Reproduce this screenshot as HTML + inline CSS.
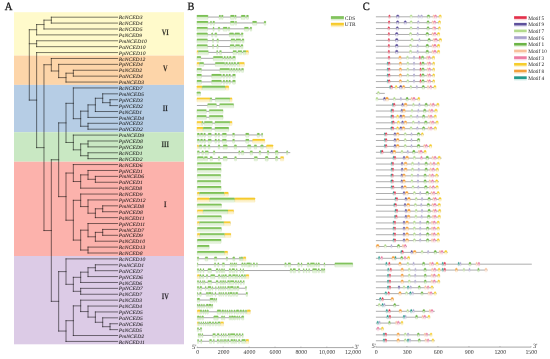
<!DOCTYPE html>
<html><head><meta charset="utf-8"><style>
html,body{margin:0;padding:0;background:#fff;}
body{width:550px;height:359px;overflow:hidden;font-family:"Liberation Serif",serif;}
svg{display:block;will-change:transform;filter:blur(0.35px);text-rendering:geometricPrecision;}
</style></head><body>
<svg width="550" height="359" viewBox="0 0 550 359">
<defs>
<linearGradient id="gc" x1="0" y1="0" x2="0" y2="1"><stop offset="0" stop-color="#74bb4c"/><stop offset="0.36" stop-color="#8cc96a"/><stop offset="0.46" stop-color="#d3ebc5"/><stop offset="0.8" stop-color="#e6f3de"/><stop offset="1" stop-color="#f4faf0"/></linearGradient>
<linearGradient id="gu" x1="0" y1="0" x2="0" y2="1"><stop offset="0" stop-color="#f5c51f"/><stop offset="0.36" stop-color="#f8d240"/><stop offset="0.46" stop-color="#fbe9ad"/><stop offset="0.8" stop-color="#fdf3d2"/><stop offset="1" stop-color="#fefaea"/></linearGradient>
<linearGradient id="gcl" x1="0" y1="0" x2="0" y2="1"><stop offset="0" stop-color="#74bb4c"/><stop offset="0.5" stop-color="#8cc96a"/><stop offset="0.62" stop-color="#d3ebc5"/><stop offset="1" stop-color="#f4faf0"/></linearGradient>
<linearGradient id="gul" x1="0" y1="0" x2="0" y2="1"><stop offset="0" stop-color="#f5c51f"/><stop offset="0.5" stop-color="#f8d240"/><stop offset="0.62" stop-color="#fbe9ad"/><stop offset="1" stop-color="#fefaea"/></linearGradient>
</defs>
<rect x="0" y="0" width="550" height="359" fill="#ffffff"/>
<rect x="14.0" y="12.2" width="170.0" height="43.40" fill="#fffacb"/>
<rect x="14.0" y="55.6" width="170.0" height="29.30" fill="#fdd5a9"/>
<rect x="14.0" y="84.9" width="170.0" height="47.30" fill="#b6cde5"/>
<rect x="14.0" y="132.2" width="170.0" height="29.50" fill="#c9e8c3"/>
<rect x="14.0" y="161.7" width="170.0" height="94.30" fill="#fcb2ac"/>
<rect x="14.0" y="256.0" width="170.0" height="88.30" fill="#dccbe6"/>
<path d="M51.32 17.20L117.60 17.20M51.32 23.09L117.60 23.09M51.32 17.20L51.32 23.09M43.98 20.15L51.32 20.15M43.98 28.99L117.60 28.99M43.98 20.15L43.98 28.99M36.64 24.57L43.98 24.57M36.64 34.88L117.60 34.88M36.64 24.57L36.64 34.88M29.30 29.73L36.64 29.73M36.64 40.78L117.60 40.78M36.64 46.67L117.60 46.67M36.64 40.78L36.64 46.67M29.30 43.73L36.64 43.73M36.64 52.57L117.60 52.57M51.32 58.47L117.60 58.47M58.66 64.36L117.60 64.36M73.34 70.25L117.60 70.25M73.34 76.15L117.60 76.15M73.34 70.25L73.34 76.15M66.00 73.20L73.34 73.20M66.00 82.05L117.60 82.05M66.00 73.20L66.00 82.05M58.66 77.62L66.00 77.62M58.66 64.36L58.66 77.62M51.32 70.99L58.66 70.99M51.32 58.47L51.32 70.99M43.98 64.73L51.32 64.73M73.34 87.94L117.60 87.94M102.70 93.83L117.60 93.83M110.04 99.73L117.60 99.73M110.04 105.62L117.60 105.62M110.04 99.73L110.04 105.62M102.70 102.68L110.04 102.68M102.70 93.83L102.70 102.68M95.36 98.26L102.70 98.26M95.36 111.52L117.60 111.52M95.36 98.26L95.36 111.52M88.02 104.89L95.36 104.89M88.02 117.41L117.60 117.41M88.02 104.89L88.02 117.41M80.68 111.15L88.02 111.15M88.02 123.31L117.60 123.31M88.02 129.20L117.60 129.20M88.02 123.31L88.02 129.20M80.68 126.26L88.02 126.26M80.68 111.15L80.68 126.26M73.34 118.70L80.68 118.70M73.34 87.94L73.34 118.70M66.00 103.32L73.34 103.32M73.34 135.10L117.60 135.10M88.02 140.99L117.60 140.99M88.02 146.89L117.60 146.89M88.02 140.99L88.02 146.89M80.68 143.94L88.02 143.94M88.02 152.78L117.60 152.78M88.02 158.68L117.60 158.68M88.02 152.78L88.02 158.68M80.68 155.73L88.02 155.73M80.68 143.94L80.68 155.73M73.34 149.84L80.68 149.84M73.34 135.10L73.34 149.84M66.00 142.47L73.34 142.47M66.00 103.32L66.00 142.47M58.66 122.90L66.00 122.90M73.34 164.57L117.60 164.57M88.02 170.47L117.60 170.47M95.36 176.36L117.60 176.36M95.36 182.26L117.60 182.26M95.36 176.36L95.36 182.26M88.02 179.31L95.36 179.31M88.02 170.47L88.02 179.31M80.68 174.89L88.02 174.89M80.68 188.15L117.60 188.15M80.68 174.89L80.68 188.15M73.34 181.52L80.68 181.52M73.34 164.57L73.34 181.52M66.00 173.05L73.34 173.05M80.68 194.05L117.60 194.05M88.02 199.94L117.60 199.94M102.70 205.84L117.60 205.84M102.70 211.73L117.60 211.73M102.70 205.84L102.70 211.73M95.36 208.79L102.70 208.79M95.36 217.63L117.60 217.63M95.36 208.79L95.36 217.63M88.02 213.21L95.36 213.21M88.02 199.94L88.02 213.21M80.68 206.58L88.02 206.58M80.68 194.05L80.68 206.58M73.34 200.31L80.68 200.31M88.02 223.52L117.60 223.52M102.70 229.42L117.60 229.42M102.70 235.31L117.60 235.31M102.70 229.42L102.70 235.31M95.36 232.37L102.70 232.37M95.36 241.21L117.60 241.21M95.36 232.37L95.36 241.21M88.02 236.79L95.36 236.79M88.02 223.52L88.02 236.79M80.68 230.16L88.02 230.16M88.02 247.10L117.60 247.10M88.02 253.00L117.60 253.00M88.02 247.10L88.02 253.00M80.68 250.05L88.02 250.05M80.68 230.16L80.68 250.05M73.34 240.10L80.68 240.10M73.34 200.31L73.34 240.10M66.00 220.21L73.34 220.21M66.00 173.05L66.00 220.21M58.66 196.63L66.00 196.63M58.66 122.90L58.66 196.63M51.32 159.76L58.66 159.76M66.00 258.89L117.60 258.89M95.36 264.79L117.60 264.79M95.36 270.69L117.60 270.69M95.36 264.79L95.36 270.69M88.02 267.74L95.36 267.74M88.02 276.58L117.60 276.58M88.02 267.74L88.02 276.58M80.68 272.16L88.02 272.16M80.68 282.47L117.60 282.47M80.68 272.16L80.68 282.47M73.34 277.32L80.68 277.32M80.68 288.37L117.60 288.37M80.68 294.26L117.60 294.26M80.68 288.37L80.68 294.26M73.34 291.32L80.68 291.32M73.34 277.32L73.34 291.32M66.00 284.32L73.34 284.32M66.00 258.89L66.00 284.32M58.66 271.61L66.00 271.61M80.68 300.16L117.60 300.16M88.02 306.05L117.60 306.05M95.36 311.95L117.60 311.95M102.70 317.84L117.60 317.84M110.04 323.74L117.60 323.74M110.04 329.63L117.60 329.63M110.04 323.74L110.04 329.63M102.70 326.69L110.04 326.69M102.70 317.84L102.70 326.69M95.36 322.27L102.70 322.27M95.36 311.95L95.36 322.27M88.02 317.11L95.36 317.11M88.02 306.05L88.02 317.11M80.68 311.58L88.02 311.58M80.68 300.16L80.68 311.58M73.34 305.87L80.68 305.87M73.34 335.53L117.60 335.53M73.34 305.87L73.34 335.53M66.00 320.70L73.34 320.70M66.00 341.42L117.60 341.42M66.00 320.70L66.00 341.42M58.66 331.06L66.00 331.06M58.66 271.61L58.66 331.06M51.32 301.33L58.66 301.33M51.32 159.76L51.32 301.33M43.98 230.55L51.32 230.55M43.98 64.73L43.98 230.55M36.64 147.64L43.98 147.64M36.64 52.57L36.64 147.64M29.30 100.10L36.64 100.10M29.30 29.73L29.30 100.10" stroke="#000" stroke-opacity="0.52" stroke-width="1.0" fill="none" stroke-linecap="square"/>
<g font-family="Liberation Serif" font-style="italic" font-size="5.1" fill="#000" fill-opacity="0.78" stroke="#000" stroke-opacity="0.3" stroke-width="0.2">
<text transform="translate(118.8 19.30) scale(1.1 1)">RcNCED3</text>
<text transform="translate(118.8 25.20) scale(1.1 1)">RcNCED4</text>
<text transform="translate(118.8 31.09) scale(1.1 1)">RcNCED5</text>
<text transform="translate(118.8 36.98) scale(1.1 1)">PsNCED9</text>
<text transform="translate(118.8 42.88) scale(1.1 1)">PmNCED10</text>
<text transform="translate(118.8 48.77) scale(1.1 1)">PaNCED10</text>
<text transform="translate(118.8 54.67) scale(1.1 1)">PpNCED10</text>
<text transform="translate(118.8 60.57) scale(1.1 1)">RcNCED12</text>
<text transform="translate(118.8 66.46) scale(1.1 1)">PpNCED4</text>
<text transform="translate(118.8 72.35) scale(1.1 1)">PsNCED2</text>
<text transform="translate(118.8 78.25) scale(1.1 1)">PaNCED4</text>
<text transform="translate(118.8 84.14) scale(1.1 1)">PmNCED3</text>
<text transform="translate(118.8 90.04) scale(1.1 1)">RcNCED7</text>
<text transform="translate(118.8 95.93) scale(1.1 1)">PmNCED5</text>
<text transform="translate(118.8 101.83) scale(1.1 1)">PpNCED3</text>
<text transform="translate(118.8 107.72) scale(1.1 1)">PpNCED2</text>
<text transform="translate(118.8 113.62) scale(1.1 1)">PsNCED1</text>
<text transform="translate(118.8 119.51) scale(1.1 1)">PmNCED4</text>
<text transform="translate(118.8 125.41) scale(1.1 1)">PaNCED3</text>
<text transform="translate(118.8 131.30) scale(1.1 1)">PaNCED2</text>
<text transform="translate(118.8 137.20) scale(1.1 1)">PmNCED9</text>
<text transform="translate(118.8 143.09) scale(1.1 1)">PpNCED8</text>
<text transform="translate(118.8 148.99) scale(1.1 1)">PpNCED9</text>
<text transform="translate(118.8 154.88) scale(1.1 1)">RcNCED1</text>
<text transform="translate(118.8 160.78) scale(1.1 1)">RcNCED2</text>
<text transform="translate(118.8 166.67) scale(1.1 1)">RcNCED6</text>
<text transform="translate(118.8 172.57) scale(1.1 1)">PpNCED1</text>
<text transform="translate(118.8 178.46) scale(1.1 1)">PmNCED6</text>
<text transform="translate(118.8 184.36) scale(1.1 1)">PaNCED1</text>
<text transform="translate(118.8 190.25) scale(1.1 1)">PsNCED8</text>
<text transform="translate(118.8 196.15) scale(1.1 1)">RcNCED9</text>
<text transform="translate(118.8 202.04) scale(1.1 1)">PpNCED12</text>
<text transform="translate(118.8 207.94) scale(1.1 1)">PmNCED8</text>
<text transform="translate(118.8 213.83) scale(1.1 1)">PaNCED8</text>
<text transform="translate(118.8 219.73) scale(1.1 1)">PsNCED11</text>
<text transform="translate(118.8 225.62) scale(1.1 1)">PpNCED11</text>
<text transform="translate(118.8 231.52) scale(1.1 1)">PmNCED7</text>
<text transform="translate(118.8 237.41) scale(1.1 1)">PaNCED9</text>
<text transform="translate(118.8 243.31) scale(1.1 1)">PsNCED10</text>
<text transform="translate(118.8 249.20) scale(1.1 1)">RcNCED13</text>
<text transform="translate(118.8 255.10) scale(1.1 1)">RcNCED8</text>
<text transform="translate(118.8 261.00) scale(1.1 1)">RcNCED10</text>
<text transform="translate(118.8 266.89) scale(1.1 1)">PmNCED1</text>
<text transform="translate(118.8 272.79) scale(1.1 1)">PaNCED7</text>
<text transform="translate(118.8 278.68) scale(1.1 1)">PpNCED6</text>
<text transform="translate(118.8 284.57) scale(1.1 1)">PsNCED6</text>
<text transform="translate(118.8 290.47) scale(1.1 1)">PpNCED7</text>
<text transform="translate(118.8 296.37) scale(1.1 1)">PsNCED7</text>
<text transform="translate(118.8 302.26) scale(1.1 1)">PsNCED3</text>
<text transform="translate(118.8 308.15) scale(1.1 1)">PsNCED4</text>
<text transform="translate(118.8 314.05) scale(1.1 1)">PpNCED5</text>
<text transform="translate(118.8 319.94) scale(1.1 1)">PaNCED5</text>
<text transform="translate(118.8 325.84) scale(1.1 1)">PaNCED6</text>
<text transform="translate(118.8 331.74) scale(1.1 1)">PsNCED5</text>
<text transform="translate(118.8 337.63) scale(1.1 1)">PmNCED2</text>
<text transform="translate(118.8 343.52) scale(1.1 1)">RcNCED11</text>
</g>
<g font-family="Liberation Serif" font-weight="bold" font-size="8.6" fill="#000" fill-opacity="0.75" stroke="#000" stroke-opacity="0.45" stroke-width="0.3" text-anchor="middle">
<text transform="translate(165.3 34.85) scale(0.74 1)">VI</text>
<text transform="translate(165.3 70.65) scale(0.74 1)">V</text>
<text transform="translate(165.3 110.65) scale(0.74 1)">II</text>
<text transform="translate(165.3 146.75) scale(0.74 1)">III</text>
<text transform="translate(165.3 206.85) scale(0.74 1)">I</text>
<text transform="translate(165.3 298.65) scale(0.74 1)">IV</text>
</g>
<g font-family="Liberation Serif" font-size="11.2" fill="#111" stroke="#111" stroke-width="0.25">
<text transform="translate(4.7 9.7) scale(0.95 1)">A</text>
<text transform="translate(187.6 9.75) scale(0.92 1)">B</text>
<text transform="translate(362.8 9.8) scale(0.94 1)">C</text>
</g>
<line x1="196.91" y1="17.05" x2="248.46" y2="17.05" stroke="#8c8c8c" stroke-width="0.75"/>
<rect x="196.91" y="15.10" width="11.13" height="4.3" rx="0.4" fill="url(#gc)" stroke="#8cc86a" stroke-opacity="0.55" stroke-width="0.3"/>
<rect x="219.00" y="15.10" width="1.64" height="4.3" rx="0.4" fill="url(#gc)" stroke="#8cc86a" stroke-opacity="0.55" stroke-width="0.3"/>
<rect x="221.46" y="15.10" width="1.64" height="4.3" rx="0.4" fill="url(#gc)" stroke="#8cc86a" stroke-opacity="0.55" stroke-width="0.3"/>
<rect x="230.46" y="15.10" width="3.76" height="4.3" rx="0.4" fill="url(#gc)" stroke="#8cc86a" stroke-opacity="0.55" stroke-width="0.3"/>
<rect x="234.88" y="15.10" width="1.31" height="4.3" rx="0.4" fill="url(#gc)" stroke="#8cc86a" stroke-opacity="0.55" stroke-width="0.3"/>
<rect x="241.10" y="15.10" width="4.09" height="4.3" rx="0.4" fill="url(#gc)" stroke="#8cc86a" stroke-opacity="0.55" stroke-width="0.3"/>
<rect x="246.50" y="15.10" width="1.96" height="4.3" rx="0.4" fill="url(#gc)" stroke="#8cc86a" stroke-opacity="0.55" stroke-width="0.3"/>
<line x1="196.91" y1="22.95" x2="265.98" y2="22.95" stroke="#8c8c8c" stroke-width="0.75"/>
<rect x="196.91" y="21.00" width="11.13" height="4.3" rx="0.4" fill="url(#gc)" stroke="#8cc86a" stroke-opacity="0.55" stroke-width="0.3"/>
<rect x="210.33" y="21.00" width="1.31" height="4.3" rx="0.4" fill="url(#gc)" stroke="#8cc86a" stroke-opacity="0.55" stroke-width="0.3"/>
<rect x="212.95" y="21.00" width="1.64" height="4.3" rx="0.4" fill="url(#gc)" stroke="#8cc86a" stroke-opacity="0.55" stroke-width="0.3"/>
<rect x="230.46" y="21.00" width="3.76" height="4.3" rx="0.4" fill="url(#gc)" stroke="#8cc86a" stroke-opacity="0.55" stroke-width="0.3"/>
<rect x="235.37" y="21.00" width="1.15" height="4.3" rx="0.4" fill="url(#gc)" stroke="#8cc86a" stroke-opacity="0.55" stroke-width="0.3"/>
<rect x="252.56" y="21.00" width="4.09" height="4.3" rx="0.4" fill="url(#gc)" stroke="#8cc86a" stroke-opacity="0.55" stroke-width="0.3"/>
<rect x="264.01" y="21.00" width="1.96" height="4.3" rx="0.4" fill="url(#gc)" stroke="#8cc86a" stroke-opacity="0.55" stroke-width="0.3"/>
<line x1="196.91" y1="28.84" x2="251.74" y2="28.84" stroke="#8c8c8c" stroke-width="0.75"/>
<rect x="196.91" y="26.89" width="10.64" height="4.3" rx="0.4" fill="url(#gc)" stroke="#8cc86a" stroke-opacity="0.55" stroke-width="0.3"/>
<rect x="212.95" y="26.89" width="1.15" height="4.3" rx="0.4" fill="url(#gc)" stroke="#8cc86a" stroke-opacity="0.55" stroke-width="0.3"/>
<rect x="218.19" y="26.89" width="1.64" height="4.3" rx="0.4" fill="url(#gc)" stroke="#8cc86a" stroke-opacity="0.55" stroke-width="0.3"/>
<rect x="223.10" y="26.89" width="4.09" height="4.3" rx="0.4" fill="url(#gc)" stroke="#8cc86a" stroke-opacity="0.55" stroke-width="0.3"/>
<rect x="228.33" y="26.89" width="1.31" height="4.3" rx="0.4" fill="url(#gc)" stroke="#8cc86a" stroke-opacity="0.55" stroke-width="0.3"/>
<rect x="244.37" y="26.89" width="4.09" height="4.3" rx="0.4" fill="url(#gc)" stroke="#8cc86a" stroke-opacity="0.55" stroke-width="0.3"/>
<rect x="250.10" y="26.89" width="1.64" height="4.3" rx="0.4" fill="url(#gc)" stroke="#8cc86a" stroke-opacity="0.55" stroke-width="0.3"/>
<line x1="196.91" y1="34.73" x2="243.06" y2="34.73" stroke="#8c8c8c" stroke-width="0.75"/>
<rect x="196.91" y="32.78" width="10.64" height="4.3" rx="0.4" fill="url(#gc)" stroke="#8cc86a" stroke-opacity="0.55" stroke-width="0.3"/>
<rect x="211.64" y="32.78" width="1.31" height="4.3" rx="0.4" fill="url(#gc)" stroke="#8cc86a" stroke-opacity="0.55" stroke-width="0.3"/>
<rect x="214.91" y="32.78" width="1.96" height="4.3" rx="0.4" fill="url(#gc)" stroke="#8cc86a" stroke-opacity="0.55" stroke-width="0.3"/>
<rect x="229.32" y="32.78" width="4.42" height="4.3" rx="0.4" fill="url(#gc)" stroke="#8cc86a" stroke-opacity="0.55" stroke-width="0.3"/>
<rect x="234.88" y="32.78" width="4.91" height="4.3" rx="0.4" fill="url(#gc)" stroke="#8cc86a" stroke-opacity="0.55" stroke-width="0.3"/>
<rect x="241.10" y="32.78" width="1.96" height="4.3" rx="0.4" fill="url(#gc)" stroke="#8cc86a" stroke-opacity="0.55" stroke-width="0.3"/>
<line x1="196.91" y1="40.63" x2="244.05" y2="40.63" stroke="#8c8c8c" stroke-width="0.75"/>
<rect x="196.91" y="38.68" width="10.64" height="4.3" rx="0.4" fill="url(#gc)" stroke="#8cc86a" stroke-opacity="0.55" stroke-width="0.3"/>
<rect x="212.46" y="38.68" width="1.15" height="4.3" rx="0.4" fill="url(#gc)" stroke="#8cc86a" stroke-opacity="0.55" stroke-width="0.3"/>
<rect x="216.88" y="38.68" width="1.64" height="4.3" rx="0.4" fill="url(#gc)" stroke="#8cc86a" stroke-opacity="0.55" stroke-width="0.3"/>
<rect x="230.95" y="38.68" width="3.93" height="4.3" rx="0.4" fill="url(#gc)" stroke="#8cc86a" stroke-opacity="0.55" stroke-width="0.3"/>
<rect x="235.86" y="38.68" width="4.91" height="4.3" rx="0.4" fill="url(#gc)" stroke="#8cc86a" stroke-opacity="0.55" stroke-width="0.3"/>
<rect x="241.92" y="38.68" width="2.13" height="4.3" rx="0.4" fill="url(#gc)" stroke="#8cc86a" stroke-opacity="0.55" stroke-width="0.3"/>
<line x1="196.91" y1="46.52" x2="243.06" y2="46.52" stroke="#8c8c8c" stroke-width="0.75"/>
<rect x="196.91" y="44.57" width="10.64" height="4.3" rx="0.4" fill="url(#gc)" stroke="#8cc86a" stroke-opacity="0.55" stroke-width="0.3"/>
<rect x="212.46" y="44.57" width="1.15" height="4.3" rx="0.4" fill="url(#gc)" stroke="#8cc86a" stroke-opacity="0.55" stroke-width="0.3"/>
<rect x="216.88" y="44.57" width="1.31" height="4.3" rx="0.4" fill="url(#gc)" stroke="#8cc86a" stroke-opacity="0.55" stroke-width="0.3"/>
<rect x="229.97" y="44.57" width="4.26" height="4.3" rx="0.4" fill="url(#gc)" stroke="#8cc86a" stroke-opacity="0.55" stroke-width="0.3"/>
<rect x="235.37" y="44.57" width="4.42" height="4.3" rx="0.4" fill="url(#gc)" stroke="#8cc86a" stroke-opacity="0.55" stroke-width="0.3"/>
<rect x="240.77" y="44.57" width="2.29" height="4.3" rx="0.4" fill="url(#gc)" stroke="#8cc86a" stroke-opacity="0.55" stroke-width="0.3"/>
<line x1="196.91" y1="52.42" x2="248.46" y2="52.42" stroke="#8c8c8c" stroke-width="0.75"/>
<rect x="196.91" y="50.47" width="1.31" height="4.3" rx="0.4" fill="url(#gu)" stroke="#f5cf3a" stroke-opacity="0.55" stroke-width="0.3"/>
<rect x="198.22" y="50.47" width="10.15" height="4.3" rx="0.4" fill="url(#gc)" stroke="#8cc86a" stroke-opacity="0.55" stroke-width="0.3"/>
<rect x="216.55" y="50.47" width="1.31" height="4.3" rx="0.4" fill="url(#gc)" stroke="#8cc86a" stroke-opacity="0.55" stroke-width="0.3"/>
<rect x="219.50" y="50.47" width="1.96" height="4.3" rx="0.4" fill="url(#gc)" stroke="#8cc86a" stroke-opacity="0.55" stroke-width="0.3"/>
<rect x="232.92" y="50.47" width="3.60" height="4.3" rx="0.4" fill="url(#gc)" stroke="#8cc86a" stroke-opacity="0.55" stroke-width="0.3"/>
<rect x="237.83" y="50.47" width="4.09" height="4.3" rx="0.4" fill="url(#gc)" stroke="#8cc86a" stroke-opacity="0.55" stroke-width="0.3"/>
<rect x="243.06" y="50.47" width="2.95" height="4.3" rx="0.4" fill="url(#gc)" stroke="#8cc86a" stroke-opacity="0.55" stroke-width="0.3"/>
<rect x="246.01" y="50.47" width="2.45" height="4.3" rx="0.4" fill="url(#gu)" stroke="#f5cf3a" stroke-opacity="0.55" stroke-width="0.3"/>
<line x1="196.91" y1="58.32" x2="235.37" y2="58.32" stroke="#8c8c8c" stroke-width="0.75"/>
<rect x="196.91" y="56.37" width="4.09" height="4.3" rx="0.4" fill="url(#gc)" stroke="#8cc86a" stroke-opacity="0.55" stroke-width="0.3"/>
<rect x="213.28" y="56.37" width="9.49" height="4.3" rx="0.4" fill="url(#gc)" stroke="#8cc86a" stroke-opacity="0.55" stroke-width="0.3"/>
<rect x="223.91" y="56.37" width="1.64" height="4.3" rx="0.4" fill="url(#gc)" stroke="#8cc86a" stroke-opacity="0.55" stroke-width="0.3"/>
<rect x="226.70" y="56.37" width="1.64" height="4.3" rx="0.4" fill="url(#gc)" stroke="#8cc86a" stroke-opacity="0.55" stroke-width="0.3"/>
<rect x="229.32" y="56.37" width="1.96" height="4.3" rx="0.4" fill="url(#gc)" stroke="#8cc86a" stroke-opacity="0.55" stroke-width="0.3"/>
<rect x="232.59" y="56.37" width="2.78" height="4.3" rx="0.4" fill="url(#gc)" stroke="#8cc86a" stroke-opacity="0.55" stroke-width="0.3"/>
<line x1="196.91" y1="64.21" x2="244.37" y2="64.21" stroke="#8c8c8c" stroke-width="0.75"/>
<rect x="196.91" y="62.26" width="2.45" height="4.3" rx="0.4" fill="url(#gu)" stroke="#f5cf3a" stroke-opacity="0.55" stroke-width="0.3"/>
<rect x="199.36" y="62.26" width="4.42" height="4.3" rx="0.4" fill="url(#gc)" stroke="#8cc86a" stroke-opacity="0.55" stroke-width="0.3"/>
<rect x="215.24" y="62.26" width="9.49" height="4.3" rx="0.4" fill="url(#gc)" stroke="#8cc86a" stroke-opacity="0.55" stroke-width="0.3"/>
<rect x="225.55" y="62.26" width="2.13" height="4.3" rx="0.4" fill="url(#gc)" stroke="#8cc86a" stroke-opacity="0.55" stroke-width="0.3"/>
<rect x="228.82" y="62.26" width="1.64" height="4.3" rx="0.4" fill="url(#gc)" stroke="#8cc86a" stroke-opacity="0.55" stroke-width="0.3"/>
<rect x="231.28" y="62.26" width="1.64" height="4.3" rx="0.4" fill="url(#gc)" stroke="#8cc86a" stroke-opacity="0.55" stroke-width="0.3"/>
<rect x="233.73" y="62.26" width="2.13" height="4.3" rx="0.4" fill="url(#gc)" stroke="#8cc86a" stroke-opacity="0.55" stroke-width="0.3"/>
<rect x="237.01" y="62.26" width="2.45" height="4.3" rx="0.4" fill="url(#gc)" stroke="#8cc86a" stroke-opacity="0.55" stroke-width="0.3"/>
<rect x="239.46" y="62.26" width="4.91" height="4.3" rx="0.4" fill="url(#gu)" stroke="#f5cf3a" stroke-opacity="0.55" stroke-width="0.3"/>
<line x1="196.91" y1="70.10" x2="243.55" y2="70.10" stroke="#8c8c8c" stroke-width="0.75"/>
<rect x="196.91" y="68.15" width="4.58" height="4.3" rx="0.4" fill="url(#gc)" stroke="#8cc86a" stroke-opacity="0.55" stroke-width="0.3"/>
<rect x="219.82" y="68.15" width="9.82" height="4.3" rx="0.4" fill="url(#gc)" stroke="#8cc86a" stroke-opacity="0.55" stroke-width="0.3"/>
<rect x="230.63" y="68.15" width="1.64" height="4.3" rx="0.4" fill="url(#gc)" stroke="#8cc86a" stroke-opacity="0.55" stroke-width="0.3"/>
<rect x="233.24" y="68.15" width="1.64" height="4.3" rx="0.4" fill="url(#gc)" stroke="#8cc86a" stroke-opacity="0.55" stroke-width="0.3"/>
<rect x="235.86" y="68.15" width="1.64" height="4.3" rx="0.4" fill="url(#gc)" stroke="#8cc86a" stroke-opacity="0.55" stroke-width="0.3"/>
<rect x="238.64" y="68.15" width="1.64" height="4.3" rx="0.4" fill="url(#gc)" stroke="#8cc86a" stroke-opacity="0.55" stroke-width="0.3"/>
<rect x="241.43" y="68.15" width="2.13" height="4.3" rx="0.4" fill="url(#gc)" stroke="#8cc86a" stroke-opacity="0.55" stroke-width="0.3"/>
<line x1="196.91" y1="76.00" x2="235.37" y2="76.00" stroke="#8c8c8c" stroke-width="0.75"/>
<rect x="196.91" y="74.05" width="4.58" height="4.3" rx="0.4" fill="url(#gc)" stroke="#8cc86a" stroke-opacity="0.55" stroke-width="0.3"/>
<rect x="211.64" y="74.05" width="9.82" height="4.3" rx="0.4" fill="url(#gc)" stroke="#8cc86a" stroke-opacity="0.55" stroke-width="0.3"/>
<rect x="222.77" y="74.05" width="1.96" height="4.3" rx="0.4" fill="url(#gc)" stroke="#8cc86a" stroke-opacity="0.55" stroke-width="0.3"/>
<rect x="226.04" y="74.05" width="1.64" height="4.3" rx="0.4" fill="url(#gc)" stroke="#8cc86a" stroke-opacity="0.55" stroke-width="0.3"/>
<rect x="228.82" y="74.05" width="1.64" height="4.3" rx="0.4" fill="url(#gc)" stroke="#8cc86a" stroke-opacity="0.55" stroke-width="0.3"/>
<rect x="232.59" y="74.05" width="2.78" height="4.3" rx="0.4" fill="url(#gc)" stroke="#8cc86a" stroke-opacity="0.55" stroke-width="0.3"/>
<line x1="196.91" y1="81.89" x2="235.37" y2="81.89" stroke="#8c8c8c" stroke-width="0.75"/>
<rect x="196.91" y="79.94" width="4.58" height="4.3" rx="0.4" fill="url(#gc)" stroke="#8cc86a" stroke-opacity="0.55" stroke-width="0.3"/>
<rect x="211.64" y="79.94" width="9.82" height="4.3" rx="0.4" fill="url(#gc)" stroke="#8cc86a" stroke-opacity="0.55" stroke-width="0.3"/>
<rect x="223.10" y="79.94" width="1.64" height="4.3" rx="0.4" fill="url(#gc)" stroke="#8cc86a" stroke-opacity="0.55" stroke-width="0.3"/>
<rect x="226.04" y="79.94" width="1.64" height="4.3" rx="0.4" fill="url(#gc)" stroke="#8cc86a" stroke-opacity="0.55" stroke-width="0.3"/>
<rect x="228.82" y="79.94" width="1.64" height="4.3" rx="0.4" fill="url(#gc)" stroke="#8cc86a" stroke-opacity="0.55" stroke-width="0.3"/>
<rect x="232.59" y="79.94" width="2.78" height="4.3" rx="0.4" fill="url(#gc)" stroke="#8cc86a" stroke-opacity="0.55" stroke-width="0.3"/>
<line x1="196.91" y1="87.79" x2="228.82" y2="87.79" stroke="#8c8c8c" stroke-width="0.75"/>
<rect x="196.91" y="85.84" width="5.24" height="4.3" rx="0.4" fill="url(#gu)" stroke="#f5cf3a" stroke-opacity="0.55" stroke-width="0.3"/>
<rect x="202.15" y="85.84" width="23.40" height="4.3" rx="0.4" fill="url(#gc)" stroke="#8cc86a" stroke-opacity="0.55" stroke-width="0.3"/>
<rect x="225.55" y="85.84" width="3.27" height="4.3" rx="0.4" fill="url(#gu)" stroke="#f5cf3a" stroke-opacity="0.55" stroke-width="0.3"/>
<line x1="196.91" y1="93.68" x2="200.51" y2="93.68" stroke="#8c8c8c" stroke-width="0.75"/>
<rect x="196.91" y="91.73" width="3.60" height="4.3" rx="0.4" fill="url(#gc)" stroke="#8cc86a" stroke-opacity="0.55" stroke-width="0.3"/>
<line x1="196.91" y1="99.58" x2="232.10" y2="99.58" stroke="#8c8c8c" stroke-width="0.75"/>
<rect x="196.91" y="97.63" width="13.09" height="4.3" rx="0.4" fill="url(#gu)" stroke="#f5cf3a" stroke-opacity="0.55" stroke-width="0.3"/>
<rect x="210.00" y="97.63" width="1.96" height="4.3" rx="0.4" fill="url(#gc)" stroke="#8cc86a" stroke-opacity="0.55" stroke-width="0.3"/>
<rect x="215.24" y="97.63" width="14.73" height="4.3" rx="0.4" fill="url(#gc)" stroke="#8cc86a" stroke-opacity="0.55" stroke-width="0.3"/>
<rect x="229.97" y="97.63" width="2.13" height="4.3" rx="0.4" fill="url(#gu)" stroke="#f5cf3a" stroke-opacity="0.55" stroke-width="0.3"/>
<line x1="196.91" y1="105.47" x2="233.73" y2="105.47" stroke="#8c8c8c" stroke-width="0.75"/>
<rect x="207.55" y="103.52" width="9.00" height="4.3" rx="0.4" fill="url(#gc)" stroke="#8cc86a" stroke-opacity="0.55" stroke-width="0.3"/>
<rect x="219.50" y="103.52" width="14.24" height="4.3" rx="0.4" fill="url(#gc)" stroke="#8cc86a" stroke-opacity="0.55" stroke-width="0.3"/>
<line x1="196.91" y1="111.37" x2="223.10" y2="111.37" stroke="#8c8c8c" stroke-width="0.75"/>
<rect x="196.91" y="109.42" width="9.49" height="4.3" rx="0.4" fill="url(#gc)" stroke="#8cc86a" stroke-opacity="0.55" stroke-width="0.3"/>
<rect x="209.18" y="109.42" width="13.91" height="4.3" rx="0.4" fill="url(#gc)" stroke="#8cc86a" stroke-opacity="0.55" stroke-width="0.3"/>
<line x1="196.91" y1="117.26" x2="223.10" y2="117.26" stroke="#8c8c8c" stroke-width="0.75"/>
<rect x="196.91" y="115.31" width="9.49" height="4.3" rx="0.4" fill="url(#gc)" stroke="#8cc86a" stroke-opacity="0.55" stroke-width="0.3"/>
<rect x="209.18" y="115.31" width="13.91" height="4.3" rx="0.4" fill="url(#gc)" stroke="#8cc86a" stroke-opacity="0.55" stroke-width="0.3"/>
<line x1="196.91" y1="123.16" x2="232.10" y2="123.16" stroke="#8c8c8c" stroke-width="0.75"/>
<rect x="196.91" y="121.21" width="4.91" height="4.3" rx="0.4" fill="url(#gu)" stroke="#f5cf3a" stroke-opacity="0.55" stroke-width="0.3"/>
<rect x="201.82" y="121.21" width="1.31" height="4.3" rx="0.4" fill="url(#gc)" stroke="#8cc86a" stroke-opacity="0.55" stroke-width="0.3"/>
<rect x="204.27" y="121.21" width="8.18" height="4.3" rx="0.4" fill="url(#gc)" stroke="#8cc86a" stroke-opacity="0.55" stroke-width="0.3"/>
<rect x="214.91" y="121.21" width="15.06" height="4.3" rx="0.4" fill="url(#gc)" stroke="#8cc86a" stroke-opacity="0.55" stroke-width="0.3"/>
<rect x="229.97" y="121.21" width="2.13" height="4.3" rx="0.4" fill="url(#gu)" stroke="#f5cf3a" stroke-opacity="0.55" stroke-width="0.3"/>
<line x1="196.91" y1="129.05" x2="228.82" y2="129.05" stroke="#8c8c8c" stroke-width="0.75"/>
<rect x="196.91" y="127.10" width="6.22" height="4.3" rx="0.4" fill="url(#gu)" stroke="#f5cf3a" stroke-opacity="0.55" stroke-width="0.3"/>
<rect x="203.13" y="127.10" width="8.51" height="4.3" rx="0.4" fill="url(#gc)" stroke="#8cc86a" stroke-opacity="0.55" stroke-width="0.3"/>
<rect x="214.91" y="127.10" width="13.91" height="4.3" rx="0.4" fill="url(#gc)" stroke="#8cc86a" stroke-opacity="0.55" stroke-width="0.3"/>
<line x1="197.24" y1="134.95" x2="262.70" y2="134.95" stroke="#8c8c8c" stroke-width="0.75"/>
<rect x="197.24" y="133.00" width="2.13" height="4.3" rx="0.4" fill="url(#gc)" stroke="#8cc86a" stroke-opacity="0.55" stroke-width="0.3"/>
<rect x="200.51" y="133.00" width="2.13" height="4.3" rx="0.4" fill="url(#gc)" stroke="#8cc86a" stroke-opacity="0.55" stroke-width="0.3"/>
<rect x="203.78" y="133.00" width="1.64" height="4.3" rx="0.4" fill="url(#gc)" stroke="#8cc86a" stroke-opacity="0.55" stroke-width="0.3"/>
<rect x="208.04" y="133.00" width="3.27" height="4.3" rx="0.4" fill="url(#gc)" stroke="#8cc86a" stroke-opacity="0.55" stroke-width="0.3"/>
<rect x="214.91" y="133.00" width="1.64" height="4.3" rx="0.4" fill="url(#gc)" stroke="#8cc86a" stroke-opacity="0.55" stroke-width="0.3"/>
<rect x="218.19" y="133.00" width="1.31" height="4.3" rx="0.4" fill="url(#gc)" stroke="#8cc86a" stroke-opacity="0.55" stroke-width="0.3"/>
<rect x="222.28" y="133.00" width="4.09" height="4.3" rx="0.4" fill="url(#gc)" stroke="#8cc86a" stroke-opacity="0.55" stroke-width="0.3"/>
<rect x="232.59" y="133.00" width="1.96" height="4.3" rx="0.4" fill="url(#gc)" stroke="#8cc86a" stroke-opacity="0.55" stroke-width="0.3"/>
<rect x="245.68" y="133.00" width="3.27" height="4.3" rx="0.4" fill="url(#gc)" stroke="#8cc86a" stroke-opacity="0.55" stroke-width="0.3"/>
<rect x="257.14" y="133.00" width="2.29" height="4.3" rx="0.4" fill="url(#gc)" stroke="#8cc86a" stroke-opacity="0.55" stroke-width="0.3"/>
<rect x="261.56" y="133.00" width="1.15" height="4.3" rx="0.4" fill="url(#gc)" stroke="#8cc86a" stroke-opacity="0.55" stroke-width="0.3"/>
<line x1="197.24" y1="140.84" x2="264.83" y2="140.84" stroke="#8c8c8c" stroke-width="0.75"/>
<rect x="197.24" y="138.89" width="2.13" height="4.3" rx="0.4" fill="url(#gc)" stroke="#8cc86a" stroke-opacity="0.55" stroke-width="0.3"/>
<rect x="200.51" y="138.89" width="2.13" height="4.3" rx="0.4" fill="url(#gc)" stroke="#8cc86a" stroke-opacity="0.55" stroke-width="0.3"/>
<rect x="203.78" y="138.89" width="1.64" height="4.3" rx="0.4" fill="url(#gc)" stroke="#8cc86a" stroke-opacity="0.55" stroke-width="0.3"/>
<rect x="208.04" y="138.89" width="3.27" height="4.3" rx="0.4" fill="url(#gc)" stroke="#8cc86a" stroke-opacity="0.55" stroke-width="0.3"/>
<rect x="214.91" y="138.89" width="1.64" height="4.3" rx="0.4" fill="url(#gc)" stroke="#8cc86a" stroke-opacity="0.55" stroke-width="0.3"/>
<rect x="218.19" y="138.89" width="1.31" height="4.3" rx="0.4" fill="url(#gc)" stroke="#8cc86a" stroke-opacity="0.55" stroke-width="0.3"/>
<rect x="222.28" y="138.89" width="4.09" height="4.3" rx="0.4" fill="url(#gc)" stroke="#8cc86a" stroke-opacity="0.55" stroke-width="0.3"/>
<rect x="232.59" y="138.89" width="1.96" height="4.3" rx="0.4" fill="url(#gc)" stroke="#8cc86a" stroke-opacity="0.55" stroke-width="0.3"/>
<rect x="245.68" y="138.89" width="3.27" height="4.3" rx="0.4" fill="url(#gc)" stroke="#8cc86a" stroke-opacity="0.55" stroke-width="0.3"/>
<rect x="252.56" y="138.89" width="12.27" height="4.3" rx="0.4" fill="url(#gu)" stroke="#f5cf3a" stroke-opacity="0.55" stroke-width="0.3"/>
<line x1="197.24" y1="146.74" x2="273.01" y2="146.74" stroke="#8c8c8c" stroke-width="0.75"/>
<rect x="197.24" y="144.79" width="1.31" height="4.3" rx="0.4" fill="url(#gu)" stroke="#f5cf3a" stroke-opacity="0.55" stroke-width="0.3"/>
<rect x="199.36" y="144.79" width="2.45" height="4.3" rx="0.4" fill="url(#gc)" stroke="#8cc86a" stroke-opacity="0.55" stroke-width="0.3"/>
<rect x="203.78" y="144.79" width="2.13" height="4.3" rx="0.4" fill="url(#gc)" stroke="#8cc86a" stroke-opacity="0.55" stroke-width="0.3"/>
<rect x="208.04" y="144.79" width="1.96" height="4.3" rx="0.4" fill="url(#gc)" stroke="#8cc86a" stroke-opacity="0.55" stroke-width="0.3"/>
<rect x="218.19" y="144.79" width="1.64" height="4.3" rx="0.4" fill="url(#gc)" stroke="#8cc86a" stroke-opacity="0.55" stroke-width="0.3"/>
<rect x="223.10" y="144.79" width="4.09" height="4.3" rx="0.4" fill="url(#gc)" stroke="#8cc86a" stroke-opacity="0.55" stroke-width="0.3"/>
<rect x="234.23" y="144.79" width="2.29" height="4.3" rx="0.4" fill="url(#gc)" stroke="#8cc86a" stroke-opacity="0.55" stroke-width="0.3"/>
<rect x="247.65" y="144.79" width="3.27" height="4.3" rx="0.4" fill="url(#gc)" stroke="#8cc86a" stroke-opacity="0.55" stroke-width="0.3"/>
<rect x="254.19" y="144.79" width="2.45" height="4.3" rx="0.4" fill="url(#gc)" stroke="#8cc86a" stroke-opacity="0.55" stroke-width="0.3"/>
<rect x="260.74" y="144.79" width="2.45" height="4.3" rx="0.4" fill="url(#gc)" stroke="#8cc86a" stroke-opacity="0.55" stroke-width="0.3"/>
<rect x="266.47" y="144.79" width="6.55" height="4.3" rx="0.4" fill="url(#gu)" stroke="#f5cf3a" stroke-opacity="0.55" stroke-width="0.3"/>
<line x1="197.24" y1="152.63" x2="290.28" y2="152.63" stroke="#8c8c8c" stroke-width="0.75"/>
<rect x="197.24" y="150.68" width="2.13" height="4.3" rx="0.4" fill="url(#gc)" stroke="#8cc86a" stroke-opacity="0.55" stroke-width="0.3"/>
<rect x="201.82" y="150.68" width="1.64" height="4.3" rx="0.4" fill="url(#gc)" stroke="#8cc86a" stroke-opacity="0.55" stroke-width="0.3"/>
<rect x="205.09" y="150.68" width="3.27" height="4.3" rx="0.4" fill="url(#gc)" stroke="#8cc86a" stroke-opacity="0.55" stroke-width="0.3"/>
<rect x="213.28" y="150.68" width="1.64" height="4.3" rx="0.4" fill="url(#gc)" stroke="#8cc86a" stroke-opacity="0.55" stroke-width="0.3"/>
<rect x="238.64" y="150.68" width="1.31" height="4.3" rx="0.4" fill="url(#gc)" stroke="#8cc86a" stroke-opacity="0.55" stroke-width="0.3"/>
<rect x="241.43" y="150.68" width="2.29" height="4.3" rx="0.4" fill="url(#gc)" stroke="#8cc86a" stroke-opacity="0.55" stroke-width="0.3"/>
<rect x="250.10" y="150.68" width="2.45" height="4.3" rx="0.4" fill="url(#gc)" stroke="#8cc86a" stroke-opacity="0.55" stroke-width="0.3"/>
<rect x="259.10" y="150.68" width="1.64" height="4.3" rx="0.4" fill="url(#gc)" stroke="#8cc86a" stroke-opacity="0.55" stroke-width="0.3"/>
<rect x="267.29" y="150.68" width="1.64" height="4.3" rx="0.4" fill="url(#gc)" stroke="#8cc86a" stroke-opacity="0.55" stroke-width="0.3"/>
<rect x="275.47" y="150.68" width="2.45" height="4.3" rx="0.4" fill="url(#gc)" stroke="#8cc86a" stroke-opacity="0.55" stroke-width="0.3"/>
<rect x="267.36" y="150.68" width="1.15" height="4.3" rx="0.4" fill="url(#gc)" stroke="#8cc86a" stroke-opacity="0.55" stroke-width="0.3"/>
<rect x="275.55" y="150.68" width="2.45" height="4.3" rx="0.4" fill="url(#gc)" stroke="#8cc86a" stroke-opacity="0.55" stroke-width="0.3"/>
<rect x="286.51" y="150.68" width="1.31" height="4.3" rx="0.4" fill="url(#gc)" stroke="#8cc86a" stroke-opacity="0.55" stroke-width="0.3"/>
<line x1="197.24" y1="158.53" x2="283.73" y2="158.53" stroke="#8c8c8c" stroke-width="0.75"/>
<rect x="197.24" y="156.58" width="6.22" height="4.3" rx="0.4" fill="url(#gc)" stroke="#8cc86a" stroke-opacity="0.55" stroke-width="0.3"/>
<rect x="204.27" y="156.58" width="3.27" height="4.3" rx="0.4" fill="url(#gc)" stroke="#8cc86a" stroke-opacity="0.55" stroke-width="0.3"/>
<rect x="210.00" y="156.58" width="2.45" height="4.3" rx="0.4" fill="url(#gc)" stroke="#8cc86a" stroke-opacity="0.55" stroke-width="0.3"/>
<rect x="218.19" y="156.58" width="1.64" height="4.3" rx="0.4" fill="url(#gc)" stroke="#8cc86a" stroke-opacity="0.55" stroke-width="0.3"/>
<rect x="223.10" y="156.58" width="4.09" height="4.3" rx="0.4" fill="url(#gc)" stroke="#8cc86a" stroke-opacity="0.55" stroke-width="0.3"/>
<rect x="234.55" y="156.58" width="1.96" height="4.3" rx="0.4" fill="url(#gc)" stroke="#8cc86a" stroke-opacity="0.55" stroke-width="0.3"/>
<rect x="254.19" y="156.58" width="3.27" height="4.3" rx="0.4" fill="url(#gc)" stroke="#8cc86a" stroke-opacity="0.55" stroke-width="0.3"/>
<rect x="265.65" y="156.58" width="2.45" height="4.3" rx="0.4" fill="url(#gc)" stroke="#8cc86a" stroke-opacity="0.55" stroke-width="0.3"/>
<rect x="275.47" y="156.58" width="1.64" height="4.3" rx="0.4" fill="url(#gc)" stroke="#8cc86a" stroke-opacity="0.55" stroke-width="0.3"/>
<rect x="265.24" y="156.58" width="2.62" height="4.3" rx="0.4" fill="url(#gc)" stroke="#8cc86a" stroke-opacity="0.55" stroke-width="0.3"/>
<rect x="276.04" y="156.58" width="1.64" height="4.3" rx="0.4" fill="url(#gc)" stroke="#8cc86a" stroke-opacity="0.55" stroke-width="0.3"/>
<rect x="280.46" y="156.58" width="3.27" height="4.3" rx="0.4" fill="url(#gu)" stroke="#f5cf3a" stroke-opacity="0.55" stroke-width="0.3"/>
<line x1="197.24" y1="164.42" x2="221.13" y2="164.42" stroke="#8c8c8c" stroke-width="0.75"/>
<rect x="197.24" y="162.47" width="23.90" height="4.3" rx="0.4" fill="url(#gc)" stroke="#8cc86a" stroke-opacity="0.55" stroke-width="0.3"/>
<line x1="197.24" y1="170.32" x2="221.13" y2="170.32" stroke="#8c8c8c" stroke-width="0.75"/>
<rect x="197.24" y="168.37" width="23.90" height="4.3" rx="0.4" fill="url(#gc)" stroke="#8cc86a" stroke-opacity="0.55" stroke-width="0.3"/>
<line x1="197.24" y1="176.21" x2="220.81" y2="176.21" stroke="#8c8c8c" stroke-width="0.75"/>
<rect x="197.24" y="174.26" width="23.57" height="4.3" rx="0.4" fill="url(#gc)" stroke="#8cc86a" stroke-opacity="0.55" stroke-width="0.3"/>
<line x1="197.24" y1="182.11" x2="220.81" y2="182.11" stroke="#8c8c8c" stroke-width="0.75"/>
<rect x="197.24" y="180.16" width="23.57" height="4.3" rx="0.4" fill="url(#gc)" stroke="#8cc86a" stroke-opacity="0.55" stroke-width="0.3"/>
<line x1="197.24" y1="188.00" x2="221.13" y2="188.00" stroke="#8c8c8c" stroke-width="0.75"/>
<rect x="197.24" y="186.05" width="23.90" height="4.3" rx="0.4" fill="url(#gc)" stroke="#8cc86a" stroke-opacity="0.55" stroke-width="0.3"/>
<line x1="197.24" y1="193.90" x2="228.33" y2="193.90" stroke="#8c8c8c" stroke-width="0.75"/>
<rect x="197.24" y="191.95" width="2.13" height="4.3" rx="0.4" fill="url(#gu)" stroke="#f5cf3a" stroke-opacity="0.55" stroke-width="0.3"/>
<rect x="199.36" y="191.95" width="25.04" height="4.3" rx="0.4" fill="url(#gc)" stroke="#8cc86a" stroke-opacity="0.55" stroke-width="0.3"/>
<rect x="224.41" y="191.95" width="3.93" height="4.3" rx="0.4" fill="url(#gu)" stroke="#f5cf3a" stroke-opacity="0.55" stroke-width="0.3"/>
<line x1="197.24" y1="199.79" x2="255.01" y2="199.79" stroke="#8c8c8c" stroke-width="0.75"/>
<rect x="197.24" y="197.84" width="12.44" height="4.3" rx="0.4" fill="url(#gu)" stroke="#f5cf3a" stroke-opacity="0.55" stroke-width="0.3"/>
<rect x="209.68" y="197.84" width="25.20" height="4.3" rx="0.4" fill="url(#gc)" stroke="#8cc86a" stroke-opacity="0.55" stroke-width="0.3"/>
<rect x="234.88" y="197.84" width="20.13" height="4.3" rx="0.4" fill="url(#gu)" stroke="#f5cf3a" stroke-opacity="0.55" stroke-width="0.3"/>
<line x1="197.24" y1="205.69" x2="221.46" y2="205.69" stroke="#8c8c8c" stroke-width="0.75"/>
<rect x="197.24" y="203.74" width="24.22" height="4.3" rx="0.4" fill="url(#gc)" stroke="#8cc86a" stroke-opacity="0.55" stroke-width="0.3"/>
<line x1="197.24" y1="211.58" x2="233.73" y2="211.58" stroke="#8c8c8c" stroke-width="0.75"/>
<rect x="197.24" y="209.63" width="5.89" height="4.3" rx="0.4" fill="url(#gu)" stroke="#f5cf3a" stroke-opacity="0.55" stroke-width="0.3"/>
<rect x="203.13" y="209.63" width="24.88" height="4.3" rx="0.4" fill="url(#gc)" stroke="#8cc86a" stroke-opacity="0.55" stroke-width="0.3"/>
<rect x="228.01" y="209.63" width="5.73" height="4.3" rx="0.4" fill="url(#gu)" stroke="#f5cf3a" stroke-opacity="0.55" stroke-width="0.3"/>
<line x1="197.24" y1="217.48" x2="221.46" y2="217.48" stroke="#8c8c8c" stroke-width="0.75"/>
<rect x="197.24" y="215.53" width="24.22" height="4.3" rx="0.4" fill="url(#gc)" stroke="#8cc86a" stroke-opacity="0.55" stroke-width="0.3"/>
<line x1="197.24" y1="223.37" x2="230.46" y2="223.37" stroke="#8c8c8c" stroke-width="0.75"/>
<rect x="197.24" y="221.42" width="2.13" height="4.3" rx="0.4" fill="url(#gu)" stroke="#f5cf3a" stroke-opacity="0.55" stroke-width="0.3"/>
<rect x="199.36" y="221.42" width="24.55" height="4.3" rx="0.4" fill="url(#gc)" stroke="#8cc86a" stroke-opacity="0.55" stroke-width="0.3"/>
<rect x="223.91" y="221.42" width="6.55" height="4.3" rx="0.4" fill="url(#gu)" stroke="#f5cf3a" stroke-opacity="0.55" stroke-width="0.3"/>
<line x1="197.24" y1="229.27" x2="221.46" y2="229.27" stroke="#8c8c8c" stroke-width="0.75"/>
<rect x="197.24" y="227.32" width="24.22" height="4.3" rx="0.4" fill="url(#gc)" stroke="#8cc86a" stroke-opacity="0.55" stroke-width="0.3"/>
<line x1="197.24" y1="235.16" x2="230.95" y2="235.16" stroke="#8c8c8c" stroke-width="0.75"/>
<rect x="197.24" y="233.21" width="2.62" height="4.3" rx="0.4" fill="url(#gu)" stroke="#f5cf3a" stroke-opacity="0.55" stroke-width="0.3"/>
<rect x="199.86" y="233.21" width="24.88" height="4.3" rx="0.4" fill="url(#gc)" stroke="#8cc86a" stroke-opacity="0.55" stroke-width="0.3"/>
<rect x="224.73" y="233.21" width="6.22" height="4.3" rx="0.4" fill="url(#gu)" stroke="#f5cf3a" stroke-opacity="0.55" stroke-width="0.3"/>
<line x1="197.24" y1="241.06" x2="221.13" y2="241.06" stroke="#8c8c8c" stroke-width="0.75"/>
<rect x="197.24" y="239.11" width="23.90" height="4.3" rx="0.4" fill="url(#gc)" stroke="#8cc86a" stroke-opacity="0.55" stroke-width="0.3"/>
<line x1="197.24" y1="246.95" x2="209.18" y2="246.95" stroke="#8c8c8c" stroke-width="0.75"/>
<rect x="197.24" y="245.00" width="11.95" height="4.3" rx="0.4" fill="url(#gc)" stroke="#8cc86a" stroke-opacity="0.55" stroke-width="0.3"/>
<line x1="197.24" y1="252.85" x2="227.68" y2="252.85" stroke="#8c8c8c" stroke-width="0.75"/>
<rect x="197.24" y="250.90" width="27.50" height="4.3" rx="0.4" fill="url(#gc)" stroke="#8cc86a" stroke-opacity="0.55" stroke-width="0.3"/>
<rect x="224.73" y="250.90" width="2.95" height="4.3" rx="0.4" fill="url(#gu)" stroke="#f5cf3a" stroke-opacity="0.55" stroke-width="0.3"/>
<line x1="197.23" y1="258.75" x2="245.98" y2="258.75" stroke="#8c8c8c" stroke-width="0.75"/>
<rect x="197.23" y="256.80" width="1.53" height="4.3" rx="0.4" fill="url(#gc)" stroke="#8cc86a" stroke-opacity="0.55" stroke-width="0.3"/>
<rect x="205.09" y="256.80" width="2.73" height="4.3" rx="0.4" fill="url(#gc)" stroke="#8cc86a" stroke-opacity="0.55" stroke-width="0.3"/>
<rect x="214.36" y="256.80" width="2.51" height="4.3" rx="0.4" fill="url(#gc)" stroke="#8cc86a" stroke-opacity="0.55" stroke-width="0.3"/>
<rect x="226.35" y="256.80" width="1.09" height="4.3" rx="0.4" fill="url(#gc)" stroke="#8cc86a" stroke-opacity="0.55" stroke-width="0.3"/>
<rect x="232.89" y="256.80" width="1.85" height="4.3" rx="0.4" fill="url(#gc)" stroke="#8cc86a" stroke-opacity="0.55" stroke-width="0.3"/>
<rect x="239.44" y="256.80" width="1.09" height="4.3" rx="0.4" fill="url(#gc)" stroke="#8cc86a" stroke-opacity="0.55" stroke-width="0.3"/>
<rect x="241.07" y="256.80" width="1.64" height="4.3" rx="0.4" fill="url(#gc)" stroke="#8cc86a" stroke-opacity="0.55" stroke-width="0.3"/>
<rect x="243.25" y="256.80" width="2.73" height="4.3" rx="0.4" fill="url(#gu)" stroke="#f5cf3a" stroke-opacity="0.55" stroke-width="0.3"/>
<line x1="197.23" y1="264.64" x2="352.80" y2="264.64" stroke="#8c8c8c" stroke-width="0.75"/>
<rect x="197.23" y="262.69" width="0.80" height="4.3" rx="0.4" fill="url(#gc)" stroke="#8cc86a" stroke-opacity="0.55" stroke-width="0.3"/>
<rect x="214.36" y="262.69" width="1.42" height="4.3" rx="0.4" fill="url(#gc)" stroke="#8cc86a" stroke-opacity="0.55" stroke-width="0.3"/>
<rect x="217.63" y="262.69" width="1.42" height="4.3" rx="0.4" fill="url(#gc)" stroke="#8cc86a" stroke-opacity="0.55" stroke-width="0.3"/>
<rect x="222.32" y="262.69" width="2.18" height="4.3" rx="0.4" fill="url(#gc)" stroke="#8cc86a" stroke-opacity="0.55" stroke-width="0.3"/>
<rect x="230.17" y="262.69" width="1.31" height="4.3" rx="0.4" fill="url(#gc)" stroke="#8cc86a" stroke-opacity="0.55" stroke-width="0.3"/>
<rect x="232.35" y="262.69" width="0.87" height="4.3" rx="0.4" fill="url(#gc)" stroke="#8cc86a" stroke-opacity="0.55" stroke-width="0.3"/>
<rect x="233.98" y="262.69" width="1.09" height="4.3" rx="0.4" fill="url(#gc)" stroke="#8cc86a" stroke-opacity="0.55" stroke-width="0.3"/>
<rect x="235.62" y="262.69" width="1.09" height="4.3" rx="0.4" fill="url(#gc)" stroke="#8cc86a" stroke-opacity="0.55" stroke-width="0.3"/>
<rect x="241.62" y="262.69" width="1.64" height="4.3" rx="0.4" fill="url(#gc)" stroke="#8cc86a" stroke-opacity="0.55" stroke-width="0.3"/>
<rect x="244.13" y="262.69" width="1.31" height="4.3" rx="0.4" fill="url(#gc)" stroke="#8cc86a" stroke-opacity="0.55" stroke-width="0.3"/>
<rect x="246.53" y="262.69" width="3.27" height="4.3" rx="0.4" fill="url(#gc)" stroke="#8cc86a" stroke-opacity="0.55" stroke-width="0.3"/>
<rect x="248.72" y="262.69" width="0.87" height="4.3" rx="0.4" fill="url(#gc)" stroke="#8cc86a" stroke-opacity="0.55" stroke-width="0.3"/>
<rect x="250.36" y="262.69" width="1.09" height="4.3" rx="0.4" fill="url(#gc)" stroke="#8cc86a" stroke-opacity="0.55" stroke-width="0.3"/>
<rect x="253.09" y="262.69" width="1.64" height="4.3" rx="0.4" fill="url(#gc)" stroke="#8cc86a" stroke-opacity="0.55" stroke-width="0.3"/>
<rect x="256.36" y="262.69" width="1.09" height="4.3" rx="0.4" fill="url(#gc)" stroke="#8cc86a" stroke-opacity="0.55" stroke-width="0.3"/>
<rect x="284.71" y="262.69" width="1.64" height="4.3" rx="0.4" fill="url(#gc)" stroke="#8cc86a" stroke-opacity="0.55" stroke-width="0.3"/>
<rect x="287.98" y="262.69" width="2.73" height="4.3" rx="0.4" fill="url(#gc)" stroke="#8cc86a" stroke-opacity="0.55" stroke-width="0.3"/>
<rect x="297.73" y="262.69" width="1.64" height="4.3" rx="0.4" fill="url(#gc)" stroke="#8cc86a" stroke-opacity="0.55" stroke-width="0.3"/>
<rect x="301.00" y="262.69" width="1.09" height="4.3" rx="0.4" fill="url(#gc)" stroke="#8cc86a" stroke-opacity="0.55" stroke-width="0.3"/>
<rect x="307.21" y="262.69" width="1.96" height="4.3" rx="0.4" fill="url(#gc)" stroke="#8cc86a" stroke-opacity="0.55" stroke-width="0.3"/>
<rect x="310.27" y="262.69" width="4.36" height="4.3" rx="0.4" fill="url(#gc)" stroke="#8cc86a" stroke-opacity="0.55" stroke-width="0.3"/>
<rect x="315.72" y="262.69" width="1.09" height="4.3" rx="0.4" fill="url(#gc)" stroke="#8cc86a" stroke-opacity="0.55" stroke-width="0.3"/>
<rect x="317.90" y="262.69" width="1.64" height="4.3" rx="0.4" fill="url(#gc)" stroke="#8cc86a" stroke-opacity="0.55" stroke-width="0.3"/>
<rect x="323.90" y="262.69" width="1.09" height="4.3" rx="0.4" fill="url(#gc)" stroke="#8cc86a" stroke-opacity="0.55" stroke-width="0.3"/>
<rect x="334.80" y="262.69" width="17.99" height="4.3" rx="0.4" fill="url(#gc)" stroke="#8cc86a" stroke-opacity="0.55" stroke-width="0.3"/>
<line x1="197.23" y1="270.54" x2="324.99" y2="270.54" stroke="#8c8c8c" stroke-width="0.75"/>
<rect x="197.23" y="268.59" width="1.53" height="4.3" rx="0.4" fill="url(#gc)" stroke="#8cc86a" stroke-opacity="0.55" stroke-width="0.3"/>
<rect x="199.85" y="268.59" width="1.42" height="4.3" rx="0.4" fill="url(#gc)" stroke="#8cc86a" stroke-opacity="0.55" stroke-width="0.3"/>
<rect x="202.91" y="268.59" width="1.09" height="4.3" rx="0.4" fill="url(#gc)" stroke="#8cc86a" stroke-opacity="0.55" stroke-width="0.3"/>
<rect x="207.81" y="268.59" width="3.60" height="4.3" rx="0.4" fill="url(#gc)" stroke="#8cc86a" stroke-opacity="0.55" stroke-width="0.3"/>
<rect x="215.99" y="268.59" width="2.18" height="4.3" rx="0.4" fill="url(#gc)" stroke="#8cc86a" stroke-opacity="0.55" stroke-width="0.3"/>
<rect x="219.26" y="268.59" width="0.87" height="4.3" rx="0.4" fill="url(#gc)" stroke="#8cc86a" stroke-opacity="0.55" stroke-width="0.3"/>
<rect x="220.90" y="268.59" width="0.80" height="4.3" rx="0.4" fill="url(#gc)" stroke="#8cc86a" stroke-opacity="0.55" stroke-width="0.3"/>
<rect x="222.32" y="268.59" width="0.80" height="4.3" rx="0.4" fill="url(#gc)" stroke="#8cc86a" stroke-opacity="0.55" stroke-width="0.3"/>
<rect x="223.62" y="268.59" width="1.09" height="4.3" rx="0.4" fill="url(#gc)" stroke="#8cc86a" stroke-opacity="0.55" stroke-width="0.3"/>
<rect x="229.08" y="268.59" width="1.64" height="4.3" rx="0.4" fill="url(#gc)" stroke="#8cc86a" stroke-opacity="0.55" stroke-width="0.3"/>
<rect x="231.80" y="268.59" width="2.94" height="4.3" rx="0.4" fill="url(#gc)" stroke="#8cc86a" stroke-opacity="0.55" stroke-width="0.3"/>
<rect x="236.17" y="268.59" width="1.09" height="4.3" rx="0.4" fill="url(#gc)" stroke="#8cc86a" stroke-opacity="0.55" stroke-width="0.3"/>
<rect x="239.98" y="268.59" width="1.09" height="4.3" rx="0.4" fill="url(#gc)" stroke="#8cc86a" stroke-opacity="0.55" stroke-width="0.3"/>
<rect x="242.73" y="268.59" width="1.09" height="4.3" rx="0.4" fill="url(#gc)" stroke="#8cc86a" stroke-opacity="0.55" stroke-width="0.3"/>
<rect x="290.16" y="268.59" width="1.64" height="4.3" rx="0.4" fill="url(#gc)" stroke="#8cc86a" stroke-opacity="0.55" stroke-width="0.3"/>
<rect x="292.89" y="268.59" width="2.73" height="4.3" rx="0.4" fill="url(#gc)" stroke="#8cc86a" stroke-opacity="0.55" stroke-width="0.3"/>
<rect x="298.27" y="268.59" width="1.64" height="4.3" rx="0.4" fill="url(#gc)" stroke="#8cc86a" stroke-opacity="0.55" stroke-width="0.3"/>
<rect x="303.18" y="268.59" width="1.09" height="4.3" rx="0.4" fill="url(#gc)" stroke="#8cc86a" stroke-opacity="0.55" stroke-width="0.3"/>
<rect x="305.91" y="268.59" width="1.09" height="4.3" rx="0.4" fill="url(#gc)" stroke="#8cc86a" stroke-opacity="0.55" stroke-width="0.3"/>
<rect x="308.63" y="268.59" width="1.09" height="4.3" rx="0.4" fill="url(#gc)" stroke="#8cc86a" stroke-opacity="0.55" stroke-width="0.3"/>
<rect x="312.45" y="268.59" width="4.36" height="4.3" rx="0.4" fill="url(#gc)" stroke="#8cc86a" stroke-opacity="0.55" stroke-width="0.3"/>
<rect x="317.90" y="268.59" width="1.64" height="4.3" rx="0.4" fill="url(#gc)" stroke="#8cc86a" stroke-opacity="0.55" stroke-width="0.3"/>
<rect x="321.17" y="268.59" width="1.64" height="4.3" rx="0.4" fill="url(#gc)" stroke="#8cc86a" stroke-opacity="0.55" stroke-width="0.3"/>
<rect x="323.35" y="268.59" width="1.64" height="4.3" rx="0.4" fill="url(#gc)" stroke="#8cc86a" stroke-opacity="0.55" stroke-width="0.3"/>
<line x1="197.23" y1="276.43" x2="248.92" y2="276.43" stroke="#8c8c8c" stroke-width="0.75"/>
<rect x="197.23" y="274.48" width="2.40" height="4.3" rx="0.4" fill="url(#gu)" stroke="#f5cf3a" stroke-opacity="0.55" stroke-width="0.3"/>
<rect x="199.63" y="274.48" width="1.64" height="4.3" rx="0.4" fill="url(#gc)" stroke="#8cc86a" stroke-opacity="0.55" stroke-width="0.3"/>
<rect x="202.36" y="274.48" width="1.64" height="4.3" rx="0.4" fill="url(#gc)" stroke="#8cc86a" stroke-opacity="0.55" stroke-width="0.3"/>
<rect x="206.18" y="274.48" width="1.64" height="4.3" rx="0.4" fill="url(#gc)" stroke="#8cc86a" stroke-opacity="0.55" stroke-width="0.3"/>
<rect x="210.54" y="274.48" width="4.36" height="4.3" rx="0.4" fill="url(#gc)" stroke="#8cc86a" stroke-opacity="0.55" stroke-width="0.3"/>
<rect x="218.17" y="274.48" width="1.96" height="4.3" rx="0.4" fill="url(#gc)" stroke="#8cc86a" stroke-opacity="0.55" stroke-width="0.3"/>
<rect x="221.44" y="274.48" width="1.09" height="4.3" rx="0.4" fill="url(#gc)" stroke="#8cc86a" stroke-opacity="0.55" stroke-width="0.3"/>
<rect x="223.08" y="274.48" width="1.09" height="4.3" rx="0.4" fill="url(#gc)" stroke="#8cc86a" stroke-opacity="0.55" stroke-width="0.3"/>
<rect x="224.72" y="274.48" width="1.96" height="4.3" rx="0.4" fill="url(#gc)" stroke="#8cc86a" stroke-opacity="0.55" stroke-width="0.3"/>
<rect x="228.53" y="274.48" width="2.73" height="4.3" rx="0.4" fill="url(#gc)" stroke="#8cc86a" stroke-opacity="0.55" stroke-width="0.3"/>
<rect x="232.35" y="274.48" width="3.27" height="4.3" rx="0.4" fill="url(#gc)" stroke="#8cc86a" stroke-opacity="0.55" stroke-width="0.3"/>
<rect x="236.17" y="274.48" width="1.64" height="4.3" rx="0.4" fill="url(#gc)" stroke="#8cc86a" stroke-opacity="0.55" stroke-width="0.3"/>
<rect x="238.89" y="274.48" width="1.09" height="4.3" rx="0.4" fill="url(#gc)" stroke="#8cc86a" stroke-opacity="0.55" stroke-width="0.3"/>
<rect x="241.07" y="274.48" width="2.18" height="4.3" rx="0.4" fill="url(#gc)" stroke="#8cc86a" stroke-opacity="0.55" stroke-width="0.3"/>
<rect x="244.13" y="274.48" width="1.53" height="4.3" rx="0.4" fill="url(#gc)" stroke="#8cc86a" stroke-opacity="0.55" stroke-width="0.3"/>
<rect x="245.98" y="274.48" width="2.94" height="4.3" rx="0.4" fill="url(#gu)" stroke="#f5cf3a" stroke-opacity="0.55" stroke-width="0.3"/>
<line x1="197.23" y1="282.32" x2="244.34" y2="282.32" stroke="#8c8c8c" stroke-width="0.75"/>
<rect x="197.23" y="280.38" width="1.53" height="4.3" rx="0.4" fill="url(#gc)" stroke="#8cc86a" stroke-opacity="0.55" stroke-width="0.3"/>
<rect x="199.85" y="280.38" width="1.09" height="4.3" rx="0.4" fill="url(#gc)" stroke="#8cc86a" stroke-opacity="0.55" stroke-width="0.3"/>
<rect x="202.36" y="280.38" width="1.09" height="4.3" rx="0.4" fill="url(#gc)" stroke="#8cc86a" stroke-opacity="0.55" stroke-width="0.3"/>
<rect x="204.21" y="280.38" width="0.87" height="4.3" rx="0.4" fill="url(#gc)" stroke="#8cc86a" stroke-opacity="0.55" stroke-width="0.3"/>
<rect x="207.81" y="280.38" width="3.82" height="4.3" rx="0.4" fill="url(#gc)" stroke="#8cc86a" stroke-opacity="0.55" stroke-width="0.3"/>
<rect x="215.99" y="280.38" width="2.18" height="4.3" rx="0.4" fill="url(#gc)" stroke="#8cc86a" stroke-opacity="0.55" stroke-width="0.3"/>
<rect x="219.81" y="280.38" width="1.09" height="4.3" rx="0.4" fill="url(#gc)" stroke="#8cc86a" stroke-opacity="0.55" stroke-width="0.3"/>
<rect x="221.44" y="280.38" width="1.09" height="4.3" rx="0.4" fill="url(#gc)" stroke="#8cc86a" stroke-opacity="0.55" stroke-width="0.3"/>
<rect x="223.08" y="280.38" width="1.09" height="4.3" rx="0.4" fill="url(#gc)" stroke="#8cc86a" stroke-opacity="0.55" stroke-width="0.3"/>
<rect x="224.72" y="280.38" width="1.09" height="4.3" rx="0.4" fill="url(#gc)" stroke="#8cc86a" stroke-opacity="0.55" stroke-width="0.3"/>
<rect x="227.44" y="280.38" width="2.18" height="4.3" rx="0.4" fill="url(#gc)" stroke="#8cc86a" stroke-opacity="0.55" stroke-width="0.3"/>
<rect x="230.17" y="280.38" width="3.82" height="4.3" rx="0.4" fill="url(#gc)" stroke="#8cc86a" stroke-opacity="0.55" stroke-width="0.3"/>
<rect x="235.08" y="280.38" width="1.64" height="4.3" rx="0.4" fill="url(#gc)" stroke="#8cc86a" stroke-opacity="0.55" stroke-width="0.3"/>
<rect x="237.80" y="280.38" width="1.09" height="4.3" rx="0.4" fill="url(#gc)" stroke="#8cc86a" stroke-opacity="0.55" stroke-width="0.3"/>
<rect x="239.98" y="280.38" width="1.64" height="4.3" rx="0.4" fill="url(#gc)" stroke="#8cc86a" stroke-opacity="0.55" stroke-width="0.3"/>
<rect x="243.04" y="280.38" width="1.31" height="4.3" rx="0.4" fill="url(#gc)" stroke="#8cc86a" stroke-opacity="0.55" stroke-width="0.3"/>
<line x1="197.23" y1="288.22" x2="246.53" y2="288.22" stroke="#8c8c8c" stroke-width="0.75"/>
<rect x="197.23" y="286.27" width="1.53" height="4.3" rx="0.4" fill="url(#gc)" stroke="#8cc86a" stroke-opacity="0.55" stroke-width="0.3"/>
<rect x="199.85" y="286.27" width="1.96" height="4.3" rx="0.4" fill="url(#gc)" stroke="#8cc86a" stroke-opacity="0.55" stroke-width="0.3"/>
<rect x="205.09" y="286.27" width="1.09" height="4.3" rx="0.4" fill="url(#gc)" stroke="#8cc86a" stroke-opacity="0.55" stroke-width="0.3"/>
<rect x="207.81" y="286.27" width="3.27" height="4.3" rx="0.4" fill="url(#gc)" stroke="#8cc86a" stroke-opacity="0.55" stroke-width="0.3"/>
<rect x="212.17" y="286.27" width="0.80" height="4.3" rx="0.4" fill="url(#gc)" stroke="#8cc86a" stroke-opacity="0.55" stroke-width="0.3"/>
<rect x="215.45" y="286.27" width="0.80" height="4.3" rx="0.4" fill="url(#gc)" stroke="#8cc86a" stroke-opacity="0.55" stroke-width="0.3"/>
<rect x="218.17" y="286.27" width="1.09" height="4.3" rx="0.4" fill="url(#gc)" stroke="#8cc86a" stroke-opacity="0.55" stroke-width="0.3"/>
<rect x="220.35" y="286.27" width="1.09" height="4.3" rx="0.4" fill="url(#gc)" stroke="#8cc86a" stroke-opacity="0.55" stroke-width="0.3"/>
<rect x="222.53" y="286.27" width="1.09" height="4.3" rx="0.4" fill="url(#gc)" stroke="#8cc86a" stroke-opacity="0.55" stroke-width="0.3"/>
<rect x="224.72" y="286.27" width="1.09" height="4.3" rx="0.4" fill="url(#gc)" stroke="#8cc86a" stroke-opacity="0.55" stroke-width="0.3"/>
<rect x="227.44" y="286.27" width="2.18" height="4.3" rx="0.4" fill="url(#gc)" stroke="#8cc86a" stroke-opacity="0.55" stroke-width="0.3"/>
<rect x="230.17" y="286.27" width="3.27" height="4.3" rx="0.4" fill="url(#gc)" stroke="#8cc86a" stroke-opacity="0.55" stroke-width="0.3"/>
<rect x="234.53" y="286.27" width="1.09" height="4.3" rx="0.4" fill="url(#gc)" stroke="#8cc86a" stroke-opacity="0.55" stroke-width="0.3"/>
<rect x="236.71" y="286.27" width="2.18" height="4.3" rx="0.4" fill="url(#gc)" stroke="#8cc86a" stroke-opacity="0.55" stroke-width="0.3"/>
<rect x="245.44" y="286.27" width="1.09" height="4.3" rx="0.4" fill="url(#gc)" stroke="#8cc86a" stroke-opacity="0.55" stroke-width="0.3"/>
<line x1="197.23" y1="294.12" x2="247.62" y2="294.12" stroke="#8c8c8c" stroke-width="0.75"/>
<rect x="197.23" y="292.17" width="0.80" height="4.3" rx="0.4" fill="url(#gc)" stroke="#8cc86a" stroke-opacity="0.55" stroke-width="0.3"/>
<rect x="199.63" y="292.17" width="1.64" height="4.3" rx="0.4" fill="url(#gc)" stroke="#8cc86a" stroke-opacity="0.55" stroke-width="0.3"/>
<rect x="206.18" y="292.17" width="1.64" height="4.3" rx="0.4" fill="url(#gc)" stroke="#8cc86a" stroke-opacity="0.55" stroke-width="0.3"/>
<rect x="208.36" y="292.17" width="2.73" height="4.3" rx="0.4" fill="url(#gc)" stroke="#8cc86a" stroke-opacity="0.55" stroke-width="0.3"/>
<rect x="211.63" y="292.17" width="1.09" height="4.3" rx="0.4" fill="url(#gc)" stroke="#8cc86a" stroke-opacity="0.55" stroke-width="0.3"/>
<rect x="214.90" y="292.17" width="1.09" height="4.3" rx="0.4" fill="url(#gc)" stroke="#8cc86a" stroke-opacity="0.55" stroke-width="0.3"/>
<rect x="218.72" y="292.17" width="1.09" height="4.3" rx="0.4" fill="url(#gc)" stroke="#8cc86a" stroke-opacity="0.55" stroke-width="0.3"/>
<rect x="220.57" y="292.17" width="1.09" height="4.3" rx="0.4" fill="url(#gc)" stroke="#8cc86a" stroke-opacity="0.55" stroke-width="0.3"/>
<rect x="222.75" y="292.17" width="1.09" height="4.3" rx="0.4" fill="url(#gc)" stroke="#8cc86a" stroke-opacity="0.55" stroke-width="0.3"/>
<rect x="225.26" y="292.17" width="1.42" height="4.3" rx="0.4" fill="url(#gc)" stroke="#8cc86a" stroke-opacity="0.55" stroke-width="0.3"/>
<rect x="227.99" y="292.17" width="1.09" height="4.3" rx="0.4" fill="url(#gc)" stroke="#8cc86a" stroke-opacity="0.55" stroke-width="0.3"/>
<rect x="229.62" y="292.17" width="2.73" height="4.3" rx="0.4" fill="url(#gc)" stroke="#8cc86a" stroke-opacity="0.55" stroke-width="0.3"/>
<rect x="233.22" y="292.17" width="1.31" height="4.3" rx="0.4" fill="url(#gc)" stroke="#8cc86a" stroke-opacity="0.55" stroke-width="0.3"/>
<rect x="235.62" y="292.17" width="2.18" height="4.3" rx="0.4" fill="url(#gc)" stroke="#8cc86a" stroke-opacity="0.55" stroke-width="0.3"/>
<rect x="245.98" y="292.17" width="1.64" height="4.3" rx="0.4" fill="url(#gc)" stroke="#8cc86a" stroke-opacity="0.55" stroke-width="0.3"/>
<line x1="197.23" y1="300.01" x2="216.86" y2="300.01" stroke="#8c8c8c" stroke-width="0.75"/>
<rect x="197.23" y="298.06" width="2.40" height="4.3" rx="0.4" fill="url(#gc)" stroke="#8cc86a" stroke-opacity="0.55" stroke-width="0.3"/>
<rect x="209.99" y="298.06" width="3.27" height="4.3" rx="0.4" fill="url(#gc)" stroke="#8cc86a" stroke-opacity="0.55" stroke-width="0.3"/>
<rect x="213.81" y="298.06" width="1.09" height="4.3" rx="0.4" fill="url(#gc)" stroke="#8cc86a" stroke-opacity="0.55" stroke-width="0.3"/>
<rect x="215.77" y="298.06" width="1.09" height="4.3" rx="0.4" fill="url(#gc)" stroke="#8cc86a" stroke-opacity="0.55" stroke-width="0.3"/>
<line x1="197.23" y1="305.90" x2="212.72" y2="305.90" stroke="#8c8c8c" stroke-width="0.75"/>
<rect x="197.23" y="303.95" width="1.09" height="4.3" rx="0.4" fill="url(#gc)" stroke="#8cc86a" stroke-opacity="0.55" stroke-width="0.3"/>
<rect x="199.09" y="303.95" width="1.09" height="4.3" rx="0.4" fill="url(#gc)" stroke="#8cc86a" stroke-opacity="0.55" stroke-width="0.3"/>
<rect x="201.27" y="303.95" width="1.09" height="4.3" rx="0.4" fill="url(#gc)" stroke="#8cc86a" stroke-opacity="0.55" stroke-width="0.3"/>
<rect x="203.45" y="303.95" width="1.09" height="4.3" rx="0.4" fill="url(#gc)" stroke="#8cc86a" stroke-opacity="0.55" stroke-width="0.3"/>
<rect x="206.18" y="303.95" width="2.18" height="4.3" rx="0.4" fill="url(#gc)" stroke="#8cc86a" stroke-opacity="0.55" stroke-width="0.3"/>
<rect x="208.90" y="303.95" width="2.18" height="4.3" rx="0.4" fill="url(#gc)" stroke="#8cc86a" stroke-opacity="0.55" stroke-width="0.3"/>
<rect x="211.63" y="303.95" width="1.09" height="4.3" rx="0.4" fill="url(#gc)" stroke="#8cc86a" stroke-opacity="0.55" stroke-width="0.3"/>
<line x1="197.23" y1="311.80" x2="250.34" y2="311.80" stroke="#8c8c8c" stroke-width="0.75"/>
<rect x="197.23" y="309.85" width="2.94" height="4.3" rx="0.4" fill="url(#gu)" stroke="#f5cf3a" stroke-opacity="0.55" stroke-width="0.3"/>
<rect x="200.18" y="309.85" width="1.64" height="4.3" rx="0.4" fill="url(#gc)" stroke="#8cc86a" stroke-opacity="0.55" stroke-width="0.3"/>
<rect x="202.91" y="309.85" width="1.09" height="4.3" rx="0.4" fill="url(#gc)" stroke="#8cc86a" stroke-opacity="0.55" stroke-width="0.3"/>
<rect x="204.87" y="309.85" width="1.31" height="4.3" rx="0.4" fill="url(#gc)" stroke="#8cc86a" stroke-opacity="0.55" stroke-width="0.3"/>
<rect x="207.05" y="309.85" width="1.31" height="4.3" rx="0.4" fill="url(#gc)" stroke="#8cc86a" stroke-opacity="0.55" stroke-width="0.3"/>
<rect x="217.08" y="309.85" width="3.82" height="4.3" rx="0.4" fill="url(#gc)" stroke="#8cc86a" stroke-opacity="0.55" stroke-width="0.3"/>
<rect x="221.99" y="309.85" width="1.64" height="4.3" rx="0.4" fill="url(#gc)" stroke="#8cc86a" stroke-opacity="0.55" stroke-width="0.3"/>
<rect x="224.72" y="309.85" width="1.09" height="4.3" rx="0.4" fill="url(#gc)" stroke="#8cc86a" stroke-opacity="0.55" stroke-width="0.3"/>
<rect x="226.90" y="309.85" width="1.09" height="4.3" rx="0.4" fill="url(#gc)" stroke="#8cc86a" stroke-opacity="0.55" stroke-width="0.3"/>
<rect x="229.08" y="309.85" width="1.09" height="4.3" rx="0.4" fill="url(#gc)" stroke="#8cc86a" stroke-opacity="0.55" stroke-width="0.3"/>
<rect x="231.26" y="309.85" width="1.09" height="4.3" rx="0.4" fill="url(#gc)" stroke="#8cc86a" stroke-opacity="0.55" stroke-width="0.3"/>
<rect x="233.98" y="309.85" width="1.09" height="4.3" rx="0.4" fill="url(#gc)" stroke="#8cc86a" stroke-opacity="0.55" stroke-width="0.3"/>
<rect x="236.17" y="309.85" width="2.73" height="4.3" rx="0.4" fill="url(#gc)" stroke="#8cc86a" stroke-opacity="0.55" stroke-width="0.3"/>
<rect x="239.98" y="309.85" width="1.64" height="4.3" rx="0.4" fill="url(#gc)" stroke="#8cc86a" stroke-opacity="0.55" stroke-width="0.3"/>
<rect x="242.71" y="309.85" width="1.42" height="4.3" rx="0.4" fill="url(#gc)" stroke="#8cc86a" stroke-opacity="0.55" stroke-width="0.3"/>
<rect x="245.44" y="309.85" width="1.09" height="4.3" rx="0.4" fill="url(#gc)" stroke="#8cc86a" stroke-opacity="0.55" stroke-width="0.3"/>
<rect x="247.07" y="309.85" width="3.27" height="4.3" rx="0.4" fill="url(#gu)" stroke="#f5cf3a" stroke-opacity="0.55" stroke-width="0.3"/>
<line x1="197.23" y1="317.69" x2="243.80" y2="317.69" stroke="#8c8c8c" stroke-width="0.75"/>
<rect x="197.23" y="315.75" width="1.85" height="4.3" rx="0.4" fill="url(#gc)" stroke="#8cc86a" stroke-opacity="0.55" stroke-width="0.3"/>
<rect x="199.63" y="315.75" width="1.09" height="4.3" rx="0.4" fill="url(#gc)" stroke="#8cc86a" stroke-opacity="0.55" stroke-width="0.3"/>
<rect x="201.81" y="315.75" width="1.64" height="4.3" rx="0.4" fill="url(#gc)" stroke="#8cc86a" stroke-opacity="0.55" stroke-width="0.3"/>
<rect x="213.81" y="315.75" width="4.36" height="4.3" rx="0.4" fill="url(#gc)" stroke="#8cc86a" stroke-opacity="0.55" stroke-width="0.3"/>
<rect x="221.44" y="315.75" width="1.31" height="4.3" rx="0.4" fill="url(#gc)" stroke="#8cc86a" stroke-opacity="0.55" stroke-width="0.3"/>
<rect x="223.62" y="315.75" width="1.09" height="4.3" rx="0.4" fill="url(#gc)" stroke="#8cc86a" stroke-opacity="0.55" stroke-width="0.3"/>
<rect x="229.08" y="315.75" width="1.64" height="4.3" rx="0.4" fill="url(#gc)" stroke="#8cc86a" stroke-opacity="0.55" stroke-width="0.3"/>
<rect x="231.26" y="315.75" width="2.18" height="4.3" rx="0.4" fill="url(#gc)" stroke="#8cc86a" stroke-opacity="0.55" stroke-width="0.3"/>
<rect x="233.98" y="315.75" width="1.64" height="4.3" rx="0.4" fill="url(#gc)" stroke="#8cc86a" stroke-opacity="0.55" stroke-width="0.3"/>
<rect x="236.71" y="315.75" width="1.09" height="4.3" rx="0.4" fill="url(#gc)" stroke="#8cc86a" stroke-opacity="0.55" stroke-width="0.3"/>
<rect x="238.89" y="315.75" width="1.09" height="4.3" rx="0.4" fill="url(#gc)" stroke="#8cc86a" stroke-opacity="0.55" stroke-width="0.3"/>
<rect x="241.62" y="315.75" width="2.18" height="4.3" rx="0.4" fill="url(#gc)" stroke="#8cc86a" stroke-opacity="0.55" stroke-width="0.3"/>
<line x1="197.23" y1="323.59" x2="223.62" y2="323.59" stroke="#8c8c8c" stroke-width="0.75"/>
<rect x="197.23" y="321.64" width="1.31" height="4.3" rx="0.4" fill="url(#gu)" stroke="#f5cf3a" stroke-opacity="0.55" stroke-width="0.3"/>
<rect x="198.54" y="321.64" width="1.09" height="4.3" rx="0.4" fill="url(#gc)" stroke="#8cc86a" stroke-opacity="0.55" stroke-width="0.3"/>
<rect x="200.72" y="321.64" width="1.09" height="4.3" rx="0.4" fill="url(#gc)" stroke="#8cc86a" stroke-opacity="0.55" stroke-width="0.3"/>
<rect x="202.91" y="321.64" width="1.09" height="4.3" rx="0.4" fill="url(#gc)" stroke="#8cc86a" stroke-opacity="0.55" stroke-width="0.3"/>
<rect x="205.09" y="321.64" width="1.09" height="4.3" rx="0.4" fill="url(#gc)" stroke="#8cc86a" stroke-opacity="0.55" stroke-width="0.3"/>
<rect x="207.27" y="321.64" width="1.09" height="4.3" rx="0.4" fill="url(#gc)" stroke="#8cc86a" stroke-opacity="0.55" stroke-width="0.3"/>
<rect x="208.90" y="321.64" width="2.18" height="4.3" rx="0.4" fill="url(#gc)" stroke="#8cc86a" stroke-opacity="0.55" stroke-width="0.3"/>
<rect x="212.17" y="321.64" width="1.64" height="4.3" rx="0.4" fill="url(#gc)" stroke="#8cc86a" stroke-opacity="0.55" stroke-width="0.3"/>
<rect x="214.90" y="321.64" width="1.64" height="4.3" rx="0.4" fill="url(#gc)" stroke="#8cc86a" stroke-opacity="0.55" stroke-width="0.3"/>
<rect x="217.63" y="321.64" width="2.73" height="4.3" rx="0.4" fill="url(#gc)" stroke="#8cc86a" stroke-opacity="0.55" stroke-width="0.3"/>
<rect x="220.57" y="321.64" width="3.05" height="4.3" rx="0.4" fill="url(#gu)" stroke="#f5cf3a" stroke-opacity="0.55" stroke-width="0.3"/>
<line x1="197.23" y1="329.49" x2="201.81" y2="329.49" stroke="#8c8c8c" stroke-width="0.75"/>
<rect x="197.23" y="327.54" width="1.53" height="4.3" rx="0.4" fill="url(#gc)" stroke="#8cc86a" stroke-opacity="0.55" stroke-width="0.3"/>
<rect x="200.18" y="327.54" width="1.64" height="4.3" rx="0.4" fill="url(#gc)" stroke="#8cc86a" stroke-opacity="0.55" stroke-width="0.3"/>
<line x1="198.00" y1="335.38" x2="243.25" y2="335.38" stroke="#8c8c8c" stroke-width="0.75"/>
<rect x="198.00" y="333.43" width="0.80" height="4.3" rx="0.4" fill="url(#gc)" stroke="#8cc86a" stroke-opacity="0.55" stroke-width="0.3"/>
<rect x="199.42" y="333.43" width="1.31" height="4.3" rx="0.4" fill="url(#gc)" stroke="#8cc86a" stroke-opacity="0.55" stroke-width="0.3"/>
<rect x="201.81" y="333.43" width="1.09" height="4.3" rx="0.4" fill="url(#gc)" stroke="#8cc86a" stroke-opacity="0.55" stroke-width="0.3"/>
<rect x="212.72" y="333.43" width="2.73" height="4.3" rx="0.4" fill="url(#gc)" stroke="#8cc86a" stroke-opacity="0.55" stroke-width="0.3"/>
<rect x="217.08" y="333.43" width="2.18" height="4.3" rx="0.4" fill="url(#gc)" stroke="#8cc86a" stroke-opacity="0.55" stroke-width="0.3"/>
<rect x="220.90" y="333.43" width="1.09" height="4.3" rx="0.4" fill="url(#gc)" stroke="#8cc86a" stroke-opacity="0.55" stroke-width="0.3"/>
<rect x="223.08" y="333.43" width="1.09" height="4.3" rx="0.4" fill="url(#gc)" stroke="#8cc86a" stroke-opacity="0.55" stroke-width="0.3"/>
<rect x="225.26" y="333.43" width="1.09" height="4.3" rx="0.4" fill="url(#gc)" stroke="#8cc86a" stroke-opacity="0.55" stroke-width="0.3"/>
<rect x="227.99" y="333.43" width="1.64" height="4.3" rx="0.4" fill="url(#gc)" stroke="#8cc86a" stroke-opacity="0.55" stroke-width="0.3"/>
<rect x="230.17" y="333.43" width="4.91" height="4.3" rx="0.4" fill="url(#gc)" stroke="#8cc86a" stroke-opacity="0.55" stroke-width="0.3"/>
<rect x="236.17" y="333.43" width="1.64" height="4.3" rx="0.4" fill="url(#gc)" stroke="#8cc86a" stroke-opacity="0.55" stroke-width="0.3"/>
<rect x="238.89" y="333.43" width="1.64" height="4.3" rx="0.4" fill="url(#gc)" stroke="#8cc86a" stroke-opacity="0.55" stroke-width="0.3"/>
<rect x="241.95" y="333.43" width="1.31" height="4.3" rx="0.4" fill="url(#gc)" stroke="#8cc86a" stroke-opacity="0.55" stroke-width="0.3"/>
<line x1="197.45" y1="341.27" x2="248.71" y2="341.27" stroke="#8c8c8c" stroke-width="0.75"/>
<rect x="197.45" y="339.32" width="1.31" height="4.3" rx="0.4" fill="url(#gc)" stroke="#8cc86a" stroke-opacity="0.55" stroke-width="0.3"/>
<rect x="200.72" y="339.32" width="1.09" height="4.3" rx="0.4" fill="url(#gc)" stroke="#8cc86a" stroke-opacity="0.55" stroke-width="0.3"/>
<rect x="209.45" y="339.32" width="2.18" height="4.3" rx="0.4" fill="url(#gc)" stroke="#8cc86a" stroke-opacity="0.55" stroke-width="0.3"/>
<rect x="213.26" y="339.32" width="1.09" height="4.3" rx="0.4" fill="url(#gc)" stroke="#8cc86a" stroke-opacity="0.55" stroke-width="0.3"/>
<rect x="217.08" y="339.32" width="1.64" height="4.3" rx="0.4" fill="url(#gc)" stroke="#8cc86a" stroke-opacity="0.55" stroke-width="0.3"/>
<rect x="219.81" y="339.32" width="0.80" height="4.3" rx="0.4" fill="url(#gc)" stroke="#8cc86a" stroke-opacity="0.55" stroke-width="0.3"/>
<rect x="221.44" y="339.32" width="1.09" height="4.3" rx="0.4" fill="url(#gc)" stroke="#8cc86a" stroke-opacity="0.55" stroke-width="0.3"/>
<rect x="223.62" y="339.32" width="1.09" height="4.3" rx="0.4" fill="url(#gc)" stroke="#8cc86a" stroke-opacity="0.55" stroke-width="0.3"/>
<rect x="225.26" y="339.32" width="1.09" height="4.3" rx="0.4" fill="url(#gc)" stroke="#8cc86a" stroke-opacity="0.55" stroke-width="0.3"/>
<rect x="227.44" y="339.32" width="1.64" height="4.3" rx="0.4" fill="url(#gc)" stroke="#8cc86a" stroke-opacity="0.55" stroke-width="0.3"/>
<rect x="230.71" y="339.32" width="2.18" height="4.3" rx="0.4" fill="url(#gc)" stroke="#8cc86a" stroke-opacity="0.55" stroke-width="0.3"/>
<rect x="233.44" y="339.32" width="1.64" height="4.3" rx="0.4" fill="url(#gc)" stroke="#8cc86a" stroke-opacity="0.55" stroke-width="0.3"/>
<rect x="235.62" y="339.32" width="1.09" height="4.3" rx="0.4" fill="url(#gc)" stroke="#8cc86a" stroke-opacity="0.55" stroke-width="0.3"/>
<rect x="238.35" y="339.32" width="1.64" height="4.3" rx="0.4" fill="url(#gc)" stroke="#8cc86a" stroke-opacity="0.55" stroke-width="0.3"/>
<rect x="241.62" y="339.32" width="3.82" height="4.3" rx="0.4" fill="url(#gc)" stroke="#8cc86a" stroke-opacity="0.55" stroke-width="0.3"/>
<rect x="245.98" y="339.32" width="2.73" height="4.3" rx="0.4" fill="url(#gu)" stroke="#f5cf3a" stroke-opacity="0.55" stroke-width="0.3"/>
<rect x="330.9" y="16.2" width="13" height="4.7" fill="url(#gcl)"/>
<rect x="330.9" y="22.8" width="13" height="4.7" fill="url(#gul)"/>
<g font-family="Liberation Serif" font-size="5.4" fill="#1a1a1a">
<text x="344.8" y="19.6">CDS</text><text x="344.8" y="26.4">UTR</text>
</g>
<line x1="196.8" y1="347.6" x2="353.8" y2="347.6" stroke="#8a8a8a" stroke-width="0.75"/>
<g font-family="Liberation Serif" font-size="5.9" fill="#333" text-anchor="middle">
<line x1="197.30" y1="347.6" x2="197.30" y2="346.5" stroke="#8a8a8a" stroke-width="0.5"/>
<text x="197.70" y="354.3">0</text>
<line x1="223.20" y1="347.6" x2="223.20" y2="346.5" stroke="#8a8a8a" stroke-width="0.5"/>
<text x="223.60" y="354.3">2000</text>
<line x1="249.10" y1="347.6" x2="249.10" y2="346.5" stroke="#8a8a8a" stroke-width="0.5"/>
<text x="249.50" y="354.3">4000</text>
<line x1="275.00" y1="347.6" x2="275.00" y2="346.5" stroke="#8a8a8a" stroke-width="0.5"/>
<text x="275.40" y="354.3">6000</text>
<line x1="300.90" y1="347.6" x2="300.90" y2="346.5" stroke="#8a8a8a" stroke-width="0.5"/>
<text x="301.30" y="354.3">8000</text>
<line x1="326.80" y1="347.6" x2="326.80" y2="346.5" stroke="#8a8a8a" stroke-width="0.5"/>
<text x="327.20" y="354.3">10,000</text>
<line x1="352.70" y1="347.6" x2="352.70" y2="346.5" stroke="#8a8a8a" stroke-width="0.5"/>
<text x="353.10" y="354.3">12,000</text>
<text x="194.3" y="348.6" font-size="6.4">5'</text><text x="356.6" y="348.6" font-size="6.4">3'</text>
</g>
<defs><linearGradient id="m5" x1="0" y1="0" x2="0" y2="1"><stop offset="0" stop-color="#e3304a"/><stop offset="0.48" stop-color="#e3304a"/><stop offset="0.62" stop-color="#f8d0d6"/><stop offset="1" stop-color="#fbfbfb"/></linearGradient><linearGradient id="l5" x1="0" y1="0" x2="0" y2="1"><stop offset="0" stop-color="#e3304a"/><stop offset="0.45" stop-color="#e3304a"/><stop offset="0.62" stop-color="#f8d0d6"/><stop offset="1" stop-color="#ffffff"/></linearGradient><linearGradient id="f5" x1="0" y1="0" x2="0" y2="1"><stop offset="0" stop-color="#e3304a"/><stop offset="0.3" stop-color="#e3304a"/><stop offset="0.5" stop-color="#f8d0d6"/><stop offset="1" stop-color="#ffffff"/></linearGradient><linearGradient id="s5" x1="0" y1="0" x2="0" y2="1"><stop offset="0" stop-color="#e3304a"/><stop offset="0.6" stop-color="#e3304a"/><stop offset="1" stop-color="#f8d0d6"/></linearGradient><linearGradient id="m9" x1="0" y1="0" x2="0" y2="1"><stop offset="0" stop-color="#5e519c"/><stop offset="0.48" stop-color="#5e519c"/><stop offset="0.62" stop-color="#dcd8ec"/><stop offset="1" stop-color="#fbfbfb"/></linearGradient><linearGradient id="l9" x1="0" y1="0" x2="0" y2="1"><stop offset="0" stop-color="#5e519c"/><stop offset="0.45" stop-color="#5e519c"/><stop offset="0.62" stop-color="#dcd8ec"/><stop offset="1" stop-color="#ffffff"/></linearGradient><linearGradient id="f9" x1="0" y1="0" x2="0" y2="1"><stop offset="0" stop-color="#5e519c"/><stop offset="0.3" stop-color="#5e519c"/><stop offset="0.5" stop-color="#dcd8ec"/><stop offset="1" stop-color="#ffffff"/></linearGradient><linearGradient id="s9" x1="0" y1="0" x2="0" y2="1"><stop offset="0" stop-color="#5e519c"/><stop offset="0.6" stop-color="#5e519c"/><stop offset="1" stop-color="#dcd8ec"/></linearGradient><linearGradient id="m7" x1="0" y1="0" x2="0" y2="1"><stop offset="0" stop-color="#b2da8c"/><stop offset="0.48" stop-color="#b2da8c"/><stop offset="0.62" stop-color="#eef8e4"/><stop offset="1" stop-color="#fbfbfb"/></linearGradient><linearGradient id="l7" x1="0" y1="0" x2="0" y2="1"><stop offset="0" stop-color="#b2da8c"/><stop offset="0.45" stop-color="#b2da8c"/><stop offset="0.62" stop-color="#eef8e4"/><stop offset="1" stop-color="#ffffff"/></linearGradient><linearGradient id="f7" x1="0" y1="0" x2="0" y2="1"><stop offset="0" stop-color="#b2da8c"/><stop offset="0.3" stop-color="#b2da8c"/><stop offset="0.5" stop-color="#eef8e4"/><stop offset="1" stop-color="#ffffff"/></linearGradient><linearGradient id="s7" x1="0" y1="0" x2="0" y2="1"><stop offset="0" stop-color="#b2da8c"/><stop offset="0.6" stop-color="#b2da8c"/><stop offset="1" stop-color="#eef8e4"/></linearGradient><linearGradient id="m6" x1="0" y1="0" x2="0" y2="1"><stop offset="0" stop-color="#a8a1cc"/><stop offset="0.48" stop-color="#a8a1cc"/><stop offset="0.62" stop-color="#eae7f4"/><stop offset="1" stop-color="#fbfbfb"/></linearGradient><linearGradient id="l6" x1="0" y1="0" x2="0" y2="1"><stop offset="0" stop-color="#a8a1cc"/><stop offset="0.45" stop-color="#a8a1cc"/><stop offset="0.62" stop-color="#eae7f4"/><stop offset="1" stop-color="#ffffff"/></linearGradient><linearGradient id="f6" x1="0" y1="0" x2="0" y2="1"><stop offset="0" stop-color="#a8a1cc"/><stop offset="0.3" stop-color="#a8a1cc"/><stop offset="0.5" stop-color="#eae7f4"/><stop offset="1" stop-color="#ffffff"/></linearGradient><linearGradient id="s6" x1="0" y1="0" x2="0" y2="1"><stop offset="0" stop-color="#a8a1cc"/><stop offset="0.6" stop-color="#a8a1cc"/><stop offset="1" stop-color="#eae7f4"/></linearGradient><linearGradient id="m1" x1="0" y1="0" x2="0" y2="1"><stop offset="0" stop-color="#6cb446"/><stop offset="0.48" stop-color="#6cb446"/><stop offset="0.62" stop-color="#d9eecc"/><stop offset="1" stop-color="#fbfbfb"/></linearGradient><linearGradient id="l1" x1="0" y1="0" x2="0" y2="1"><stop offset="0" stop-color="#6cb446"/><stop offset="0.45" stop-color="#6cb446"/><stop offset="0.62" stop-color="#d9eecc"/><stop offset="1" stop-color="#ffffff"/></linearGradient><linearGradient id="f1" x1="0" y1="0" x2="0" y2="1"><stop offset="0" stop-color="#6cb446"/><stop offset="0.3" stop-color="#6cb446"/><stop offset="0.5" stop-color="#d9eecc"/><stop offset="1" stop-color="#ffffff"/></linearGradient><linearGradient id="s1" x1="0" y1="0" x2="0" y2="1"><stop offset="0" stop-color="#6cb446"/><stop offset="0.6" stop-color="#6cb446"/><stop offset="1" stop-color="#d9eecc"/></linearGradient><linearGradient id="m10" x1="0" y1="0" x2="0" y2="1"><stop offset="0" stop-color="#f7c09c"/><stop offset="0.48" stop-color="#f7c09c"/><stop offset="0.62" stop-color="#fde9dc"/><stop offset="1" stop-color="#fbfbfb"/></linearGradient><linearGradient id="l10" x1="0" y1="0" x2="0" y2="1"><stop offset="0" stop-color="#f7c09c"/><stop offset="0.45" stop-color="#f7c09c"/><stop offset="0.62" stop-color="#fde9dc"/><stop offset="1" stop-color="#ffffff"/></linearGradient><linearGradient id="f10" x1="0" y1="0" x2="0" y2="1"><stop offset="0" stop-color="#f7c09c"/><stop offset="0.3" stop-color="#f7c09c"/><stop offset="0.5" stop-color="#fde9dc"/><stop offset="1" stop-color="#ffffff"/></linearGradient><linearGradient id="s10" x1="0" y1="0" x2="0" y2="1"><stop offset="0" stop-color="#f7c09c"/><stop offset="0.6" stop-color="#f7c09c"/><stop offset="1" stop-color="#fde9dc"/></linearGradient><linearGradient id="m3" x1="0" y1="0" x2="0" y2="1"><stop offset="0" stop-color="#ec7aa2"/><stop offset="0.48" stop-color="#ec7aa2"/><stop offset="0.62" stop-color="#fad6e3"/><stop offset="1" stop-color="#fbfbfb"/></linearGradient><linearGradient id="l3" x1="0" y1="0" x2="0" y2="1"><stop offset="0" stop-color="#ec7aa2"/><stop offset="0.45" stop-color="#ec7aa2"/><stop offset="0.62" stop-color="#fad6e3"/><stop offset="1" stop-color="#ffffff"/></linearGradient><linearGradient id="f3" x1="0" y1="0" x2="0" y2="1"><stop offset="0" stop-color="#ec7aa2"/><stop offset="0.3" stop-color="#ec7aa2"/><stop offset="0.5" stop-color="#fad6e3"/><stop offset="1" stop-color="#ffffff"/></linearGradient><linearGradient id="s3" x1="0" y1="0" x2="0" y2="1"><stop offset="0" stop-color="#ec7aa2"/><stop offset="0.6" stop-color="#ec7aa2"/><stop offset="1" stop-color="#fad6e3"/></linearGradient><linearGradient id="m2" x1="0" y1="0" x2="0" y2="1"><stop offset="0" stop-color="#f6cd2c"/><stop offset="0.48" stop-color="#f6cd2c"/><stop offset="0.62" stop-color="#fdf0bf"/><stop offset="1" stop-color="#fbfbfb"/></linearGradient><linearGradient id="l2" x1="0" y1="0" x2="0" y2="1"><stop offset="0" stop-color="#f6cd2c"/><stop offset="0.45" stop-color="#f6cd2c"/><stop offset="0.62" stop-color="#fdf0bf"/><stop offset="1" stop-color="#ffffff"/></linearGradient><linearGradient id="f2" x1="0" y1="0" x2="0" y2="1"><stop offset="0" stop-color="#f6cd2c"/><stop offset="0.3" stop-color="#f6cd2c"/><stop offset="0.5" stop-color="#fdf0bf"/><stop offset="1" stop-color="#ffffff"/></linearGradient><linearGradient id="s2" x1="0" y1="0" x2="0" y2="1"><stop offset="0" stop-color="#f6cd2c"/><stop offset="0.6" stop-color="#f6cd2c"/><stop offset="1" stop-color="#fdf0bf"/></linearGradient><linearGradient id="m8" x1="0" y1="0" x2="0" y2="1"><stop offset="0" stop-color="#f4a03c"/><stop offset="0.48" stop-color="#f4a03c"/><stop offset="0.62" stop-color="#fde2c4"/><stop offset="1" stop-color="#fbfbfb"/></linearGradient><linearGradient id="l8" x1="0" y1="0" x2="0" y2="1"><stop offset="0" stop-color="#f4a03c"/><stop offset="0.45" stop-color="#f4a03c"/><stop offset="0.62" stop-color="#fde2c4"/><stop offset="1" stop-color="#ffffff"/></linearGradient><linearGradient id="f8" x1="0" y1="0" x2="0" y2="1"><stop offset="0" stop-color="#f4a03c"/><stop offset="0.3" stop-color="#f4a03c"/><stop offset="0.5" stop-color="#fde2c4"/><stop offset="1" stop-color="#ffffff"/></linearGradient><linearGradient id="s8" x1="0" y1="0" x2="0" y2="1"><stop offset="0" stop-color="#f4a03c"/><stop offset="0.6" stop-color="#f4a03c"/><stop offset="1" stop-color="#fde2c4"/></linearGradient><linearGradient id="m4" x1="0" y1="0" x2="0" y2="1"><stop offset="0" stop-color="#24998b"/><stop offset="0.48" stop-color="#24998b"/><stop offset="0.62" stop-color="#c9e8e4"/><stop offset="1" stop-color="#fbfbfb"/></linearGradient><linearGradient id="l4" x1="0" y1="0" x2="0" y2="1"><stop offset="0" stop-color="#24998b"/><stop offset="0.45" stop-color="#24998b"/><stop offset="0.62" stop-color="#c9e8e4"/><stop offset="1" stop-color="#ffffff"/></linearGradient><linearGradient id="f4" x1="0" y1="0" x2="0" y2="1"><stop offset="0" stop-color="#24998b"/><stop offset="0.3" stop-color="#24998b"/><stop offset="0.5" stop-color="#c9e8e4"/><stop offset="1" stop-color="#ffffff"/></linearGradient><linearGradient id="s4" x1="0" y1="0" x2="0" y2="1"><stop offset="0" stop-color="#24998b"/><stop offset="0.6" stop-color="#24998b"/><stop offset="1" stop-color="#c9e8e4"/></linearGradient></defs>
<line x1="375.9" y1="16.80" x2="441.30" y2="16.80" stroke="#aaaaaa" stroke-width="0.95"/>
<path d="M388.92 18.70V15.44Q388.92 14.90 389.46 14.90H389.46Q390.00 14.90 390.00 15.44V18.70Z" fill="url(#f5)" stroke="url(#s5)" stroke-width="0.4"/>
<path d="M396.60 18.70V15.70Q396.60 14.90 397.40 14.90H398.06Q398.86 14.90 398.86 15.70V18.70Z" fill="url(#f9)" stroke="url(#s9)" stroke-width="0.4"/>
<path d="M410.19 18.70V15.70Q410.19 14.90 410.99 14.90H411.30Q412.10 14.90 412.10 15.70V18.70Z" fill="url(#f7)" stroke="url(#s7)" stroke-width="0.4"/>
<path d="M418.11 18.70V15.44Q418.11 14.90 418.65 14.90H418.65Q419.19 14.90 419.19 15.44V18.70Z" fill="url(#f6)" stroke="url(#s6)" stroke-width="0.4"/>
<path d="M420.83 18.70V15.62Q420.83 14.90 421.55 14.90H421.55Q422.27 14.90 422.27 15.62V18.70Z" fill="url(#f6)" stroke="url(#s6)" stroke-width="0.4"/>
<path d="M427.33 18.70V15.70Q427.33 14.90 428.13 14.90H428.80Q429.60 14.90 429.60 15.70V18.70Z" fill="url(#f1)" stroke="url(#s1)" stroke-width="0.4"/>
<path d="M433.01 18.70V15.56Q433.01 14.90 433.66 14.90H433.66Q434.32 14.90 434.32 15.56V18.70Z" fill="url(#f10)" stroke="url(#s10)" stroke-width="0.4"/>
<path d="M434.66 18.70V15.70Q434.66 14.90 435.46 14.90H435.65Q436.45 14.90 436.45 15.70V18.70Z" fill="url(#f3)" stroke="url(#s3)" stroke-width="0.4"/>
<path d="M439.15 18.70V15.70Q439.15 14.90 439.95 14.90H440.38Q441.18 14.90 441.18 15.70V18.70Z" fill="url(#f2)" stroke="url(#s2)" stroke-width="0.4"/>
<line x1="375.9" y1="22.69" x2="440.50" y2="22.69" stroke="#aaaaaa" stroke-width="0.95"/>
<path d="M388.56 24.59V21.33Q388.56 20.79 389.10 20.79H389.10Q389.64 20.79 389.64 21.33V24.59Z" fill="url(#f5)" stroke="url(#s5)" stroke-width="0.4"/>
<path d="M396.60 24.59V21.59Q396.60 20.79 397.40 20.79H397.83Q398.63 20.79 398.63 21.59V24.59Z" fill="url(#f9)" stroke="url(#s9)" stroke-width="0.4"/>
<path d="M404.28 24.59V21.59Q404.28 20.79 405.08 20.79H405.39Q406.19 20.79 406.19 21.59V24.59Z" fill="url(#f9)" stroke="url(#s9)" stroke-width="0.4"/>
<path d="M410.19 24.59V21.59Q410.19 20.79 410.99 20.79H411.30Q412.10 20.79 412.10 21.59V24.59Z" fill="url(#f7)" stroke="url(#s7)" stroke-width="0.4"/>
<path d="M417.64 24.59V21.45Q417.64 20.79 418.30 20.79H418.30Q418.96 20.79 418.96 21.45V24.59Z" fill="url(#f6)" stroke="url(#s6)" stroke-width="0.4"/>
<path d="M427.09 24.59V21.59Q427.09 20.79 427.89 20.79H428.20Q429.00 20.79 429.00 21.59V24.59Z" fill="url(#f1)" stroke="url(#s1)" stroke-width="0.4"/>
<path d="M432.06 24.59V21.45Q432.06 20.79 432.72 20.79H432.72Q433.38 20.79 433.38 21.45V24.59Z" fill="url(#f10)" stroke="url(#s10)" stroke-width="0.4"/>
<path d="M433.83 24.59V21.59Q433.83 20.79 434.63 20.79H434.71Q435.51 20.79 435.51 21.59V24.59Z" fill="url(#f3)" stroke="url(#s3)" stroke-width="0.4"/>
<path d="M438.56 24.59V21.59Q438.56 20.79 439.36 20.79H439.67Q440.47 20.79 440.47 21.59V24.59Z" fill="url(#f2)" stroke="url(#s2)" stroke-width="0.4"/>
<line x1="375.9" y1="28.58" x2="440.30" y2="28.58" stroke="#aaaaaa" stroke-width="0.95"/>
<path d="M388.09 30.48V27.34Q388.09 26.68 388.75 26.68H388.75Q389.41 26.68 389.41 27.34V30.48Z" fill="url(#f5)" stroke="url(#s5)" stroke-width="0.4"/>
<path d="M396.36 30.48V27.48Q396.36 26.68 397.16 26.68H397.47Q398.27 26.68 398.27 27.48V30.48Z" fill="url(#f9)" stroke="url(#s9)" stroke-width="0.4"/>
<path d="M410.19 30.48V27.48Q410.19 26.68 410.99 26.68H411.06Q411.86 26.68 411.86 27.48V30.48Z" fill="url(#f7)" stroke="url(#s7)" stroke-width="0.4"/>
<path d="M417.28 30.48V27.34Q417.28 26.68 417.94 26.68H417.94Q418.60 26.68 418.60 27.34V30.48Z" fill="url(#f6)" stroke="url(#s6)" stroke-width="0.4"/>
<path d="M427.09 30.48V27.48Q427.09 26.68 427.89 26.68H428.20Q429.00 26.68 429.00 27.48V30.48Z" fill="url(#f1)" stroke="url(#s1)" stroke-width="0.4"/>
<path d="M432.65 30.48V27.40Q432.65 26.68 433.37 26.68H433.37Q434.09 26.68 434.09 27.40V30.48Z" fill="url(#f10)" stroke="url(#s10)" stroke-width="0.4"/>
<path d="M434.19 30.48V27.34Q434.19 26.68 434.85 26.68H434.85Q435.51 26.68 435.51 27.34V30.48Z" fill="url(#f3)" stroke="url(#s3)" stroke-width="0.4"/>
<path d="M438.56 30.48V27.48Q438.56 26.68 439.36 26.68H439.43Q440.23 26.68 440.23 27.48V30.48Z" fill="url(#f2)" stroke="url(#s2)" stroke-width="0.4"/>
<line x1="375.9" y1="34.47" x2="439.64" y2="34.47" stroke="#aaaaaa" stroke-width="0.95"/>
<path d="M388.34 36.37V33.10Q388.34 32.57 388.87 32.57H388.87Q389.40 32.57 389.40 33.10V36.37Z" fill="url(#f5)" stroke="url(#s5)" stroke-width="0.4"/>
<path d="M395.61 36.37V33.37Q395.61 32.57 396.41 32.57H397.04Q397.84 32.57 397.84 33.37V36.37Z" fill="url(#f9)" stroke="url(#s9)" stroke-width="0.4"/>
<path d="M409.58 36.37V33.37Q409.58 32.57 410.38 32.57H410.71Q411.51 32.57 411.51 33.37V36.37Z" fill="url(#f7)" stroke="url(#s7)" stroke-width="0.4"/>
<path d="M417.14 36.37V33.10Q417.14 32.57 417.67 32.57H417.67Q418.20 32.57 418.20 33.10V36.37Z" fill="url(#f6)" stroke="url(#s6)" stroke-width="0.4"/>
<path d="M426.16 36.37V33.37Q426.16 32.57 426.96 32.57H427.59Q428.39 32.57 428.39 33.37V36.37Z" fill="url(#f1)" stroke="url(#s1)" stroke-width="0.4"/>
<path d="M431.98 36.37V33.25Q431.98 32.57 432.65 32.57H432.65Q433.33 32.57 433.33 33.25V36.37Z" fill="url(#f10)" stroke="url(#s10)" stroke-width="0.4"/>
<path d="M433.87 36.37V33.37Q433.87 32.57 434.67 32.57H435.15Q435.95 32.57 435.95 33.37V36.37Z" fill="url(#f3)" stroke="url(#s3)" stroke-width="0.4"/>
<path d="M437.50 36.37V33.37Q437.50 32.57 438.30 32.57H438.79Q439.59 32.57 439.59 33.37V36.37Z" fill="url(#f2)" stroke="url(#s2)" stroke-width="0.4"/>
<line x1="375.9" y1="40.36" x2="441.53" y2="40.36" stroke="#aaaaaa" stroke-width="0.95"/>
<path d="M388.34 42.26V38.99Q388.34 38.46 388.87 38.46H388.87Q389.40 38.46 389.40 38.99V42.26Z" fill="url(#f5)" stroke="url(#s5)" stroke-width="0.4"/>
<path d="M395.61 42.26V39.26Q395.61 38.46 396.41 38.46H397.04Q397.84 38.46 397.84 39.26V42.26Z" fill="url(#f9)" stroke="url(#s9)" stroke-width="0.4"/>
<path d="M411.03 42.26V39.26Q411.03 38.46 411.83 38.46H412.17Q412.97 38.46 412.97 39.26V42.26Z" fill="url(#f7)" stroke="url(#s7)" stroke-width="0.4"/>
<path d="M418.89 42.26V38.99Q418.89 38.46 419.42 38.46H419.42Q419.95 38.46 419.95 38.99V42.26Z" fill="url(#f6)" stroke="url(#s6)" stroke-width="0.4"/>
<path d="M428.05 42.26V39.26Q428.05 38.46 428.85 38.46H429.33Q430.13 38.46 430.13 39.26V42.26Z" fill="url(#f1)" stroke="url(#s1)" stroke-width="0.4"/>
<path d="M433.14 42.26V39.26Q433.14 38.46 433.94 38.46H433.99Q434.79 38.46 434.79 39.26V42.26Z" fill="url(#f10)" stroke="url(#s10)" stroke-width="0.4"/>
<path d="M434.89 42.26V39.26Q434.89 38.46 435.69 38.46H436.31Q437.11 38.46 437.11 39.26V42.26Z" fill="url(#f3)" stroke="url(#s3)" stroke-width="0.4"/>
<path d="M439.25 42.26V39.26Q439.25 38.46 440.05 38.46H440.68Q441.48 38.46 441.48 39.26V42.26Z" fill="url(#f2)" stroke="url(#s2)" stroke-width="0.4"/>
<line x1="375.9" y1="46.25" x2="439.64" y2="46.25" stroke="#aaaaaa" stroke-width="0.95"/>
<path d="M388.34 48.15V44.88Q388.34 44.35 388.87 44.35H388.87Q389.40 44.35 389.40 44.88V48.15Z" fill="url(#f5)" stroke="url(#s5)" stroke-width="0.4"/>
<path d="M395.61 48.15V45.15Q395.61 44.35 396.41 44.35H397.04Q397.84 44.35 397.84 45.15V48.15Z" fill="url(#f9)" stroke="url(#s9)" stroke-width="0.4"/>
<path d="M409.58 48.15V45.15Q409.58 44.35 410.38 44.35H410.71Q411.51 44.35 411.51 45.15V48.15Z" fill="url(#f7)" stroke="url(#s7)" stroke-width="0.4"/>
<path d="M417.14 48.15V44.88Q417.14 44.35 417.67 44.35H417.67Q418.20 44.35 418.20 44.88V48.15Z" fill="url(#f6)" stroke="url(#s6)" stroke-width="0.4"/>
<path d="M426.16 48.15V45.15Q426.16 44.35 426.96 44.35H427.59Q428.39 44.35 428.39 45.15V48.15Z" fill="url(#f1)" stroke="url(#s1)" stroke-width="0.4"/>
<path d="M431.98 48.15V45.03Q431.98 44.35 432.65 44.35H432.65Q433.33 44.35 433.33 45.03V48.15Z" fill="url(#f10)" stroke="url(#s10)" stroke-width="0.4"/>
<path d="M433.87 48.15V45.15Q433.87 44.35 434.67 44.35H435.15Q435.95 44.35 435.95 45.15V48.15Z" fill="url(#f3)" stroke="url(#s3)" stroke-width="0.4"/>
<path d="M437.50 48.15V45.15Q437.50 44.35 438.30 44.35H438.79Q439.59 44.35 439.59 45.15V48.15Z" fill="url(#f2)" stroke="url(#s2)" stroke-width="0.4"/>
<line x1="375.9" y1="52.14" x2="439.64" y2="52.14" stroke="#aaaaaa" stroke-width="0.95"/>
<path d="M388.34 54.04V50.77Q388.34 50.24 388.87 50.24H388.87Q389.40 50.24 389.40 50.77V54.04Z" fill="url(#f5)" stroke="url(#s5)" stroke-width="0.4"/>
<path d="M395.61 54.04V51.04Q395.61 50.24 396.41 50.24H397.04Q397.84 50.24 397.84 51.04V54.04Z" fill="url(#f9)" stroke="url(#s9)" stroke-width="0.4"/>
<path d="M409.58 54.04V51.04Q409.58 50.24 410.38 50.24H410.71Q411.51 50.24 411.51 51.04V54.04Z" fill="url(#f7)" stroke="url(#s7)" stroke-width="0.4"/>
<path d="M417.14 54.04V50.77Q417.14 50.24 417.67 50.24H417.67Q418.20 50.24 418.20 50.77V54.04Z" fill="url(#f6)" stroke="url(#s6)" stroke-width="0.4"/>
<path d="M426.16 54.04V51.04Q426.16 50.24 426.96 50.24H427.59Q428.39 50.24 428.39 51.04V54.04Z" fill="url(#f1)" stroke="url(#s1)" stroke-width="0.4"/>
<path d="M431.98 54.04V50.92Q431.98 50.24 432.65 50.24H432.65Q433.33 50.24 433.33 50.92V54.04Z" fill="url(#f10)" stroke="url(#s10)" stroke-width="0.4"/>
<path d="M433.87 54.04V51.04Q433.87 50.24 434.67 50.24H435.15Q435.95 50.24 435.95 51.04V54.04Z" fill="url(#f3)" stroke="url(#s3)" stroke-width="0.4"/>
<path d="M437.50 54.04V51.04Q437.50 50.24 438.30 50.24H438.79Q439.59 50.24 439.59 51.04V54.04Z" fill="url(#f2)" stroke="url(#s2)" stroke-width="0.4"/>
<line x1="375.9" y1="58.03" x2="434.55" y2="58.03" stroke="#aaaaaa" stroke-width="0.95"/>
<path d="M388.34 59.93V56.81Q388.34 56.13 389.02 56.13H389.02Q389.70 56.13 389.70 56.81V59.93Z" fill="url(#f5)" stroke="url(#s5)" stroke-width="0.4"/>
<path d="M398.96 59.93V56.93Q398.96 56.13 399.76 56.13H400.24Q401.04 56.13 401.04 56.93V59.93Z" fill="url(#f8)" stroke="url(#s8)" stroke-width="0.4"/>
<path d="M406.67 59.93V56.93Q406.67 56.13 407.47 56.13H407.51Q408.31 56.13 408.31 56.93V59.93Z" fill="url(#f7)" stroke="url(#s7)" stroke-width="0.4"/>
<path d="M413.50 59.93V56.66Q413.50 56.13 414.04 56.13H414.04Q414.57 56.13 414.57 56.66V59.93Z" fill="url(#f6)" stroke="url(#s6)" stroke-width="0.4"/>
<path d="M419.32 59.93V56.59Q419.32 56.13 419.78 56.13H419.78Q420.24 56.13 420.24 56.59V59.93Z" fill="url(#f5)" stroke="url(#s5)" stroke-width="0.4"/>
<path d="M421.50 59.93V56.93Q421.50 56.13 422.30 56.13H422.79Q423.59 56.13 423.59 56.93V59.93Z" fill="url(#f1)" stroke="url(#s1)" stroke-width="0.4"/>
<path d="M426.60 59.93V56.81Q426.60 56.13 427.27 56.13H427.27Q427.95 56.13 427.95 56.81V59.93Z" fill="url(#f10)" stroke="url(#s10)" stroke-width="0.4"/>
<path d="M428.49 59.93V56.93Q428.49 56.13 429.29 56.13H429.33Q430.13 56.13 430.13 56.93V59.93Z" fill="url(#f3)" stroke="url(#s3)" stroke-width="0.4"/>
<path d="M432.41 59.93V56.93Q432.41 56.13 433.21 56.13H433.70Q434.50 56.13 434.50 56.93V59.93Z" fill="url(#f2)" stroke="url(#s2)" stroke-width="0.4"/>
<line x1="375.9" y1="63.92" x2="434.84" y2="63.92" stroke="#aaaaaa" stroke-width="0.95"/>
<path d="M387.32 65.82V62.48Q387.32 62.02 387.78 62.02H387.78Q388.24 62.02 388.24 62.48V65.82Z" fill="url(#f4)" stroke="url(#s4)" stroke-width="0.4"/>
<path d="M388.49 65.82V62.70Q388.49 62.02 389.16 62.02H389.16Q389.84 62.02 389.84 62.70V65.82Z" fill="url(#f5)" stroke="url(#s5)" stroke-width="0.4"/>
<path d="M399.40 65.82V62.82Q399.40 62.02 400.20 62.02H400.53Q401.33 62.02 401.33 62.82V65.82Z" fill="url(#f8)" stroke="url(#s8)" stroke-width="0.4"/>
<path d="M406.96 65.82V62.82Q406.96 62.02 407.76 62.02H407.80Q408.60 62.02 408.60 62.82V65.82Z" fill="url(#f7)" stroke="url(#s7)" stroke-width="0.4"/>
<path d="M413.50 65.82V62.55Q413.50 62.02 414.04 62.02H414.04Q414.57 62.02 414.57 62.55V65.82Z" fill="url(#f6)" stroke="url(#s6)" stroke-width="0.4"/>
<path d="M420.05 65.82V62.48Q420.05 62.02 420.51 62.02H420.51Q420.97 62.02 420.97 62.48V65.82Z" fill="url(#f5)" stroke="url(#s5)" stroke-width="0.4"/>
<path d="M421.94 65.82V62.82Q421.94 62.02 422.74 62.02H423.22Q424.02 62.02 424.02 62.82V65.82Z" fill="url(#f1)" stroke="url(#s1)" stroke-width="0.4"/>
<path d="M427.03 65.82V62.70Q427.03 62.02 427.71 62.02H427.71Q428.39 62.02 428.39 62.70V65.82Z" fill="url(#f10)" stroke="url(#s10)" stroke-width="0.4"/>
<path d="M428.78 65.82V62.82Q428.78 62.02 429.58 62.02H429.62Q430.42 62.02 430.42 62.82V65.82Z" fill="url(#f3)" stroke="url(#s3)" stroke-width="0.4"/>
<path d="M432.85 65.82V62.82Q432.85 62.02 433.65 62.02H433.70Q434.50 62.02 434.50 62.82V65.82Z" fill="url(#f2)" stroke="url(#s2)" stroke-width="0.4"/>
<line x1="375.9" y1="69.81" x2="434.84" y2="69.81" stroke="#aaaaaa" stroke-width="0.95"/>
<path d="M387.32 71.71V68.37Q387.32 67.91 387.78 67.91H387.78Q388.24 67.91 388.24 68.37V71.71Z" fill="url(#f4)" stroke="url(#s4)" stroke-width="0.4"/>
<path d="M388.49 71.71V68.59Q388.49 67.91 389.16 67.91H389.16Q389.84 67.91 389.84 68.59V71.71Z" fill="url(#f5)" stroke="url(#s5)" stroke-width="0.4"/>
<path d="M399.40 71.71V68.71Q399.40 67.91 400.20 67.91H400.53Q401.33 67.91 401.33 68.71V71.71Z" fill="url(#f8)" stroke="url(#s8)" stroke-width="0.4"/>
<path d="M406.96 71.71V68.71Q406.96 67.91 407.76 67.91H407.80Q408.60 67.91 408.60 68.71V71.71Z" fill="url(#f7)" stroke="url(#s7)" stroke-width="0.4"/>
<path d="M413.50 71.71V68.44Q413.50 67.91 414.04 67.91H414.04Q414.57 67.91 414.57 68.44V71.71Z" fill="url(#f6)" stroke="url(#s6)" stroke-width="0.4"/>
<path d="M420.05 71.71V68.37Q420.05 67.91 420.51 67.91H420.51Q420.97 67.91 420.97 68.37V71.71Z" fill="url(#f5)" stroke="url(#s5)" stroke-width="0.4"/>
<path d="M421.94 71.71V68.71Q421.94 67.91 422.74 67.91H423.22Q424.02 67.91 424.02 68.71V71.71Z" fill="url(#f1)" stroke="url(#s1)" stroke-width="0.4"/>
<path d="M427.03 71.71V68.59Q427.03 67.91 427.71 67.91H427.71Q428.39 67.91 428.39 68.59V71.71Z" fill="url(#f10)" stroke="url(#s10)" stroke-width="0.4"/>
<path d="M428.78 71.71V68.71Q428.78 67.91 429.58 67.91H429.62Q430.42 67.91 430.42 68.71V71.71Z" fill="url(#f3)" stroke="url(#s3)" stroke-width="0.4"/>
<path d="M432.85 71.71V68.71Q432.85 67.91 433.65 67.91H433.70Q434.50 67.91 434.50 68.71V71.71Z" fill="url(#f2)" stroke="url(#s2)" stroke-width="0.4"/>
<line x1="375.9" y1="75.70" x2="434.84" y2="75.70" stroke="#aaaaaa" stroke-width="0.95"/>
<path d="M387.32 77.60V74.26Q387.32 73.80 387.78 73.80H387.78Q388.24 73.80 388.24 74.26V77.60Z" fill="url(#f4)" stroke="url(#s4)" stroke-width="0.4"/>
<path d="M388.49 77.60V74.48Q388.49 73.80 389.16 73.80H389.16Q389.84 73.80 389.84 74.48V77.60Z" fill="url(#f5)" stroke="url(#s5)" stroke-width="0.4"/>
<path d="M399.40 77.60V74.60Q399.40 73.80 400.20 73.80H400.53Q401.33 73.80 401.33 74.60V77.60Z" fill="url(#f8)" stroke="url(#s8)" stroke-width="0.4"/>
<path d="M406.96 77.60V74.60Q406.96 73.80 407.76 73.80H407.80Q408.60 73.80 408.60 74.60V77.60Z" fill="url(#f7)" stroke="url(#s7)" stroke-width="0.4"/>
<path d="M413.50 77.60V74.33Q413.50 73.80 414.04 73.80H414.04Q414.57 73.80 414.57 74.33V77.60Z" fill="url(#f6)" stroke="url(#s6)" stroke-width="0.4"/>
<path d="M420.05 77.60V74.26Q420.05 73.80 420.51 73.80H420.51Q420.97 73.80 420.97 74.26V77.60Z" fill="url(#f5)" stroke="url(#s5)" stroke-width="0.4"/>
<path d="M421.94 77.60V74.60Q421.94 73.80 422.74 73.80H423.22Q424.02 73.80 424.02 74.60V77.60Z" fill="url(#f1)" stroke="url(#s1)" stroke-width="0.4"/>
<path d="M427.03 77.60V74.48Q427.03 73.80 427.71 73.80H427.71Q428.39 73.80 428.39 74.48V77.60Z" fill="url(#f10)" stroke="url(#s10)" stroke-width="0.4"/>
<path d="M428.78 77.60V74.60Q428.78 73.80 429.58 73.80H429.62Q430.42 73.80 430.42 74.60V77.60Z" fill="url(#f3)" stroke="url(#s3)" stroke-width="0.4"/>
<path d="M432.85 77.60V74.60Q432.85 73.80 433.65 73.80H433.70Q434.50 73.80 434.50 74.60V77.60Z" fill="url(#f2)" stroke="url(#s2)" stroke-width="0.4"/>
<line x1="375.9" y1="81.59" x2="434.84" y2="81.59" stroke="#aaaaaa" stroke-width="0.95"/>
<path d="M387.32 83.49V80.15Q387.32 79.69 387.78 79.69H387.78Q388.24 79.69 388.24 80.15V83.49Z" fill="url(#f4)" stroke="url(#s4)" stroke-width="0.4"/>
<path d="M388.49 83.49V80.37Q388.49 79.69 389.16 79.69H389.16Q389.84 79.69 389.84 80.37V83.49Z" fill="url(#f5)" stroke="url(#s5)" stroke-width="0.4"/>
<path d="M399.40 83.49V80.49Q399.40 79.69 400.20 79.69H400.53Q401.33 79.69 401.33 80.49V83.49Z" fill="url(#f8)" stroke="url(#s8)" stroke-width="0.4"/>
<path d="M406.96 83.49V80.49Q406.96 79.69 407.76 79.69H407.80Q408.60 79.69 408.60 80.49V83.49Z" fill="url(#f7)" stroke="url(#s7)" stroke-width="0.4"/>
<path d="M413.50 83.49V80.22Q413.50 79.69 414.04 79.69H414.04Q414.57 79.69 414.57 80.22V83.49Z" fill="url(#f6)" stroke="url(#s6)" stroke-width="0.4"/>
<path d="M420.05 83.49V80.15Q420.05 79.69 420.51 79.69H420.51Q420.97 79.69 420.97 80.15V83.49Z" fill="url(#f5)" stroke="url(#s5)" stroke-width="0.4"/>
<path d="M421.94 83.49V80.49Q421.94 79.69 422.74 79.69H423.22Q424.02 79.69 424.02 80.49V83.49Z" fill="url(#f1)" stroke="url(#s1)" stroke-width="0.4"/>
<path d="M427.03 83.49V80.37Q427.03 79.69 427.71 79.69H427.71Q428.39 79.69 428.39 80.37V83.49Z" fill="url(#f10)" stroke="url(#s10)" stroke-width="0.4"/>
<path d="M428.78 83.49V80.49Q428.78 79.69 429.58 79.69H429.62Q430.42 79.69 430.42 80.49V83.49Z" fill="url(#f3)" stroke="url(#s3)" stroke-width="0.4"/>
<path d="M432.85 83.49V80.49Q432.85 79.69 433.65 79.69H433.70Q434.50 79.69 434.50 80.49V83.49Z" fill="url(#f2)" stroke="url(#s2)" stroke-width="0.4"/>
<line x1="375.9" y1="87.48" x2="436.00" y2="87.48" stroke="#aaaaaa" stroke-width="0.95"/>
<path d="M389.80 89.38V86.03Q389.80 85.58 390.25 85.58H390.25Q390.70 85.58 390.70 86.03V89.38Z" fill="url(#f4)" stroke="url(#s4)" stroke-width="0.4"/>
<path d="M390.96 89.38V86.26Q390.96 85.58 391.64 85.58H391.64Q392.31 85.58 392.31 86.26V89.38Z" fill="url(#f5)" stroke="url(#s5)" stroke-width="0.4"/>
<path d="M395.32 89.38V86.38Q395.32 85.58 396.12 85.58H396.17Q396.97 85.58 396.97 86.38V89.38Z" fill="url(#f2)" stroke="url(#s2)" stroke-width="0.4"/>
<path d="M399.69 89.38V86.38Q399.69 85.58 400.49 85.58H400.97Q401.77 85.58 401.77 86.38V89.38Z" fill="url(#f9)" stroke="url(#s9)" stroke-width="0.4"/>
<path d="M402.60 89.38V86.38Q402.60 85.58 403.40 85.58H403.88Q404.68 85.58 404.68 86.38V89.38Z" fill="url(#f8)" stroke="url(#s8)" stroke-width="0.4"/>
<path d="M410.16 89.38V86.26Q410.16 85.58 410.84 85.58H410.84Q411.51 85.58 411.51 86.26V89.38Z" fill="url(#f7)" stroke="url(#s7)" stroke-width="0.4"/>
<path d="M416.41 89.38V86.04Q416.41 85.58 416.87 85.58H416.87Q417.33 85.58 417.33 86.04V89.38Z" fill="url(#f6)" stroke="url(#s6)" stroke-width="0.4"/>
<path d="M422.23 89.38V86.38Q422.23 85.58 423.03 85.58H423.51Q424.31 85.58 424.31 86.38V89.38Z" fill="url(#f1)" stroke="url(#s1)" stroke-width="0.4"/>
<path d="M427.32 89.38V86.26Q427.32 85.58 428.00 85.58H428.00Q428.68 85.58 428.68 86.26V89.38Z" fill="url(#f10)" stroke="url(#s10)" stroke-width="0.4"/>
<path d="M429.94 89.38V86.38Q429.94 85.58 430.74 85.58H430.79Q431.59 85.58 431.59 86.38V89.38Z" fill="url(#f3)" stroke="url(#s3)" stroke-width="0.4"/>
<path d="M433.87 89.38V86.38Q433.87 85.58 434.67 85.58H435.15Q435.95 85.58 435.95 86.38V89.38Z" fill="url(#f2)" stroke="url(#s2)" stroke-width="0.4"/>
<line x1="375.9" y1="93.37" x2="384.80" y2="93.37" stroke="#aaaaaa" stroke-width="0.95"/>
<path d="M377.58 95.27V92.27Q377.58 91.47 378.38 91.47H378.42Q379.22 91.47 379.22 92.27V95.27Z" fill="url(#f7)" stroke="url(#s7)" stroke-width="0.4"/>
<line x1="375.9" y1="99.26" x2="420.00" y2="99.26" stroke="#aaaaaa" stroke-width="0.95"/>
<path d="M376.12 101.16V98.16Q376.12 97.36 376.92 97.36H376.97Q377.77 97.36 377.77 98.16V101.16Z" fill="url(#f7)" stroke="url(#s7)" stroke-width="0.4"/>
<path d="M383.69 101.16V98.16Q383.69 97.36 384.49 97.36H384.53Q385.33 97.36 385.33 98.16V101.16Z" fill="url(#f9)" stroke="url(#s9)" stroke-width="0.4"/>
<path d="M385.87 101.16V98.16Q385.87 97.36 386.67 97.36H387.44Q388.24 97.36 388.24 98.16V101.16Z" fill="url(#f8)" stroke="url(#s8)" stroke-width="0.4"/>
<path d="M393.58 101.16V98.16Q393.58 97.36 394.38 97.36H394.42Q395.22 97.36 395.22 98.16V101.16Z" fill="url(#f7)" stroke="url(#s7)" stroke-width="0.4"/>
<path d="M400.41 101.16V97.82Q400.41 97.36 400.87 97.36H400.87Q401.33 97.36 401.33 97.82V101.16Z" fill="url(#f6)" stroke="url(#s6)" stroke-width="0.4"/>
<path d="M406.23 101.16V98.16Q406.23 97.36 407.03 97.36H407.22Q408.02 97.36 408.02 98.16V101.16Z" fill="url(#f1)" stroke="url(#s1)" stroke-width="0.4"/>
<path d="M411.03 101.16V98.04Q411.03 97.36 411.71 97.36H411.71Q412.39 97.36 412.39 98.04V101.16Z" fill="url(#f10)" stroke="url(#s10)" stroke-width="0.4"/>
<path d="M413.07 101.16V98.16Q413.07 97.36 413.87 97.36H414.06Q414.86 97.36 414.86 98.16V101.16Z" fill="url(#f3)" stroke="url(#s3)" stroke-width="0.4"/>
<path d="M417.87 101.16V98.16Q417.87 97.36 418.67 97.36H418.86Q419.66 97.36 419.66 98.16V101.16Z" fill="url(#f2)" stroke="url(#s2)" stroke-width="0.4"/>
<line x1="375.9" y1="105.15" x2="439.20" y2="105.15" stroke="#aaaaaa" stroke-width="0.95"/>
<path d="M392.41 107.05V103.78Q392.41 103.25 392.95 103.25H392.95Q393.48 103.25 393.48 103.78V107.05Z" fill="url(#f4)" stroke="url(#s4)" stroke-width="0.4"/>
<path d="M393.58 107.05V103.93Q393.58 103.25 394.25 103.25H394.25Q394.93 103.25 394.93 103.93V107.05Z" fill="url(#f5)" stroke="url(#s5)" stroke-width="0.4"/>
<path d="M401.87 107.05V103.93Q401.87 103.25 402.55 103.25H402.55Q403.22 103.25 403.22 103.93V107.05Z" fill="url(#f9)" stroke="url(#s9)" stroke-width="0.4"/>
<path d="M404.34 107.05V104.05Q404.34 103.25 405.14 103.25H406.06Q406.86 103.25 406.86 104.05V107.05Z" fill="url(#f8)" stroke="url(#s8)" stroke-width="0.4"/>
<path d="M412.78 107.05V103.93Q412.78 103.25 413.45 103.25H413.45Q414.13 103.25 414.13 103.93V107.05Z" fill="url(#f7)" stroke="url(#s7)" stroke-width="0.4"/>
<path d="M418.89 107.05V103.78Q418.89 103.25 419.42 103.25H419.42Q419.95 103.25 419.95 103.78V107.05Z" fill="url(#f6)" stroke="url(#s6)" stroke-width="0.4"/>
<path d="M425.14 107.05V104.05Q425.14 103.25 425.94 103.25H426.42Q427.22 103.25 427.22 104.05V107.05Z" fill="url(#f1)" stroke="url(#s1)" stroke-width="0.4"/>
<path d="M429.94 107.05V103.93Q429.94 103.25 430.62 103.25H430.62Q431.30 103.25 431.30 103.93V107.05Z" fill="url(#f10)" stroke="url(#s10)" stroke-width="0.4"/>
<path d="M432.41 107.05V104.05Q432.41 103.25 433.21 103.25H433.40Q434.20 103.25 434.20 104.05V107.05Z" fill="url(#f3)" stroke="url(#s3)" stroke-width="0.4"/>
<path d="M436.78 107.05V104.05Q436.78 103.25 437.58 103.25H438.06Q438.86 103.25 438.86 104.05V107.05Z" fill="url(#f2)" stroke="url(#s2)" stroke-width="0.4"/>
<line x1="375.9" y1="111.04" x2="437.45" y2="111.04" stroke="#aaaaaa" stroke-width="0.95"/>
<path d="M390.96 112.94V109.67Q390.96 109.14 391.49 109.14H391.49Q392.02 109.14 392.02 109.67V112.94Z" fill="url(#f4)" stroke="url(#s4)" stroke-width="0.4"/>
<path d="M392.12 112.94V109.82Q392.12 109.14 392.80 109.14H392.80Q393.48 109.14 393.48 109.82V112.94Z" fill="url(#f5)" stroke="url(#s5)" stroke-width="0.4"/>
<path d="M401.14 112.94V109.82Q401.14 109.14 401.82 109.14H401.82Q402.50 109.14 402.50 109.82V112.94Z" fill="url(#f9)" stroke="url(#s9)" stroke-width="0.4"/>
<path d="M402.89 112.94V109.94Q402.89 109.14 403.69 109.14H404.31Q405.11 109.14 405.11 109.94V112.94Z" fill="url(#f8)" stroke="url(#s8)" stroke-width="0.4"/>
<path d="M411.32 112.94V109.82Q411.32 109.14 412.00 109.14H412.00Q412.68 109.14 412.68 109.82V112.94Z" fill="url(#f7)" stroke="url(#s7)" stroke-width="0.4"/>
<path d="M417.87 112.94V109.60Q417.87 109.14 418.33 109.14H418.33Q418.79 109.14 418.79 109.60V112.94Z" fill="url(#f6)" stroke="url(#s6)" stroke-width="0.4"/>
<path d="M423.69 112.94V109.94Q423.69 109.14 424.49 109.14H424.97Q425.77 109.14 425.77 109.94V112.94Z" fill="url(#f1)" stroke="url(#s1)" stroke-width="0.4"/>
<path d="M428.78 112.94V109.82Q428.78 109.14 429.45 109.14H429.45Q430.13 109.14 430.13 109.82V112.94Z" fill="url(#f10)" stroke="url(#s10)" stroke-width="0.4"/>
<path d="M430.96 112.94V109.94Q430.96 109.14 431.76 109.14H431.95Q432.75 109.14 432.75 109.94V112.94Z" fill="url(#f3)" stroke="url(#s3)" stroke-width="0.4"/>
<path d="M434.89 112.94V109.94Q434.89 109.14 435.69 109.14H436.31Q437.11 109.14 437.11 109.94V112.94Z" fill="url(#f2)" stroke="url(#s2)" stroke-width="0.4"/>
<line x1="375.9" y1="116.93" x2="436.29" y2="116.93" stroke="#aaaaaa" stroke-width="0.95"/>
<path d="M390.96 118.83V115.56Q390.96 115.03 391.49 115.03H391.49Q392.02 115.03 392.02 115.56V118.83Z" fill="url(#f4)" stroke="url(#s4)" stroke-width="0.4"/>
<path d="M392.12 118.83V115.71Q392.12 115.03 392.80 115.03H392.80Q393.48 115.03 393.48 115.71V118.83Z" fill="url(#f5)" stroke="url(#s5)" stroke-width="0.4"/>
<path d="M396.78 118.83V115.83Q396.78 115.03 397.58 115.03H397.62Q398.42 115.03 398.42 115.83V118.83Z" fill="url(#f2)" stroke="url(#s2)" stroke-width="0.4"/>
<path d="M399.98 118.83V115.83Q399.98 115.03 400.78 115.03H400.97Q401.77 115.03 401.77 115.83V118.83Z" fill="url(#f9)" stroke="url(#s9)" stroke-width="0.4"/>
<path d="M402.30 118.83V115.83Q402.30 115.03 403.10 115.03H403.88Q404.68 115.03 404.68 115.83V118.83Z" fill="url(#f8)" stroke="url(#s8)" stroke-width="0.4"/>
<path d="M410.16 118.83V115.83Q410.16 115.03 410.96 115.03H411.15Q411.95 115.03 411.95 115.83V118.83Z" fill="url(#f7)" stroke="url(#s7)" stroke-width="0.4"/>
<path d="M416.85 118.83V115.56Q416.85 115.03 417.38 115.03H417.38Q417.91 115.03 417.91 115.56V118.83Z" fill="url(#f6)" stroke="url(#s6)" stroke-width="0.4"/>
<path d="M422.67 118.83V115.83Q422.67 115.03 423.47 115.03H423.80Q424.60 115.03 424.60 115.83V118.83Z" fill="url(#f1)" stroke="url(#s1)" stroke-width="0.4"/>
<path d="M428.05 118.83V115.71Q428.05 115.03 428.73 115.03H428.73Q429.40 115.03 429.40 115.71V118.83Z" fill="url(#f10)" stroke="url(#s10)" stroke-width="0.4"/>
<path d="M430.23 118.83V115.83Q430.23 115.03 431.03 115.03H431.08Q431.88 115.03 431.88 115.83V118.83Z" fill="url(#f3)" stroke="url(#s3)" stroke-width="0.4"/>
<path d="M434.30 118.83V115.83Q434.30 115.03 435.10 115.03H435.44Q436.24 115.03 436.24 115.83V118.83Z" fill="url(#f2)" stroke="url(#s2)" stroke-width="0.4"/>
<line x1="375.9" y1="122.82" x2="438.18" y2="122.82" stroke="#aaaaaa" stroke-width="0.95"/>
<path d="M391.69 124.72V121.38Q391.69 120.92 392.15 120.92H392.15Q392.60 120.92 392.60 121.38V124.72Z" fill="url(#f4)" stroke="url(#s4)" stroke-width="0.4"/>
<path d="M392.70 124.72V121.60Q392.70 120.92 393.38 120.92H393.38Q394.06 120.92 394.06 121.60V124.72Z" fill="url(#f5)" stroke="url(#s5)" stroke-width="0.4"/>
<path d="M397.50 124.72V121.72Q397.50 120.92 398.30 120.92H398.50Q399.30 120.92 399.30 121.72V124.72Z" fill="url(#f2)" stroke="url(#s2)" stroke-width="0.4"/>
<path d="M401.87 124.72V121.60Q401.87 120.92 402.55 120.92H402.55Q403.22 120.92 403.22 121.60V124.72Z" fill="url(#f9)" stroke="url(#s9)" stroke-width="0.4"/>
<path d="M404.34 124.72V121.72Q404.34 120.92 405.14 120.92H405.77Q406.57 120.92 406.57 121.72V124.72Z" fill="url(#f8)" stroke="url(#s8)" stroke-width="0.4"/>
<path d="M412.49 124.72V121.72Q412.49 120.92 413.29 120.92H413.33Q414.13 120.92 414.13 121.72V124.72Z" fill="url(#f7)" stroke="url(#s7)" stroke-width="0.4"/>
<path d="M418.30 124.72V121.45Q418.30 120.92 418.84 120.92H418.84Q419.37 120.92 419.37 121.45V124.72Z" fill="url(#f6)" stroke="url(#s6)" stroke-width="0.4"/>
<path d="M424.70 124.72V121.72Q424.70 120.92 425.50 120.92H426.13Q426.93 120.92 426.93 121.72V124.72Z" fill="url(#f1)" stroke="url(#s1)" stroke-width="0.4"/>
<path d="M429.94 124.72V121.60Q429.94 120.92 430.62 120.92H430.62Q431.30 120.92 431.30 121.60V124.72Z" fill="url(#f10)" stroke="url(#s10)" stroke-width="0.4"/>
<path d="M431.98 124.72V121.72Q431.98 120.92 432.78 120.92H432.97Q433.77 120.92 433.77 121.72V124.72Z" fill="url(#f3)" stroke="url(#s3)" stroke-width="0.4"/>
<path d="M436.05 124.72V121.72Q436.05 120.92 436.85 120.92H437.33Q438.13 120.92 438.13 121.72V124.72Z" fill="url(#f2)" stroke="url(#s2)" stroke-width="0.4"/>
<line x1="375.9" y1="128.71" x2="436.73" y2="128.71" stroke="#aaaaaa" stroke-width="0.95"/>
<path d="M390.96 130.61V127.34Q390.96 126.81 391.49 126.81H391.49Q392.02 126.81 392.02 127.34V130.61Z" fill="url(#f4)" stroke="url(#s4)" stroke-width="0.4"/>
<path d="M392.12 130.61V127.49Q392.12 126.81 392.80 126.81H392.80Q393.48 126.81 393.48 127.49V130.61Z" fill="url(#f5)" stroke="url(#s5)" stroke-width="0.4"/>
<path d="M396.78 130.61V127.61Q396.78 126.81 397.58 126.81H397.62Q398.42 126.81 398.42 127.61V130.61Z" fill="url(#f2)" stroke="url(#s2)" stroke-width="0.4"/>
<path d="M399.98 130.61V127.61Q399.98 126.81 400.78 126.81H400.97Q401.77 126.81 401.77 127.61V130.61Z" fill="url(#f9)" stroke="url(#s9)" stroke-width="0.4"/>
<path d="M402.30 130.61V127.61Q402.30 126.81 403.10 126.81H403.88Q404.68 126.81 404.68 127.61V130.61Z" fill="url(#f8)" stroke="url(#s8)" stroke-width="0.4"/>
<path d="M410.16 130.61V127.61Q410.16 126.81 410.96 126.81H411.15Q411.95 126.81 411.95 127.61V130.61Z" fill="url(#f7)" stroke="url(#s7)" stroke-width="0.4"/>
<path d="M416.85 130.61V127.34Q416.85 126.81 417.38 126.81H417.38Q417.91 126.81 417.91 127.34V130.61Z" fill="url(#f6)" stroke="url(#s6)" stroke-width="0.4"/>
<path d="M422.67 130.61V127.61Q422.67 126.81 423.47 126.81H423.80Q424.60 126.81 424.60 127.61V130.61Z" fill="url(#f1)" stroke="url(#s1)" stroke-width="0.4"/>
<path d="M428.05 130.61V127.49Q428.05 126.81 428.73 126.81H428.73Q429.40 126.81 429.40 127.49V130.61Z" fill="url(#f10)" stroke="url(#s10)" stroke-width="0.4"/>
<path d="M430.23 130.61V127.61Q430.23 126.81 431.03 126.81H431.08Q431.88 126.81 431.88 127.61V130.61Z" fill="url(#f3)" stroke="url(#s3)" stroke-width="0.4"/>
<path d="M434.30 130.61V127.61Q434.30 126.81 435.10 126.81H435.44Q436.24 126.81 436.24 127.61V130.61Z" fill="url(#f2)" stroke="url(#s2)" stroke-width="0.4"/>
<line x1="375.9" y1="134.60" x2="423.64" y2="134.60" stroke="#aaaaaa" stroke-width="0.95"/>
<path d="M384.41 136.50V133.23Q384.41 132.70 384.95 132.70H384.95Q385.48 132.70 385.48 133.23V136.50Z" fill="url(#f4)" stroke="url(#s4)" stroke-width="0.4"/>
<path d="M385.58 136.50V133.30Q385.58 132.70 386.18 132.70H386.18Q386.79 132.70 386.79 133.30V136.50Z" fill="url(#f5)" stroke="url(#s5)" stroke-width="0.4"/>
<path d="M394.16 136.50V133.45Q394.16 132.70 394.91 132.70H394.91Q395.66 132.70 395.66 133.45V136.50Z" fill="url(#f9)" stroke="url(#s9)" stroke-width="0.4"/>
<path d="M396.49 136.50V133.50Q396.49 132.70 397.29 132.70H398.06Q398.86 132.70 398.86 133.50V136.50Z" fill="url(#f8)" stroke="url(#s8)" stroke-width="0.4"/>
<path d="M404.34 136.50V133.50Q404.34 132.70 405.14 132.70H405.33Q406.13 132.70 406.13 133.50V136.50Z" fill="url(#f7)" stroke="url(#s7)" stroke-width="0.4"/>
<path d="M411.03 136.50V133.16Q411.03 132.70 411.49 132.70H411.49Q411.95 132.70 411.95 133.16V136.50Z" fill="url(#f6)" stroke="url(#s6)" stroke-width="0.4"/>
<path d="M417.43 136.50V133.50Q417.43 132.70 418.23 132.70H418.86Q419.66 132.70 419.66 133.50V136.50Z" fill="url(#f1)" stroke="url(#s1)" stroke-width="0.4"/>
<path d="M421.50 136.50V133.50Q421.50 132.70 422.30 132.70H422.35Q423.15 132.70 423.15 133.50V136.50Z" fill="url(#f2)" stroke="url(#s2)" stroke-width="0.4"/>
<line x1="375.9" y1="140.49" x2="420.00" y2="140.49" stroke="#aaaaaa" stroke-width="0.95"/>
<path d="M384.41 142.39V139.12Q384.41 138.59 384.95 138.59H384.95Q385.48 138.59 385.48 139.12V142.39Z" fill="url(#f4)" stroke="url(#s4)" stroke-width="0.4"/>
<path d="M385.58 142.39V139.19Q385.58 138.59 386.18 138.59H386.18Q386.79 138.59 386.79 139.19V142.39Z" fill="url(#f5)" stroke="url(#s5)" stroke-width="0.4"/>
<path d="M394.16 142.39V139.34Q394.16 138.59 394.91 138.59H394.91Q395.66 138.59 395.66 139.34V142.39Z" fill="url(#f9)" stroke="url(#s9)" stroke-width="0.4"/>
<path d="M396.49 142.39V139.39Q396.49 138.59 397.29 138.59H398.06Q398.86 138.59 398.86 139.39V142.39Z" fill="url(#f8)" stroke="url(#s8)" stroke-width="0.4"/>
<path d="M404.34 142.39V139.39Q404.34 138.59 405.14 138.59H405.33Q406.13 138.59 406.13 139.39V142.39Z" fill="url(#f7)" stroke="url(#s7)" stroke-width="0.4"/>
<path d="M411.03 142.39V139.05Q411.03 138.59 411.49 138.59H411.49Q411.95 138.59 411.95 139.05V142.39Z" fill="url(#f6)" stroke="url(#s6)" stroke-width="0.4"/>
<path d="M417.43 142.39V139.39Q417.43 138.59 418.23 138.59H418.86Q419.66 138.59 419.66 139.39V142.39Z" fill="url(#f1)" stroke="url(#s1)" stroke-width="0.4"/>
<line x1="375.9" y1="146.38" x2="431.64" y2="146.38" stroke="#aaaaaa" stroke-width="0.95"/>
<path d="M384.41 148.28V145.01Q384.41 144.48 384.95 144.48H384.95Q385.48 144.48 385.48 145.01V148.28Z" fill="url(#f4)" stroke="url(#s4)" stroke-width="0.4"/>
<path d="M385.58 148.28V145.08Q385.58 144.48 386.18 144.48H386.18Q386.79 144.48 386.79 145.08V148.28Z" fill="url(#f5)" stroke="url(#s5)" stroke-width="0.4"/>
<path d="M394.16 148.28V145.23Q394.16 144.48 394.91 144.48H394.91Q395.66 144.48 395.66 145.23V148.28Z" fill="url(#f9)" stroke="url(#s9)" stroke-width="0.4"/>
<path d="M396.49 148.28V145.28Q396.49 144.48 397.29 144.48H398.06Q398.86 144.48 398.86 145.28V148.28Z" fill="url(#f8)" stroke="url(#s8)" stroke-width="0.4"/>
<path d="M404.34 148.28V145.28Q404.34 144.48 405.14 144.48H405.33Q406.13 144.48 406.13 145.28V148.28Z" fill="url(#f7)" stroke="url(#s7)" stroke-width="0.4"/>
<path d="M411.03 148.28V144.94Q411.03 144.48 411.49 144.48H411.49Q411.95 144.48 411.95 144.94V148.28Z" fill="url(#f6)" stroke="url(#s6)" stroke-width="0.4"/>
<path d="M417.43 148.28V145.28Q417.43 144.48 418.23 144.48H418.86Q419.66 144.48 419.66 145.28V148.28Z" fill="url(#f1)" stroke="url(#s1)" stroke-width="0.4"/>
<path d="M423.69 148.28V145.16Q423.69 144.48 424.36 144.48H424.36Q425.04 144.48 425.04 145.16V148.28Z" fill="url(#f10)" stroke="url(#s10)" stroke-width="0.4"/>
<path d="M425.58 148.28V145.28Q425.58 144.48 426.38 144.48H426.42Q427.22 144.48 427.22 145.28V148.28Z" fill="url(#f3)" stroke="url(#s3)" stroke-width="0.4"/>
<path d="M429.50 148.28V145.28Q429.50 144.48 430.30 144.48H430.79Q431.59 144.48 431.59 145.28V148.28Z" fill="url(#f2)" stroke="url(#s2)" stroke-width="0.4"/>
<line x1="375.9" y1="152.27" x2="426.11" y2="152.27" stroke="#aaaaaa" stroke-width="0.95"/>
<path d="M380.49 154.17V150.90Q380.49 150.37 381.02 150.37H381.02Q381.55 150.37 381.55 150.90V154.17Z" fill="url(#f4)" stroke="url(#s4)" stroke-width="0.4"/>
<path d="M381.65 154.17V151.05Q381.65 150.37 382.33 150.37H382.33Q383.00 150.37 383.00 151.05V154.17Z" fill="url(#f5)" stroke="url(#s5)" stroke-width="0.4"/>
<path d="M390.96 154.17V151.17Q390.96 150.37 391.76 150.37H391.80Q392.60 150.37 392.60 151.17V154.17Z" fill="url(#f9)" stroke="url(#s9)" stroke-width="0.4"/>
<path d="M393.14 154.17V151.17Q393.14 150.37 393.94 150.37H394.71Q395.51 150.37 395.51 151.17V154.17Z" fill="url(#f8)" stroke="url(#s8)" stroke-width="0.4"/>
<path d="M401.14 154.17V151.17Q401.14 150.37 401.94 150.37H401.99Q402.79 150.37 402.79 151.17V154.17Z" fill="url(#f7)" stroke="url(#s7)" stroke-width="0.4"/>
<path d="M407.25 154.17V150.90Q407.25 150.37 407.78 150.37H407.78Q408.31 150.37 408.31 150.90V154.17Z" fill="url(#f6)" stroke="url(#s6)" stroke-width="0.4"/>
<path d="M412.78 154.17V151.17Q412.78 150.37 413.58 150.37H414.06Q414.86 150.37 414.86 151.17V154.17Z" fill="url(#f1)" stroke="url(#s1)" stroke-width="0.4"/>
<path d="M418.30 154.17V151.05Q418.30 150.37 418.98 150.37H418.98Q419.66 150.37 419.66 151.05V154.17Z" fill="url(#f10)" stroke="url(#s10)" stroke-width="0.4"/>
<path d="M420.05 154.17V151.17Q420.05 150.37 420.85 150.37H421.33Q422.13 150.37 422.13 151.17V154.17Z" fill="url(#f3)" stroke="url(#s3)" stroke-width="0.4"/>
<path d="M424.12 154.17V151.17Q424.12 150.37 424.92 150.37H425.26Q426.06 150.37 426.06 151.17V154.17Z" fill="url(#f2)" stroke="url(#s2)" stroke-width="0.4"/>
<line x1="375.9" y1="158.16" x2="441.53" y2="158.16" stroke="#aaaaaa" stroke-width="0.95"/>
<path d="M393.14 160.06V156.79Q393.14 156.26 393.67 156.26H393.67Q394.20 156.26 394.20 156.79V160.06Z" fill="url(#f4)" stroke="url(#s4)" stroke-width="0.4"/>
<path d="M394.30 160.06V156.94Q394.30 156.26 394.98 156.26H394.98Q395.66 156.26 395.66 156.94V160.06Z" fill="url(#f5)" stroke="url(#s5)" stroke-width="0.4"/>
<path d="M403.32 160.06V156.94Q403.32 156.26 404.00 156.26H404.00Q404.68 156.26 404.68 156.94V160.06Z" fill="url(#f9)" stroke="url(#s9)" stroke-width="0.4"/>
<path d="M405.80 160.06V157.06Q405.80 156.26 406.60 156.26H407.51Q408.31 156.26 408.31 157.06V160.06Z" fill="url(#f8)" stroke="url(#s8)" stroke-width="0.4"/>
<path d="M413.50 160.06V157.06Q413.50 156.26 414.30 156.26H414.50Q415.30 156.26 415.30 157.06V160.06Z" fill="url(#f7)" stroke="url(#s7)" stroke-width="0.4"/>
<path d="M420.78 160.06V156.94Q420.78 156.26 421.45 156.26H421.45Q422.13 156.26 422.13 156.94V160.06Z" fill="url(#f3)" stroke="url(#s3)" stroke-width="0.4"/>
<path d="M426.16 160.06V157.06Q426.16 156.26 426.96 156.26H427.59Q428.39 156.26 428.39 157.06V160.06Z" fill="url(#f1)" stroke="url(#s1)" stroke-width="0.4"/>
<path d="M431.98 160.06V156.94Q431.98 156.26 432.65 156.26H432.65Q433.33 156.26 433.33 156.94V160.06Z" fill="url(#f10)" stroke="url(#s10)" stroke-width="0.4"/>
<path d="M434.30 160.06V157.06Q434.30 156.26 435.10 156.26H435.15Q435.95 156.26 435.95 157.06V160.06Z" fill="url(#f3)" stroke="url(#s3)" stroke-width="0.4"/>
<path d="M438.23 160.06V157.06Q438.23 156.26 439.03 156.26H439.51Q440.31 156.26 440.31 157.06V160.06Z" fill="url(#f2)" stroke="url(#s2)" stroke-width="0.4"/>
<line x1="375.9" y1="164.05" x2="439.64" y2="164.05" stroke="#aaaaaa" stroke-width="0.95"/>
<path d="M391.25 165.95V162.68Q391.25 162.15 391.78 162.15H391.78Q392.31 162.15 392.31 162.68V165.95Z" fill="url(#f4)" stroke="url(#s4)" stroke-width="0.4"/>
<path d="M392.41 165.95V162.68Q392.41 162.15 392.95 162.15H392.95Q393.48 162.15 393.48 162.68V165.95Z" fill="url(#f5)" stroke="url(#s5)" stroke-width="0.4"/>
<path d="M401.43 165.95V162.83Q401.43 162.15 402.11 162.15H402.11Q402.79 162.15 402.79 162.83V165.95Z" fill="url(#f9)" stroke="url(#s9)" stroke-width="0.4"/>
<path d="M404.34 165.95V162.95Q404.34 162.15 405.14 162.15H406.06Q406.86 162.15 406.86 162.95V165.95Z" fill="url(#f8)" stroke="url(#s8)" stroke-width="0.4"/>
<path d="M411.61 165.95V162.95Q411.61 162.15 412.41 162.15H412.60Q413.40 162.15 413.40 162.95V165.95Z" fill="url(#f7)" stroke="url(#s7)" stroke-width="0.4"/>
<path d="M418.30 165.95V162.61Q418.30 162.15 418.76 162.15H418.76Q419.22 162.15 419.22 162.61V165.95Z" fill="url(#f6)" stroke="url(#s6)" stroke-width="0.4"/>
<path d="M425.14 165.95V162.95Q425.14 162.15 425.94 162.15H426.42Q427.22 162.15 427.22 162.95V165.95Z" fill="url(#f1)" stroke="url(#s1)" stroke-width="0.4"/>
<path d="M429.94 165.95V162.83Q429.94 162.15 430.62 162.15H430.62Q431.30 162.15 431.30 162.83V165.95Z" fill="url(#f10)" stroke="url(#s10)" stroke-width="0.4"/>
<path d="M433.14 165.95V162.95Q433.14 162.15 433.94 162.15H433.99Q434.79 162.15 434.79 162.95V165.95Z" fill="url(#f3)" stroke="url(#s3)" stroke-width="0.4"/>
<path d="M437.21 165.95V162.95Q437.21 162.15 438.01 162.15H438.35Q439.15 162.15 439.15 162.95V165.95Z" fill="url(#f2)" stroke="url(#s2)" stroke-width="0.4"/>
<line x1="375.9" y1="169.94" x2="438.91" y2="169.94" stroke="#aaaaaa" stroke-width="0.95"/>
<path d="M391.25 171.84V168.57Q391.25 168.04 391.78 168.04H391.78Q392.31 168.04 392.31 168.57V171.84Z" fill="url(#f4)" stroke="url(#s4)" stroke-width="0.4"/>
<path d="M392.41 171.84V168.57Q392.41 168.04 392.95 168.04H392.95Q393.48 168.04 393.48 168.57V171.84Z" fill="url(#f5)" stroke="url(#s5)" stroke-width="0.4"/>
<path d="M401.43 171.84V168.72Q401.43 168.04 402.11 168.04H402.11Q402.79 168.04 402.79 168.72V171.84Z" fill="url(#f9)" stroke="url(#s9)" stroke-width="0.4"/>
<path d="M404.34 171.84V168.84Q404.34 168.04 405.14 168.04H406.06Q406.86 168.04 406.86 168.84V171.84Z" fill="url(#f8)" stroke="url(#s8)" stroke-width="0.4"/>
<path d="M411.61 171.84V168.84Q411.61 168.04 412.41 168.04H412.60Q413.40 168.04 413.40 168.84V171.84Z" fill="url(#f7)" stroke="url(#s7)" stroke-width="0.4"/>
<path d="M418.30 171.84V168.50Q418.30 168.04 418.76 168.04H418.76Q419.22 168.04 419.22 168.50V171.84Z" fill="url(#f6)" stroke="url(#s6)" stroke-width="0.4"/>
<path d="M425.14 171.84V168.84Q425.14 168.04 425.94 168.04H426.42Q427.22 168.04 427.22 168.84V171.84Z" fill="url(#f1)" stroke="url(#s1)" stroke-width="0.4"/>
<path d="M429.94 171.84V168.72Q429.94 168.04 430.62 168.04H430.62Q431.30 168.04 431.30 168.72V171.84Z" fill="url(#f10)" stroke="url(#s10)" stroke-width="0.4"/>
<path d="M432.41 171.84V168.84Q432.41 168.04 433.21 168.04H433.40Q434.20 168.04 434.20 168.84V171.84Z" fill="url(#f3)" stroke="url(#s3)" stroke-width="0.4"/>
<path d="M436.34 171.84V168.84Q436.34 168.04 437.14 168.04H437.48Q438.28 168.04 438.28 168.84V171.84Z" fill="url(#f2)" stroke="url(#s2)" stroke-width="0.4"/>
<line x1="375.9" y1="175.83" x2="438.91" y2="175.83" stroke="#aaaaaa" stroke-width="0.95"/>
<path d="M390.96 177.73V174.46Q390.96 173.93 391.49 173.93H391.49Q392.02 173.93 392.02 174.46V177.73Z" fill="url(#f4)" stroke="url(#s4)" stroke-width="0.4"/>
<path d="M392.12 177.73V174.46Q392.12 173.93 392.65 173.93H392.65Q393.19 173.93 393.19 174.46V177.73Z" fill="url(#f5)" stroke="url(#s5)" stroke-width="0.4"/>
<path d="M401.14 177.73V174.61Q401.14 173.93 401.82 173.93H401.82Q402.50 173.93 402.50 174.61V177.73Z" fill="url(#f9)" stroke="url(#s9)" stroke-width="0.4"/>
<path d="M402.89 177.73V174.73Q402.89 173.93 403.69 173.93H404.31Q405.11 173.93 405.11 174.73V177.73Z" fill="url(#f8)" stroke="url(#s8)" stroke-width="0.4"/>
<path d="M411.03 177.73V174.73Q411.03 173.93 411.83 173.93H411.88Q412.68 173.93 412.68 174.73V177.73Z" fill="url(#f7)" stroke="url(#s7)" stroke-width="0.4"/>
<path d="M417.43 177.73V174.46Q417.43 173.93 417.96 173.93H417.96Q418.50 173.93 418.50 174.46V177.73Z" fill="url(#f6)" stroke="url(#s6)" stroke-width="0.4"/>
<path d="M424.12 177.73V174.73Q424.12 173.93 424.92 173.93H425.26Q426.06 173.93 426.06 174.73V177.73Z" fill="url(#f1)" stroke="url(#s1)" stroke-width="0.4"/>
<path d="M429.07 177.73V174.61Q429.07 173.93 429.75 173.93H429.75Q430.42 173.93 430.42 174.61V177.73Z" fill="url(#f10)" stroke="url(#s10)" stroke-width="0.4"/>
<path d="M431.69 177.73V174.73Q431.69 173.93 432.49 173.93H432.53Q433.33 173.93 433.33 174.73V177.73Z" fill="url(#f3)" stroke="url(#s3)" stroke-width="0.4"/>
<path d="M435.76 177.73V174.73Q435.76 173.93 436.56 173.93H436.90Q437.70 173.93 437.70 174.73V177.73Z" fill="url(#f2)" stroke="url(#s2)" stroke-width="0.4"/>
<line x1="375.9" y1="181.72" x2="438.91" y2="181.72" stroke="#aaaaaa" stroke-width="0.95"/>
<path d="M390.96 183.62V180.35Q390.96 179.82 391.49 179.82H391.49Q392.02 179.82 392.02 180.35V183.62Z" fill="url(#f4)" stroke="url(#s4)" stroke-width="0.4"/>
<path d="M392.12 183.62V180.35Q392.12 179.82 392.65 179.82H392.65Q393.19 179.82 393.19 180.35V183.62Z" fill="url(#f5)" stroke="url(#s5)" stroke-width="0.4"/>
<path d="M401.14 183.62V180.50Q401.14 179.82 401.82 179.82H401.82Q402.50 179.82 402.50 180.50V183.62Z" fill="url(#f9)" stroke="url(#s9)" stroke-width="0.4"/>
<path d="M402.89 183.62V180.62Q402.89 179.82 403.69 179.82H404.31Q405.11 179.82 405.11 180.62V183.62Z" fill="url(#f8)" stroke="url(#s8)" stroke-width="0.4"/>
<path d="M411.03 183.62V180.62Q411.03 179.82 411.83 179.82H411.88Q412.68 179.82 412.68 180.62V183.62Z" fill="url(#f7)" stroke="url(#s7)" stroke-width="0.4"/>
<path d="M417.43 183.62V180.35Q417.43 179.82 417.96 179.82H417.96Q418.50 179.82 418.50 180.35V183.62Z" fill="url(#f6)" stroke="url(#s6)" stroke-width="0.4"/>
<path d="M424.12 183.62V180.62Q424.12 179.82 424.92 179.82H425.26Q426.06 179.82 426.06 180.62V183.62Z" fill="url(#f1)" stroke="url(#s1)" stroke-width="0.4"/>
<path d="M429.07 183.62V180.50Q429.07 179.82 429.75 179.82H429.75Q430.42 179.82 430.42 180.50V183.62Z" fill="url(#f10)" stroke="url(#s10)" stroke-width="0.4"/>
<path d="M431.69 183.62V180.62Q431.69 179.82 432.49 179.82H432.53Q433.33 179.82 433.33 180.62V183.62Z" fill="url(#f3)" stroke="url(#s3)" stroke-width="0.4"/>
<path d="M435.76 183.62V180.62Q435.76 179.82 436.56 179.82H436.90Q437.70 179.82 437.70 180.62V183.62Z" fill="url(#f2)" stroke="url(#s2)" stroke-width="0.4"/>
<line x1="375.9" y1="187.61" x2="438.18" y2="187.61" stroke="#aaaaaa" stroke-width="0.95"/>
<path d="M391.25 189.51V186.24Q391.25 185.71 391.78 185.71H391.78Q392.31 185.71 392.31 186.24V189.51Z" fill="url(#f4)" stroke="url(#s4)" stroke-width="0.4"/>
<path d="M392.41 189.51V186.39Q392.41 185.71 393.09 185.71H393.09Q393.77 185.71 393.77 186.39V189.51Z" fill="url(#f5)" stroke="url(#s5)" stroke-width="0.4"/>
<path d="M401.43 189.51V186.39Q401.43 185.71 402.11 185.71H402.11Q402.79 185.71 402.79 186.39V189.51Z" fill="url(#f9)" stroke="url(#s9)" stroke-width="0.4"/>
<path d="M403.76 189.51V186.51Q403.76 185.71 404.56 185.71H405.33Q406.13 185.71 406.13 186.51V189.51Z" fill="url(#f8)" stroke="url(#s8)" stroke-width="0.4"/>
<path d="M412.05 189.51V186.51Q412.05 185.71 412.85 185.71H413.04Q413.84 185.71 413.84 186.51V189.51Z" fill="url(#f7)" stroke="url(#s7)" stroke-width="0.4"/>
<path d="M417.87 189.51V186.17Q417.87 185.71 418.33 185.71H418.33Q418.79 185.71 418.79 186.17V189.51Z" fill="url(#f6)" stroke="url(#s6)" stroke-width="0.4"/>
<path d="M424.70 189.51V186.51Q424.70 185.71 425.50 185.71H426.13Q426.93 185.71 426.93 186.51V189.51Z" fill="url(#f1)" stroke="url(#s1)" stroke-width="0.4"/>
<path d="M429.50 189.51V186.39Q429.50 185.71 430.18 185.71H430.18Q430.86 185.71 430.86 186.39V189.51Z" fill="url(#f10)" stroke="url(#s10)" stroke-width="0.4"/>
<path d="M432.41 189.51V186.51Q432.41 185.71 433.21 185.71H433.40Q434.20 185.71 434.20 186.51V189.51Z" fill="url(#f3)" stroke="url(#s3)" stroke-width="0.4"/>
<path d="M436.05 189.51V186.51Q436.05 185.71 436.85 185.71H437.33Q438.13 185.71 438.13 186.51V189.51Z" fill="url(#f2)" stroke="url(#s2)" stroke-width="0.4"/>
<line x1="375.9" y1="193.50" x2="439.64" y2="193.50" stroke="#aaaaaa" stroke-width="0.95"/>
<path d="M393.14 195.40V192.13Q393.14 191.60 393.67 191.60H393.67Q394.20 191.60 394.20 192.13V195.40Z" fill="url(#f4)" stroke="url(#s4)" stroke-width="0.4"/>
<path d="M394.30 195.40V192.20Q394.30 191.60 394.91 191.60H394.91Q395.51 191.60 395.51 192.20V195.40Z" fill="url(#f5)" stroke="url(#s5)" stroke-width="0.4"/>
<path d="M403.32 195.40V192.28Q403.32 191.60 404.00 191.60H404.00Q404.68 191.60 404.68 192.28V195.40Z" fill="url(#f9)" stroke="url(#s9)" stroke-width="0.4"/>
<path d="M405.50 195.40V192.40Q405.50 191.60 406.30 191.60H407.22Q408.02 191.60 408.02 192.40V195.40Z" fill="url(#f8)" stroke="url(#s8)" stroke-width="0.4"/>
<path d="M413.50 195.40V192.40Q413.50 191.60 414.30 191.60H414.50Q415.30 191.60 415.30 192.40V195.40Z" fill="url(#f7)" stroke="url(#s7)" stroke-width="0.4"/>
<path d="M419.76 195.40V192.06Q419.76 191.60 420.22 191.60H420.22Q420.68 191.60 420.68 192.06V195.40Z" fill="url(#f6)" stroke="url(#s6)" stroke-width="0.4"/>
<path d="M426.16 195.40V192.40Q426.16 191.60 426.96 191.60H427.59Q428.39 191.60 428.39 192.40V195.40Z" fill="url(#f1)" stroke="url(#s1)" stroke-width="0.4"/>
<path d="M430.96 195.40V192.28Q430.96 191.60 431.64 191.60H431.64Q432.31 191.60 432.31 192.28V195.40Z" fill="url(#f10)" stroke="url(#s10)" stroke-width="0.4"/>
<path d="M433.14 195.40V192.40Q433.14 191.60 433.94 191.60H433.99Q434.79 191.60 434.79 192.40V195.40Z" fill="url(#f3)" stroke="url(#s3)" stroke-width="0.4"/>
<path d="M437.21 195.40V192.40Q437.21 191.60 438.01 191.60H438.35Q439.15 191.60 439.15 192.40V195.40Z" fill="url(#f2)" stroke="url(#s2)" stroke-width="0.4"/>
<line x1="375.9" y1="199.39" x2="441.09" y2="199.39" stroke="#aaaaaa" stroke-width="0.95"/>
<path d="M395.03 201.29V198.02Q395.03 197.49 395.56 197.49H395.56Q396.10 197.49 396.10 198.02V201.29Z" fill="url(#f4)" stroke="url(#s4)" stroke-width="0.4"/>
<path d="M396.20 201.29V198.17Q396.20 197.49 396.87 197.49H396.87Q397.55 197.49 397.55 198.17V201.29Z" fill="url(#f5)" stroke="url(#s5)" stroke-width="0.4"/>
<path d="M405.21 201.29V198.17Q405.21 197.49 405.89 197.49H405.89Q406.57 197.49 406.57 198.17V201.29Z" fill="url(#f9)" stroke="url(#s9)" stroke-width="0.4"/>
<path d="M407.69 201.29V198.29Q407.69 197.49 408.49 197.49H409.26Q410.06 197.49 410.06 198.29V201.29Z" fill="url(#f8)" stroke="url(#s8)" stroke-width="0.4"/>
<path d="M415.40 201.29V198.29Q415.40 197.49 416.20 197.49H416.24Q417.04 197.49 417.04 198.29V201.29Z" fill="url(#f7)" stroke="url(#s7)" stroke-width="0.4"/>
<path d="M421.50 201.29V198.02Q421.50 197.49 422.04 197.49H422.04Q422.57 197.49 422.57 198.02V201.29Z" fill="url(#f6)" stroke="url(#s6)" stroke-width="0.4"/>
<path d="M428.05 201.29V198.29Q428.05 197.49 428.85 197.49H429.33Q430.13 197.49 430.13 198.29V201.29Z" fill="url(#f1)" stroke="url(#s1)" stroke-width="0.4"/>
<path d="M432.85 201.29V198.17Q432.85 197.49 433.53 197.49H433.53Q434.20 197.49 434.20 198.17V201.29Z" fill="url(#f10)" stroke="url(#s10)" stroke-width="0.4"/>
<path d="M434.60 201.29V198.29Q434.60 197.49 435.40 197.49H435.44Q436.24 197.49 436.24 198.29V201.29Z" fill="url(#f3)" stroke="url(#s3)" stroke-width="0.4"/>
<path d="M438.96 201.29V198.29Q438.96 197.49 439.76 197.49H440.24Q441.04 197.49 441.04 198.29V201.29Z" fill="url(#f2)" stroke="url(#s2)" stroke-width="0.4"/>
<line x1="375.9" y1="205.28" x2="440.36" y2="205.28" stroke="#aaaaaa" stroke-width="0.95"/>
<path d="M393.87 207.18V203.91Q393.87 203.38 394.40 203.38H394.40Q394.93 203.38 394.93 203.91V207.18Z" fill="url(#f4)" stroke="url(#s4)" stroke-width="0.4"/>
<path d="M395.03 207.18V204.06Q395.03 203.38 395.71 203.38H395.71Q396.39 203.38 396.39 204.06V207.18Z" fill="url(#f5)" stroke="url(#s5)" stroke-width="0.4"/>
<path d="M404.34 207.18V204.06Q404.34 203.38 405.02 203.38H405.02Q405.70 203.38 405.70 204.06V207.18Z" fill="url(#f9)" stroke="url(#s9)" stroke-width="0.4"/>
<path d="M406.96 207.18V204.18Q406.96 203.38 407.76 203.38H408.68Q409.48 203.38 409.48 204.18V207.18Z" fill="url(#f8)" stroke="url(#s8)" stroke-width="0.4"/>
<path d="M414.52 207.18V204.18Q414.52 203.38 415.32 203.38H415.51Q416.31 203.38 416.31 204.18V207.18Z" fill="url(#f7)" stroke="url(#s7)" stroke-width="0.4"/>
<path d="M420.78 207.18V203.84Q420.78 203.38 421.24 203.38H421.24Q421.70 203.38 421.70 203.84V207.18Z" fill="url(#f6)" stroke="url(#s6)" stroke-width="0.4"/>
<path d="M427.32 207.18V204.18Q427.32 203.38 428.12 203.38H428.60Q429.40 203.38 429.40 204.18V207.18Z" fill="url(#f1)" stroke="url(#s1)" stroke-width="0.4"/>
<path d="M431.98 207.18V204.06Q431.98 203.38 432.65 203.38H432.65Q433.33 203.38 433.33 204.06V207.18Z" fill="url(#f10)" stroke="url(#s10)" stroke-width="0.4"/>
<path d="M433.87 207.18V204.18Q433.87 203.38 434.67 203.38H435.15Q435.95 203.38 435.95 204.18V207.18Z" fill="url(#f3)" stroke="url(#s3)" stroke-width="0.4"/>
<path d="M438.23 207.18V204.18Q438.23 203.38 439.03 203.38H439.51Q440.31 203.38 440.31 204.18V207.18Z" fill="url(#f2)" stroke="url(#s2)" stroke-width="0.4"/>
<line x1="375.9" y1="211.17" x2="441.09" y2="211.17" stroke="#aaaaaa" stroke-width="0.95"/>
<path d="M395.03 213.07V209.80Q395.03 209.27 395.56 209.27H395.56Q396.10 209.27 396.10 209.80V213.07Z" fill="url(#f4)" stroke="url(#s4)" stroke-width="0.4"/>
<path d="M396.20 213.07V209.95Q396.20 209.27 396.87 209.27H396.87Q397.55 209.27 397.55 209.95V213.07Z" fill="url(#f5)" stroke="url(#s5)" stroke-width="0.4"/>
<path d="M405.21 213.07V209.95Q405.21 209.27 405.89 209.27H405.89Q406.57 209.27 406.57 209.95V213.07Z" fill="url(#f9)" stroke="url(#s9)" stroke-width="0.4"/>
<path d="M407.69 213.07V210.07Q407.69 209.27 408.49 209.27H409.26Q410.06 209.27 410.06 210.07V213.07Z" fill="url(#f8)" stroke="url(#s8)" stroke-width="0.4"/>
<path d="M415.40 213.07V210.07Q415.40 209.27 416.20 209.27H416.24Q417.04 209.27 417.04 210.07V213.07Z" fill="url(#f7)" stroke="url(#s7)" stroke-width="0.4"/>
<path d="M421.50 213.07V209.80Q421.50 209.27 422.04 209.27H422.04Q422.57 209.27 422.57 209.80V213.07Z" fill="url(#f6)" stroke="url(#s6)" stroke-width="0.4"/>
<path d="M428.05 213.07V210.07Q428.05 209.27 428.85 209.27H429.33Q430.13 209.27 430.13 210.07V213.07Z" fill="url(#f1)" stroke="url(#s1)" stroke-width="0.4"/>
<path d="M432.85 213.07V209.95Q432.85 209.27 433.53 209.27H433.53Q434.20 209.27 434.20 209.95V213.07Z" fill="url(#f10)" stroke="url(#s10)" stroke-width="0.4"/>
<path d="M434.60 213.07V210.07Q434.60 209.27 435.40 209.27H435.44Q436.24 209.27 436.24 210.07V213.07Z" fill="url(#f3)" stroke="url(#s3)" stroke-width="0.4"/>
<path d="M438.67 213.07V210.07Q438.67 209.27 439.47 209.27H439.80Q440.60 209.27 440.60 210.07V213.07Z" fill="url(#f2)" stroke="url(#s2)" stroke-width="0.4"/>
<line x1="375.9" y1="217.06" x2="440.36" y2="217.06" stroke="#aaaaaa" stroke-width="0.95"/>
<path d="M394.60 218.96V215.69Q394.60 215.16 395.13 215.16H395.13Q395.66 215.16 395.66 215.69V218.96Z" fill="url(#f4)" stroke="url(#s4)" stroke-width="0.4"/>
<path d="M395.76 218.96V215.84Q395.76 215.16 396.44 215.16H396.44Q397.11 215.16 397.11 215.84V218.96Z" fill="url(#f5)" stroke="url(#s5)" stroke-width="0.4"/>
<path d="M405.21 218.96V215.84Q405.21 215.16 405.89 215.16H405.89Q406.57 215.16 406.57 215.84V218.96Z" fill="url(#f9)" stroke="url(#s9)" stroke-width="0.4"/>
<path d="M407.25 218.96V215.96Q407.25 215.16 408.05 215.16H408.97Q409.77 215.16 409.77 215.96V218.96Z" fill="url(#f8)" stroke="url(#s8)" stroke-width="0.4"/>
<path d="M414.96 218.96V215.96Q414.96 215.16 415.76 215.16H415.95Q416.75 215.16 416.75 215.96V218.96Z" fill="url(#f7)" stroke="url(#s7)" stroke-width="0.4"/>
<path d="M421.21 218.96V215.62Q421.21 215.16 421.67 215.16H421.67Q422.13 215.16 422.13 215.62V218.96Z" fill="url(#f6)" stroke="url(#s6)" stroke-width="0.4"/>
<path d="M427.61 218.96V215.96Q427.61 215.16 428.41 215.16H429.04Q429.84 215.16 429.84 215.96V218.96Z" fill="url(#f1)" stroke="url(#s1)" stroke-width="0.4"/>
<path d="M432.41 218.96V215.84Q432.41 215.16 433.09 215.16H433.09Q433.77 215.16 433.77 215.84V218.96Z" fill="url(#f10)" stroke="url(#s10)" stroke-width="0.4"/>
<path d="M434.30 218.96V215.96Q434.30 215.16 435.10 215.16H435.15Q435.95 215.16 435.95 215.96V218.96Z" fill="url(#f3)" stroke="url(#s3)" stroke-width="0.4"/>
<path d="M438.23 218.96V215.96Q438.23 215.16 439.03 215.16H439.51Q440.31 215.16 440.31 215.96V218.96Z" fill="url(#f2)" stroke="url(#s2)" stroke-width="0.4"/>
<line x1="375.9" y1="222.95" x2="439.64" y2="222.95" stroke="#aaaaaa" stroke-width="0.95"/>
<path d="M393.14 224.85V221.58Q393.14 221.05 393.67 221.05H393.67Q394.20 221.05 394.20 221.58V224.85Z" fill="url(#f4)" stroke="url(#s4)" stroke-width="0.4"/>
<path d="M394.30 224.85V221.65Q394.30 221.05 394.91 221.05H394.91Q395.51 221.05 395.51 221.65V224.85Z" fill="url(#f5)" stroke="url(#s5)" stroke-width="0.4"/>
<path d="M403.32 224.85V221.73Q403.32 221.05 404.00 221.05H404.00Q404.68 221.05 404.68 221.73V224.85Z" fill="url(#f9)" stroke="url(#s9)" stroke-width="0.4"/>
<path d="M405.80 224.85V221.85Q405.80 221.05 406.60 221.05H407.51Q408.31 221.05 408.31 221.85V224.85Z" fill="url(#f8)" stroke="url(#s8)" stroke-width="0.4"/>
<path d="M413.50 224.85V221.85Q413.50 221.05 414.30 221.05H414.50Q415.30 221.05 415.30 221.85V224.85Z" fill="url(#f7)" stroke="url(#s7)" stroke-width="0.4"/>
<path d="M419.76 224.85V221.51Q419.76 221.05 420.22 221.05H420.22Q420.68 221.05 420.68 221.51V224.85Z" fill="url(#f6)" stroke="url(#s6)" stroke-width="0.4"/>
<path d="M426.60 224.85V221.85Q426.60 221.05 427.40 221.05H427.88Q428.68 221.05 428.68 221.85V224.85Z" fill="url(#f1)" stroke="url(#s1)" stroke-width="0.4"/>
<path d="M431.40 224.85V221.73Q431.40 221.05 432.07 221.05H432.07Q432.75 221.05 432.75 221.73V224.85Z" fill="url(#f10)" stroke="url(#s10)" stroke-width="0.4"/>
<path d="M433.43 224.85V221.85Q433.43 221.05 434.23 221.05H434.42Q435.22 221.05 435.22 221.85V224.85Z" fill="url(#f3)" stroke="url(#s3)" stroke-width="0.4"/>
<path d="M437.21 224.85V221.85Q437.21 221.05 438.01 221.05H438.35Q439.15 221.05 439.15 221.85V224.85Z" fill="url(#f2)" stroke="url(#s2)" stroke-width="0.4"/>
<line x1="375.9" y1="228.84" x2="439.64" y2="228.84" stroke="#aaaaaa" stroke-width="0.95"/>
<path d="M393.14 230.74V227.47Q393.14 226.94 393.67 226.94H393.67Q394.20 226.94 394.20 227.47V230.74Z" fill="url(#f4)" stroke="url(#s4)" stroke-width="0.4"/>
<path d="M394.30 230.74V227.54Q394.30 226.94 394.91 226.94H394.91Q395.51 226.94 395.51 227.54V230.74Z" fill="url(#f5)" stroke="url(#s5)" stroke-width="0.4"/>
<path d="M403.32 230.74V227.62Q403.32 226.94 404.00 226.94H404.00Q404.68 226.94 404.68 227.62V230.74Z" fill="url(#f9)" stroke="url(#s9)" stroke-width="0.4"/>
<path d="M405.80 230.74V227.74Q405.80 226.94 406.60 226.94H407.51Q408.31 226.94 408.31 227.74V230.74Z" fill="url(#f8)" stroke="url(#s8)" stroke-width="0.4"/>
<path d="M413.50 230.74V227.74Q413.50 226.94 414.30 226.94H414.50Q415.30 226.94 415.30 227.74V230.74Z" fill="url(#f7)" stroke="url(#s7)" stroke-width="0.4"/>
<path d="M419.76 230.74V227.40Q419.76 226.94 420.22 226.94H420.22Q420.68 226.94 420.68 227.40V230.74Z" fill="url(#f6)" stroke="url(#s6)" stroke-width="0.4"/>
<path d="M426.60 230.74V227.74Q426.60 226.94 427.40 226.94H427.88Q428.68 226.94 428.68 227.74V230.74Z" fill="url(#f1)" stroke="url(#s1)" stroke-width="0.4"/>
<path d="M431.40 230.74V227.62Q431.40 226.94 432.07 226.94H432.07Q432.75 226.94 432.75 227.62V230.74Z" fill="url(#f10)" stroke="url(#s10)" stroke-width="0.4"/>
<path d="M433.43 230.74V227.74Q433.43 226.94 434.23 226.94H434.42Q435.22 226.94 435.22 227.74V230.74Z" fill="url(#f3)" stroke="url(#s3)" stroke-width="0.4"/>
<path d="M437.21 230.74V227.74Q437.21 226.94 438.01 226.94H438.35Q439.15 226.94 439.15 227.74V230.74Z" fill="url(#f2)" stroke="url(#s2)" stroke-width="0.4"/>
<line x1="375.9" y1="234.73" x2="439.64" y2="234.73" stroke="#aaaaaa" stroke-width="0.95"/>
<path d="M393.14 236.63V233.36Q393.14 232.83 393.67 232.83H393.67Q394.20 232.83 394.20 233.36V236.63Z" fill="url(#f4)" stroke="url(#s4)" stroke-width="0.4"/>
<path d="M394.30 236.63V233.43Q394.30 232.83 394.91 232.83H394.91Q395.51 232.83 395.51 233.43V236.63Z" fill="url(#f5)" stroke="url(#s5)" stroke-width="0.4"/>
<path d="M403.32 236.63V233.51Q403.32 232.83 404.00 232.83H404.00Q404.68 232.83 404.68 233.51V236.63Z" fill="url(#f9)" stroke="url(#s9)" stroke-width="0.4"/>
<path d="M405.80 236.63V233.63Q405.80 232.83 406.60 232.83H407.51Q408.31 232.83 408.31 233.63V236.63Z" fill="url(#f8)" stroke="url(#s8)" stroke-width="0.4"/>
<path d="M413.50 236.63V233.63Q413.50 232.83 414.30 232.83H414.50Q415.30 232.83 415.30 233.63V236.63Z" fill="url(#f7)" stroke="url(#s7)" stroke-width="0.4"/>
<path d="M419.76 236.63V233.29Q419.76 232.83 420.22 232.83H420.22Q420.68 232.83 420.68 233.29V236.63Z" fill="url(#f6)" stroke="url(#s6)" stroke-width="0.4"/>
<path d="M426.60 236.63V233.63Q426.60 232.83 427.40 232.83H427.88Q428.68 232.83 428.68 233.63V236.63Z" fill="url(#f1)" stroke="url(#s1)" stroke-width="0.4"/>
<path d="M431.40 236.63V233.51Q431.40 232.83 432.07 232.83H432.07Q432.75 232.83 432.75 233.51V236.63Z" fill="url(#f10)" stroke="url(#s10)" stroke-width="0.4"/>
<path d="M433.43 236.63V233.63Q433.43 232.83 434.23 232.83H434.42Q435.22 232.83 435.22 233.63V236.63Z" fill="url(#f3)" stroke="url(#s3)" stroke-width="0.4"/>
<path d="M437.21 236.63V233.63Q437.21 232.83 438.01 232.83H438.35Q439.15 232.83 439.15 233.63V236.63Z" fill="url(#f2)" stroke="url(#s2)" stroke-width="0.4"/>
<line x1="375.9" y1="240.62" x2="439.64" y2="240.62" stroke="#aaaaaa" stroke-width="0.95"/>
<path d="M393.14 242.52V239.25Q393.14 238.72 393.67 238.72H393.67Q394.20 238.72 394.20 239.25V242.52Z" fill="url(#f4)" stroke="url(#s4)" stroke-width="0.4"/>
<path d="M394.30 242.52V239.32Q394.30 238.72 394.91 238.72H394.91Q395.51 238.72 395.51 239.32V242.52Z" fill="url(#f5)" stroke="url(#s5)" stroke-width="0.4"/>
<path d="M403.32 242.52V239.40Q403.32 238.72 404.00 238.72H404.00Q404.68 238.72 404.68 239.40V242.52Z" fill="url(#f9)" stroke="url(#s9)" stroke-width="0.4"/>
<path d="M405.80 242.52V239.52Q405.80 238.72 406.60 238.72H407.51Q408.31 238.72 408.31 239.52V242.52Z" fill="url(#f8)" stroke="url(#s8)" stroke-width="0.4"/>
<path d="M413.50 242.52V239.52Q413.50 238.72 414.30 238.72H414.50Q415.30 238.72 415.30 239.52V242.52Z" fill="url(#f7)" stroke="url(#s7)" stroke-width="0.4"/>
<path d="M419.76 242.52V239.18Q419.76 238.72 420.22 238.72H420.22Q420.68 238.72 420.68 239.18V242.52Z" fill="url(#f6)" stroke="url(#s6)" stroke-width="0.4"/>
<path d="M426.60 242.52V239.52Q426.60 238.72 427.40 238.72H427.88Q428.68 238.72 428.68 239.52V242.52Z" fill="url(#f1)" stroke="url(#s1)" stroke-width="0.4"/>
<path d="M431.40 242.52V239.40Q431.40 238.72 432.07 238.72H432.07Q432.75 238.72 432.75 239.40V242.52Z" fill="url(#f10)" stroke="url(#s10)" stroke-width="0.4"/>
<path d="M433.43 242.52V239.52Q433.43 238.72 434.23 238.72H434.42Q435.22 238.72 435.22 239.52V242.52Z" fill="url(#f3)" stroke="url(#s3)" stroke-width="0.4"/>
<path d="M437.21 242.52V239.52Q437.21 238.72 438.01 238.72H438.35Q439.15 238.72 439.15 239.52V242.52Z" fill="url(#f2)" stroke="url(#s2)" stroke-width="0.4"/>
<line x1="375.9" y1="246.51" x2="406.91" y2="246.51" stroke="#aaaaaa" stroke-width="0.95"/>
<path d="M376.41 248.41V245.41Q376.41 244.61 377.21 244.61H378.13Q378.93 244.61 378.93 245.41V248.41Z" fill="url(#f8)" stroke="url(#s8)" stroke-width="0.4"/>
<path d="M384.41 248.41V245.41Q384.41 244.61 385.21 244.61H385.40Q386.20 244.61 386.20 245.41V248.41Z" fill="url(#f7)" stroke="url(#s7)" stroke-width="0.4"/>
<path d="M390.96 248.41V245.07Q390.96 244.61 391.42 244.61H391.42Q391.88 244.61 391.88 245.07V248.41Z" fill="url(#f6)" stroke="url(#s6)" stroke-width="0.4"/>
<path d="M397.50 248.41V245.41Q397.50 244.61 398.30 244.61H398.79Q399.59 244.61 399.59 245.41V248.41Z" fill="url(#f1)" stroke="url(#s1)" stroke-width="0.4"/>
<path d="M402.30 248.41V245.29Q402.30 244.61 402.98 244.61H402.98Q403.66 244.61 403.66 245.29V248.41Z" fill="url(#f10)" stroke="url(#s10)" stroke-width="0.4"/>
<path d="M404.34 248.41V245.41Q404.34 244.61 405.14 244.61H405.33Q406.13 244.61 406.13 245.41V248.41Z" fill="url(#f3)" stroke="url(#s3)" stroke-width="0.4"/>
<line x1="375.9" y1="252.40" x2="447.64" y2="252.40" stroke="#aaaaaa" stroke-width="0.95"/>
<path d="M400.85 254.30V251.03Q400.85 250.50 401.38 250.50H401.38Q401.91 250.50 401.91 251.03V254.30Z" fill="url(#f4)" stroke="url(#s4)" stroke-width="0.4"/>
<path d="M402.01 254.30V251.10Q402.01 250.50 402.62 250.50H402.62Q403.22 250.50 403.22 251.10V254.30Z" fill="url(#f5)" stroke="url(#s5)" stroke-width="0.4"/>
<path d="M411.03 254.30V251.18Q411.03 250.50 411.71 250.50H411.71Q412.39 250.50 412.39 251.18V254.30Z" fill="url(#f9)" stroke="url(#s9)" stroke-width="0.4"/>
<path d="M413.50 254.30V251.30Q413.50 250.50 414.30 250.50H415.08Q415.88 250.50 415.88 251.30V254.30Z" fill="url(#f8)" stroke="url(#s8)" stroke-width="0.4"/>
<path d="M421.21 254.30V251.30Q421.21 250.50 422.01 250.50H422.06Q422.86 250.50 422.86 251.30V254.30Z" fill="url(#f7)" stroke="url(#s7)" stroke-width="0.4"/>
<path d="M427.61 254.30V251.03Q427.61 250.50 428.15 250.50H428.15Q428.68 250.50 428.68 251.03V254.30Z" fill="url(#f6)" stroke="url(#s6)" stroke-width="0.4"/>
<path d="M434.30 254.30V251.30Q434.30 250.50 435.10 250.50H435.44Q436.24 250.50 436.24 251.30V254.30Z" fill="url(#f1)" stroke="url(#s1)" stroke-width="0.4"/>
<path d="M439.25 254.30V251.18Q439.25 250.50 439.93 250.50H439.93Q440.60 250.50 440.60 251.18V254.30Z" fill="url(#f10)" stroke="url(#s10)" stroke-width="0.4"/>
<path d="M441.14 254.30V251.30Q441.14 250.50 441.94 250.50H442.13Q442.93 250.50 442.93 251.30V254.30Z" fill="url(#f3)" stroke="url(#s3)" stroke-width="0.4"/>
<path d="M444.78 254.30V251.30Q444.78 250.50 445.58 250.50H446.06Q446.86 250.50 446.86 251.30V254.30Z" fill="url(#f2)" stroke="url(#s2)" stroke-width="0.4"/>
<line x1="375.9" y1="258.29" x2="409.82" y2="258.29" stroke="#aaaaaa" stroke-width="0.95"/>
<path d="M378.60 260.19V256.92Q378.60 256.39 379.13 256.39H379.13Q379.66 256.39 379.66 256.92V260.19Z" fill="url(#f4)" stroke="url(#s4)" stroke-width="0.4"/>
<path d="M381.07 260.19V257.07Q381.07 256.39 381.75 256.39H381.75Q382.42 256.39 382.42 257.07V260.19Z" fill="url(#f3)" stroke="url(#s3)" stroke-width="0.4"/>
<path d="M392.12 260.19V257.19Q392.12 256.39 392.92 256.39H393.70Q394.50 256.39 394.50 257.19V260.19Z" fill="url(#f8)" stroke="url(#s8)" stroke-width="0.4"/>
<path d="M395.03 260.19V256.85Q395.03 256.39 395.49 256.39H395.49Q395.95 256.39 395.95 256.85V260.19Z" fill="url(#f4)" stroke="url(#s4)" stroke-width="0.4"/>
<path d="M400.85 260.19V257.19Q400.85 256.39 401.65 256.39H401.70Q402.50 256.39 402.50 257.19V260.19Z" fill="url(#f1)" stroke="url(#s1)" stroke-width="0.4"/>
<path d="M404.34 260.19V257.07Q404.34 256.39 405.02 256.39H405.02Q405.70 256.39 405.70 257.07V260.19Z" fill="url(#f3)" stroke="url(#s3)" stroke-width="0.4"/>
<path d="M407.69 260.19V257.19Q407.69 256.39 408.49 256.39H408.68Q409.48 256.39 409.48 257.19V260.19Z" fill="url(#f2)" stroke="url(#s2)" stroke-width="0.4"/>
<line x1="375.9" y1="264.18" x2="531.80" y2="264.18" stroke="#aaaaaa" stroke-width="0.95"/>
<path d="M385.87 266.08V262.81Q385.87 262.28 386.40 262.28H386.40Q386.93 262.28 386.93 262.81V266.08Z" fill="url(#f4)" stroke="url(#s4)" stroke-width="0.4"/>
<path d="M388.78 266.08V262.81Q388.78 262.28 389.31 262.28H389.31Q389.84 262.28 389.84 262.81V266.08Z" fill="url(#f5)" stroke="url(#s5)" stroke-width="0.4"/>
<path d="M398.96 266.08V263.08Q398.96 262.28 399.76 262.28H400.24Q401.04 262.28 401.04 263.08V266.08Z" fill="url(#f8)" stroke="url(#s8)" stroke-width="0.4"/>
<path d="M406.96 266.08V263.08Q406.96 262.28 407.76 262.28H407.80Q408.60 262.28 408.60 263.08V266.08Z" fill="url(#f7)" stroke="url(#s7)" stroke-width="0.4"/>
<path d="M413.07 266.08V262.81Q413.07 262.28 413.60 262.28H413.60Q414.13 262.28 414.13 262.81V266.08Z" fill="url(#f6)" stroke="url(#s6)" stroke-width="0.4"/>
<path d="M422.67 266.08V263.08Q422.67 262.28 423.47 262.28H423.80Q424.60 262.28 424.60 263.08V266.08Z" fill="url(#f1)" stroke="url(#s1)" stroke-width="0.4"/>
<path d="M429.50 266.08V262.96Q429.50 262.28 430.18 262.28H430.18Q430.86 262.28 430.86 262.96V266.08Z" fill="url(#f10)" stroke="url(#s10)" stroke-width="0.4"/>
<path d="M431.69 266.08V263.08Q431.69 262.28 432.49 262.28H432.53Q433.33 262.28 433.33 263.08V266.08Z" fill="url(#f3)" stroke="url(#s3)" stroke-width="0.4"/>
<path d="M436.05 266.08V263.08Q436.05 262.28 436.85 262.28H437.33Q438.13 262.28 438.13 263.08V266.08Z" fill="url(#f2)" stroke="url(#s2)" stroke-width="0.4"/>
<path d="M442.25 266.08V262.78Q442.25 262.28 442.75 262.28H442.75Q443.25 262.28 443.25 262.78V266.08Z" fill="url(#f4)" stroke="url(#s4)" stroke-width="0.4"/>
<path d="M444.05 266.08V262.98Q444.05 262.28 444.75 262.28H444.75Q445.45 262.28 445.45 262.98V266.08Z" fill="url(#f5)" stroke="url(#s5)" stroke-width="0.4"/>
<path d="M458.25 266.08V262.73Q458.25 262.28 458.70 262.28H458.70Q459.15 262.28 459.15 262.73V266.08Z" fill="url(#f4)" stroke="url(#s4)" stroke-width="0.4"/>
<path d="M460.05 266.08V262.73Q460.05 262.28 460.50 262.28H460.50Q460.95 262.28 460.95 262.73V266.08Z" fill="url(#f6)" stroke="url(#s6)" stroke-width="0.4"/>
<path d="M469.05 266.08V263.08Q469.05 262.28 469.85 262.28H470.05Q470.85 262.28 470.85 263.08V266.08Z" fill="url(#f1)" stroke="url(#s1)" stroke-width="0.4"/>
<path d="M476.05 266.08V262.88Q476.05 262.28 476.65 262.28H476.65Q477.25 262.28 477.25 262.88V266.08Z" fill="url(#f10)" stroke="url(#s10)" stroke-width="0.4"/>
<path d="M478.25 266.08V262.93Q478.25 262.28 478.90 262.28H478.90Q479.55 262.28 479.55 262.93V266.08Z" fill="url(#f3)" stroke="url(#s3)" stroke-width="0.4"/>
<line x1="375.9" y1="270.07" x2="487.60" y2="270.07" stroke="#aaaaaa" stroke-width="0.95"/>
<path d="M387.76 271.97V268.70Q387.76 268.17 388.29 268.17H388.29Q388.82 268.17 388.82 268.70V271.97Z" fill="url(#f4)" stroke="url(#s4)" stroke-width="0.4"/>
<path d="M390.23 271.97V268.70Q390.23 268.17 390.76 268.17H390.76Q391.30 268.17 391.30 268.70V271.97Z" fill="url(#f5)" stroke="url(#s5)" stroke-width="0.4"/>
<path d="M401.14 271.97V268.97Q401.14 268.17 401.94 268.17H402.42Q403.22 268.17 403.22 268.97V271.97Z" fill="url(#f8)" stroke="url(#s8)" stroke-width="0.4"/>
<path d="M408.41 271.97V268.97Q408.41 268.17 409.21 268.17H409.26Q410.06 268.17 410.06 268.97V271.97Z" fill="url(#f7)" stroke="url(#s7)" stroke-width="0.4"/>
<path d="M414.96 271.97V268.63Q414.96 268.17 415.42 268.17H415.42Q415.88 268.17 415.88 268.63V271.97Z" fill="url(#f6)" stroke="url(#s6)" stroke-width="0.4"/>
<path d="M424.12 271.97V268.97Q424.12 268.17 424.92 268.17H425.26Q426.06 268.17 426.06 268.97V271.97Z" fill="url(#f1)" stroke="url(#s1)" stroke-width="0.4"/>
<path d="M431.69 271.97V268.85Q431.69 268.17 432.36 268.17H432.36Q433.04 268.17 433.04 268.85V271.97Z" fill="url(#f10)" stroke="url(#s10)" stroke-width="0.4"/>
<path d="M433.87 271.97V268.97Q433.87 268.17 434.67 268.17H434.86Q435.66 268.17 435.66 268.97V271.97Z" fill="url(#f3)" stroke="url(#s3)" stroke-width="0.4"/>
<path d="M438.23 271.97V268.97Q438.23 268.17 439.03 268.17H439.22Q440.02 268.17 440.02 268.97V271.97Z" fill="url(#f2)" stroke="url(#s2)" stroke-width="0.4"/>
<path d="M442.25 271.97V268.67Q442.25 268.17 442.75 268.17H442.75Q443.25 268.17 443.25 268.67V271.97Z" fill="url(#f4)" stroke="url(#s4)" stroke-width="0.4"/>
<path d="M444.05 271.97V268.87Q444.05 268.17 444.75 268.17H444.75Q445.45 268.17 445.45 268.87V271.97Z" fill="url(#f5)" stroke="url(#s5)" stroke-width="0.4"/>
<path d="M455.55 271.97V268.97Q455.55 268.17 456.35 268.17H456.45Q457.25 268.17 457.25 268.97V271.97Z" fill="url(#f8)" stroke="url(#s8)" stroke-width="0.4"/>
<path d="M463.35 271.97V268.72Q463.35 268.17 463.90 268.17H463.90Q464.45 268.17 464.45 268.72V271.97Z" fill="url(#f7)" stroke="url(#s7)" stroke-width="0.4"/>
<path d="M469.05 271.97V268.62Q469.05 268.17 469.50 268.17H469.50Q469.95 268.17 469.95 268.62V271.97Z" fill="url(#f6)" stroke="url(#s6)" stroke-width="0.4"/>
<path d="M477.85 271.97V268.77Q477.85 268.17 478.45 268.17H478.45Q479.05 268.17 479.05 268.77V271.97Z" fill="url(#f1)" stroke="url(#s1)" stroke-width="0.4"/>
<path d="M485.05 271.97V268.97Q485.05 268.17 485.85 268.17H486.15Q486.95 268.17 486.95 268.97V271.97Z" fill="url(#f10)" stroke="url(#s10)" stroke-width="0.4"/>
<line x1="375.9" y1="275.96" x2="440.18" y2="275.96" stroke="#aaaaaa" stroke-width="0.95"/>
<path d="M387.50 277.86V274.65Q387.50 274.06 388.09 274.06H388.09Q388.68 274.06 388.68 274.65V277.86Z" fill="url(#f4)" stroke="url(#s4)" stroke-width="0.4"/>
<path d="M389.32 277.86V274.65Q389.32 274.06 389.91 274.06H389.91Q390.50 274.06 390.50 274.65V277.86Z" fill="url(#f5)" stroke="url(#s5)" stroke-width="0.4"/>
<path d="M401.14 277.86V274.86Q401.14 274.06 401.94 274.06H402.42Q403.22 274.06 403.22 274.86V277.86Z" fill="url(#f8)" stroke="url(#s8)" stroke-width="0.4"/>
<path d="M408.41 277.86V274.86Q408.41 274.06 409.21 274.06H409.33Q410.13 274.06 410.13 274.86V277.86Z" fill="url(#f7)" stroke="url(#s7)" stroke-width="0.4"/>
<path d="M414.78 277.86V274.51Q414.78 274.06 415.23 274.06H415.23Q415.68 274.06 415.68 274.51V277.86Z" fill="url(#f6)" stroke="url(#s6)" stroke-width="0.4"/>
<path d="M424.41 277.86V274.86Q424.41 274.06 425.21 274.06H425.33Q426.13 274.06 426.13 274.86V277.86Z" fill="url(#f1)" stroke="url(#s1)" stroke-width="0.4"/>
<path d="M431.14 277.86V274.74Q431.14 274.06 431.82 274.06H431.82Q432.50 274.06 432.50 274.74V277.86Z" fill="url(#f10)" stroke="url(#s10)" stroke-width="0.4"/>
<path d="M433.50 277.86V274.86Q433.50 274.06 434.30 274.06H434.42Q435.22 274.06 435.22 274.86V277.86Z" fill="url(#f3)" stroke="url(#s3)" stroke-width="0.4"/>
<path d="M437.87 277.86V274.86Q437.87 274.06 438.67 274.06H438.79Q439.59 274.06 439.59 274.86V277.86Z" fill="url(#f2)" stroke="url(#s2)" stroke-width="0.4"/>
<line x1="375.9" y1="281.85" x2="440.18" y2="281.85" stroke="#aaaaaa" stroke-width="0.95"/>
<path d="M387.50 283.75V280.54Q387.50 279.95 388.09 279.95H388.09Q388.68 279.95 388.68 280.54V283.75Z" fill="url(#f4)" stroke="url(#s4)" stroke-width="0.4"/>
<path d="M389.32 283.75V280.54Q389.32 279.95 389.91 279.95H389.91Q390.50 279.95 390.50 280.54V283.75Z" fill="url(#f5)" stroke="url(#s5)" stroke-width="0.4"/>
<path d="M401.14 283.75V280.75Q401.14 279.95 401.94 279.95H402.42Q403.22 279.95 403.22 280.75V283.75Z" fill="url(#f8)" stroke="url(#s8)" stroke-width="0.4"/>
<path d="M408.41 283.75V280.75Q408.41 279.95 409.21 279.95H409.33Q410.13 279.95 410.13 280.75V283.75Z" fill="url(#f7)" stroke="url(#s7)" stroke-width="0.4"/>
<path d="M414.78 283.75V280.40Q414.78 279.95 415.23 279.95H415.23Q415.68 279.95 415.68 280.40V283.75Z" fill="url(#f6)" stroke="url(#s6)" stroke-width="0.4"/>
<path d="M424.41 283.75V280.75Q424.41 279.95 425.21 279.95H425.33Q426.13 279.95 426.13 280.75V283.75Z" fill="url(#f1)" stroke="url(#s1)" stroke-width="0.4"/>
<path d="M431.14 283.75V280.63Q431.14 279.95 431.82 279.95H431.82Q432.50 279.95 432.50 280.63V283.75Z" fill="url(#f10)" stroke="url(#s10)" stroke-width="0.4"/>
<path d="M433.50 283.75V280.75Q433.50 279.95 434.30 279.95H434.42Q435.22 279.95 435.22 280.75V283.75Z" fill="url(#f3)" stroke="url(#s3)" stroke-width="0.4"/>
<path d="M437.87 283.75V280.75Q437.87 279.95 438.67 279.95H438.79Q439.59 279.95 439.59 280.75V283.75Z" fill="url(#f2)" stroke="url(#s2)" stroke-width="0.4"/>
<line x1="375.9" y1="287.74" x2="433.82" y2="287.74" stroke="#aaaaaa" stroke-width="0.95"/>
<path d="M387.50 289.64V286.43Q387.50 285.84 388.09 285.84H388.09Q388.68 285.84 388.68 286.43V289.64Z" fill="url(#f4)" stroke="url(#s4)" stroke-width="0.4"/>
<path d="M389.32 289.64V286.43Q389.32 285.84 389.91 285.84H389.91Q390.50 285.84 390.50 286.43V289.64Z" fill="url(#f5)" stroke="url(#s5)" stroke-width="0.4"/>
<path d="M398.41 289.64V286.43Q398.41 285.84 399.00 285.84H399.00Q399.59 285.84 399.59 286.43V289.64Z" fill="url(#f9)" stroke="url(#s9)" stroke-width="0.4"/>
<path d="M403.32 289.64V286.52Q403.32 285.84 404.00 285.84H404.00Q404.68 285.84 404.68 286.52V289.64Z" fill="url(#f7)" stroke="url(#s7)" stroke-width="0.4"/>
<path d="M407.50 289.64V286.43Q407.50 285.84 408.09 285.84H408.09Q408.68 285.84 408.68 286.43V289.64Z" fill="url(#f4)" stroke="url(#s4)" stroke-width="0.4"/>
<path d="M410.23 289.64V286.29Q410.23 285.84 410.68 285.84H410.68Q411.13 285.84 411.13 286.29V289.64Z" fill="url(#f6)" stroke="url(#s6)" stroke-width="0.4"/>
<path d="M418.41 289.64V286.64Q418.41 285.84 419.21 285.84H419.33Q420.13 285.84 420.13 286.64V289.64Z" fill="url(#f1)" stroke="url(#s1)" stroke-width="0.4"/>
<path d="M424.78 289.64V286.52Q424.78 285.84 425.45 285.84H425.45Q426.13 285.84 426.13 286.52V289.64Z" fill="url(#f10)" stroke="url(#s10)" stroke-width="0.4"/>
<path d="M427.50 289.64V286.43Q427.50 285.84 428.09 285.84H428.09Q428.68 285.84 428.68 286.43V289.64Z" fill="url(#f3)" stroke="url(#s3)" stroke-width="0.4"/>
<path d="M431.14 289.64V286.64Q431.14 285.84 431.94 285.84H432.06Q432.86 285.84 432.86 286.64V289.64Z" fill="url(#f2)" stroke="url(#s2)" stroke-width="0.4"/>
<line x1="375.9" y1="293.63" x2="436.55" y2="293.63" stroke="#aaaaaa" stroke-width="0.95"/>
<path d="M385.14 295.53V292.41Q385.14 291.73 385.82 291.73H385.82Q386.50 291.73 386.50 292.41V295.53Z" fill="url(#f4)" stroke="url(#s4)" stroke-width="0.4"/>
<path d="M388.05 295.53V292.32Q388.05 291.73 388.64 291.73H388.64Q389.22 291.73 389.22 292.32V295.53Z" fill="url(#f5)" stroke="url(#s5)" stroke-width="0.4"/>
<path d="M398.96 295.53V292.53Q398.96 291.73 399.76 291.73H400.24Q401.04 291.73 401.04 292.53V295.53Z" fill="url(#f8)" stroke="url(#s8)" stroke-width="0.4"/>
<path d="M405.69 295.53V292.53Q405.69 291.73 406.49 291.73H406.60Q407.40 291.73 407.40 292.53V295.53Z" fill="url(#f7)" stroke="url(#s7)" stroke-width="0.4"/>
<path d="M409.87 295.53V292.32Q409.87 291.73 410.45 291.73H410.45Q411.04 291.73 411.04 292.32V295.53Z" fill="url(#f4)" stroke="url(#s4)" stroke-width="0.4"/>
<path d="M412.05 295.53V292.41Q412.05 291.73 412.73 291.73H412.73Q413.40 291.73 413.40 292.41V295.53Z" fill="url(#f6)" stroke="url(#s6)" stroke-width="0.4"/>
<path d="M421.14 295.53V292.53Q421.14 291.73 421.94 291.73H422.06Q422.86 291.73 422.86 292.53V295.53Z" fill="url(#f1)" stroke="url(#s1)" stroke-width="0.4"/>
<path d="M428.05 295.53V292.53Q428.05 291.73 428.85 291.73H428.97Q429.77 291.73 429.77 292.53V295.53Z" fill="url(#f10)" stroke="url(#s10)" stroke-width="0.4"/>
<path d="M430.23 295.53V292.53Q430.23 291.73 431.03 291.73H431.15Q431.95 291.73 431.95 292.53V295.53Z" fill="url(#f3)" stroke="url(#s3)" stroke-width="0.4"/>
<path d="M434.23 295.53V292.53Q434.23 291.73 435.03 291.73H435.15Q435.95 291.73 435.95 292.53V295.53Z" fill="url(#f2)" stroke="url(#s2)" stroke-width="0.4"/>
<line x1="375.9" y1="299.52" x2="393.82" y2="299.52" stroke="#aaaaaa" stroke-width="0.95"/>
<path d="M379.69 301.42V298.30Q379.69 297.62 380.36 297.62H380.36Q381.04 297.62 381.04 298.30V301.42Z" fill="url(#f4)" stroke="url(#s4)" stroke-width="0.4"/>
<path d="M382.05 301.42V298.21Q382.05 297.62 382.64 297.62H382.64Q383.22 297.62 383.22 298.21V301.42Z" fill="url(#f5)" stroke="url(#s5)" stroke-width="0.4"/>
<path d="M391.14 301.42V298.42Q391.14 297.62 391.94 297.62H392.60Q393.40 297.62 393.40 298.42V301.42Z" fill="url(#f8)" stroke="url(#s8)" stroke-width="0.4"/>
<line x1="375.9" y1="305.41" x2="399.27" y2="305.41" stroke="#aaaaaa" stroke-width="0.95"/>
<path d="M378.41 307.31V304.31Q378.41 303.51 379.21 303.51H379.33Q380.13 303.51 380.13 304.31V307.31Z" fill="url(#f7)" stroke="url(#s7)" stroke-width="0.4"/>
<path d="M382.05 307.31V304.10Q382.05 303.51 382.64 303.51H382.64Q383.22 303.51 383.22 304.10V307.31Z" fill="url(#f4)" stroke="url(#s4)" stroke-width="0.4"/>
<path d="M383.87 307.31V304.10Q383.87 303.51 384.45 303.51H384.45Q385.04 303.51 385.04 304.10V307.31Z" fill="url(#f6)" stroke="url(#s6)" stroke-width="0.4"/>
<path d="M393.87 307.31V304.31Q393.87 303.51 394.67 303.51H394.79Q395.59 303.51 395.59 304.31V307.31Z" fill="url(#f1)" stroke="url(#s1)" stroke-width="0.4"/>
<line x1="375.9" y1="311.30" x2="434.73" y2="311.30" stroke="#aaaaaa" stroke-width="0.95"/>
<path d="M386.23 313.20V309.99Q386.23 309.40 386.82 309.40H386.82Q387.40 309.40 387.40 309.99V313.20Z" fill="url(#f4)" stroke="url(#s4)" stroke-width="0.4"/>
<path d="M388.78 313.20V310.08Q388.78 309.40 389.45 309.40H389.45Q390.13 309.40 390.13 310.08V313.20Z" fill="url(#f5)" stroke="url(#s5)" stroke-width="0.4"/>
<path d="M399.32 313.20V310.20Q399.32 309.40 400.12 309.40H400.60Q401.40 309.40 401.40 310.20V313.20Z" fill="url(#f8)" stroke="url(#s8)" stroke-width="0.4"/>
<path d="M406.96 313.20V310.08Q406.96 309.40 407.64 309.40H407.64Q408.31 309.40 408.31 310.08V313.20Z" fill="url(#f7)" stroke="url(#s7)" stroke-width="0.4"/>
<path d="M410.60 313.20V310.08Q410.60 309.40 411.27 309.40H411.27Q411.95 309.40 411.95 310.08V313.20Z" fill="url(#f4)" stroke="url(#s4)" stroke-width="0.4"/>
<path d="M412.96 313.20V309.99Q412.96 309.40 413.55 309.40H413.55Q414.13 309.40 414.13 309.99V313.20Z" fill="url(#f6)" stroke="url(#s6)" stroke-width="0.4"/>
<path d="M422.96 313.20V310.20Q422.96 309.40 423.76 309.40H423.88Q424.68 309.40 424.68 310.20V313.20Z" fill="url(#f1)" stroke="url(#s1)" stroke-width="0.4"/>
<path d="M429.32 313.20V309.99Q429.32 309.40 429.91 309.40H429.91Q430.50 309.40 430.50 309.99V313.20Z" fill="url(#f10)" stroke="url(#s10)" stroke-width="0.4"/>
<path d="M431.14 313.20V310.20Q431.14 309.40 431.94 309.40H432.06Q432.86 309.40 432.86 310.20V313.20Z" fill="url(#f3)" stroke="url(#s3)" stroke-width="0.4"/>
<line x1="375.9" y1="317.19" x2="430.18" y2="317.19" stroke="#aaaaaa" stroke-width="0.95"/>
<path d="M386.96 319.09V315.97Q386.96 315.29 387.64 315.29H387.64Q388.31 315.29 388.31 315.97V319.09Z" fill="url(#f4)" stroke="url(#s4)" stroke-width="0.4"/>
<path d="M389.32 319.09V315.88Q389.32 315.29 389.91 315.29H389.91Q390.50 315.29 390.50 315.88V319.09Z" fill="url(#f5)" stroke="url(#s5)" stroke-width="0.4"/>
<path d="M403.32 319.09V315.97Q403.32 315.29 404.00 315.29H404.00Q404.68 315.29 404.68 315.97V319.09Z" fill="url(#f4)" stroke="url(#s4)" stroke-width="0.4"/>
<path d="M405.14 319.09V315.79Q405.14 315.29 405.64 315.29H405.64Q406.13 315.29 406.13 315.79V319.09Z" fill="url(#f6)" stroke="url(#s6)" stroke-width="0.4"/>
<path d="M415.69 319.09V316.09Q415.69 315.29 416.49 315.29H416.60Q417.40 315.29 417.40 316.09V319.09Z" fill="url(#f1)" stroke="url(#s1)" stroke-width="0.4"/>
<path d="M422.05 319.09V315.88Q422.05 315.29 422.64 315.29H422.64Q423.22 315.29 423.22 315.88V319.09Z" fill="url(#f10)" stroke="url(#s10)" stroke-width="0.4"/>
<path d="M423.87 319.09V316.09Q423.87 315.29 424.67 315.29H424.79Q425.59 315.29 425.59 316.09V319.09Z" fill="url(#f3)" stroke="url(#s3)" stroke-width="0.4"/>
<path d="M428.05 319.09V316.09Q428.05 315.29 428.85 315.29H428.97Q429.77 315.29 429.77 316.09V319.09Z" fill="url(#f2)" stroke="url(#s2)" stroke-width="0.4"/>
<line x1="375.9" y1="323.08" x2="402.91" y2="323.08" stroke="#aaaaaa" stroke-width="0.95"/>
<path d="M377.14 324.98V321.77Q377.14 321.18 377.73 321.18H377.73Q378.31 321.18 378.31 321.77V324.98Z" fill="url(#f4)" stroke="url(#s4)" stroke-width="0.4"/>
<path d="M378.96 324.98V321.77Q378.96 321.18 379.55 321.18H379.55Q380.13 321.18 380.13 321.77V324.98Z" fill="url(#f6)" stroke="url(#s6)" stroke-width="0.4"/>
<path d="M388.78 324.98V321.86Q388.78 321.18 389.45 321.18H389.45Q390.13 321.18 390.13 321.86V324.98Z" fill="url(#f1)" stroke="url(#s1)" stroke-width="0.4"/>
<path d="M395.69 324.98V321.77Q395.69 321.18 396.27 321.18H396.27Q396.86 321.18 396.86 321.77V324.98Z" fill="url(#f10)" stroke="url(#s10)" stroke-width="0.4"/>
<path d="M397.50 324.98V321.98Q397.50 321.18 398.30 321.18H398.42Q399.22 321.18 399.22 321.98V324.98Z" fill="url(#f3)" stroke="url(#s3)" stroke-width="0.4"/>
<path d="M401.14 324.98V321.98Q401.14 321.18 401.94 321.18H402.06Q402.86 321.18 402.86 321.98V324.98Z" fill="url(#f2)" stroke="url(#s2)" stroke-width="0.4"/>
<line x1="375.9" y1="328.97" x2="383.82" y2="328.97" stroke="#aaaaaa" stroke-width="0.95"/>
<path d="M377.14 330.87V327.87Q377.14 327.07 377.94 327.07H378.06Q378.86 327.07 378.86 327.87V330.87Z" fill="url(#f3)" stroke="url(#s3)" stroke-width="0.4"/>
<path d="M381.50 330.87V327.87Q381.50 327.07 382.30 327.07H382.42Q383.22 327.07 383.22 327.87V330.87Z" fill="url(#f2)" stroke="url(#s2)" stroke-width="0.4"/>
<line x1="375.9" y1="334.86" x2="432.00" y2="334.86" stroke="#aaaaaa" stroke-width="0.95"/>
<path d="M383.32 336.76V333.64Q383.32 332.96 384.00 332.96H384.00Q384.68 332.96 384.68 333.64V336.76Z" fill="url(#f4)" stroke="url(#s4)" stroke-width="0.4"/>
<path d="M385.14 336.76V333.64Q385.14 332.96 385.82 332.96H385.82Q386.50 332.96 386.50 333.64V336.76Z" fill="url(#f5)" stroke="url(#s5)" stroke-width="0.4"/>
<path d="M397.14 336.76V333.76Q397.14 332.96 397.94 332.96H398.42Q399.22 332.96 399.22 333.76V336.76Z" fill="url(#f8)" stroke="url(#s8)" stroke-width="0.4"/>
<path d="M404.41 336.76V333.76Q404.41 332.96 405.21 332.96H405.33Q406.13 332.96 406.13 333.76V336.76Z" fill="url(#f7)" stroke="url(#s7)" stroke-width="0.4"/>
<path d="M407.50 336.76V333.55Q407.50 332.96 408.09 332.96H408.09Q408.68 332.96 408.68 333.55V336.76Z" fill="url(#f6)" stroke="url(#s6)" stroke-width="0.4"/>
<path d="M417.50 336.76V333.76Q417.50 332.96 418.30 332.96H418.42Q419.22 332.96 419.22 333.76V336.76Z" fill="url(#f1)" stroke="url(#s1)" stroke-width="0.4"/>
<path d="M424.41 336.76V333.55Q424.41 332.96 425.00 332.96H425.00Q425.59 332.96 425.59 333.55V336.76Z" fill="url(#f10)" stroke="url(#s10)" stroke-width="0.4"/>
<path d="M426.23 336.76V333.55Q426.23 332.96 426.82 332.96H426.82Q427.40 332.96 427.40 333.55V336.76Z" fill="url(#f3)" stroke="url(#s3)" stroke-width="0.4"/>
<path d="M430.23 336.76V333.76Q430.23 332.96 431.03 332.96H431.15Q431.95 332.96 431.95 333.76V336.76Z" fill="url(#f2)" stroke="url(#s2)" stroke-width="0.4"/>
<line x1="375.9" y1="340.75" x2="434.73" y2="340.75" stroke="#aaaaaa" stroke-width="0.95"/>
<path d="M383.32 342.65V339.53Q383.32 338.85 384.00 338.85H384.00Q384.68 338.85 384.68 339.53V342.65Z" fill="url(#f4)" stroke="url(#s4)" stroke-width="0.4"/>
<path d="M385.14 342.65V339.53Q385.14 338.85 385.82 338.85H385.82Q386.50 338.85 386.50 339.53V342.65Z" fill="url(#f5)" stroke="url(#s5)" stroke-width="0.4"/>
<path d="M397.14 342.65V339.65Q397.14 338.85 397.94 338.85H398.42Q399.22 338.85 399.22 339.65V342.65Z" fill="url(#f8)" stroke="url(#s8)" stroke-width="0.4"/>
<path d="M404.41 342.65V339.65Q404.41 338.85 405.21 338.85H405.33Q406.13 338.85 406.13 339.65V342.65Z" fill="url(#f7)" stroke="url(#s7)" stroke-width="0.4"/>
<path d="M407.50 342.65V339.44Q407.50 338.85 408.09 338.85H408.09Q408.68 338.85 408.68 339.44V342.65Z" fill="url(#f4)" stroke="url(#s4)" stroke-width="0.4"/>
<path d="M409.32 342.65V339.44Q409.32 338.85 409.91 338.85H409.91Q410.50 338.85 410.50 339.44V342.65Z" fill="url(#f6)" stroke="url(#s6)" stroke-width="0.4"/>
<path d="M418.41 342.65V339.65Q418.41 338.85 419.21 338.85H419.33Q420.13 338.85 420.13 339.65V342.65Z" fill="url(#f1)" stroke="url(#s1)" stroke-width="0.4"/>
<path d="M425.14 342.65V339.53Q425.14 338.85 425.82 338.85H425.82Q426.50 338.85 426.50 339.53V342.65Z" fill="url(#f10)" stroke="url(#s10)" stroke-width="0.4"/>
<path d="M427.50 342.65V339.44Q427.50 338.85 428.09 338.85H428.09Q428.68 338.85 428.68 339.44V342.65Z" fill="url(#f3)" stroke="url(#s3)" stroke-width="0.4"/>
<path d="M432.05 342.65V339.65Q432.05 338.85 432.85 338.85H432.97Q433.77 338.85 433.77 339.65V342.65Z" fill="url(#f2)" stroke="url(#s2)" stroke-width="0.4"/>
<g font-family="Liberation Serif" font-size="5.3" fill="#1a1a1a">
<rect x="514.1" y="16.20" width="12.6" height="4.8" fill="url(#l5)"/>
<text x="528.2" y="19.60">Motif 5</text>
<rect x="514.1" y="22.88" width="12.6" height="4.8" fill="url(#l9)"/>
<text x="528.2" y="26.28">Motif 9</text>
<rect x="514.1" y="29.56" width="12.6" height="4.8" fill="url(#l7)"/>
<text x="528.2" y="32.96">Motif 7</text>
<rect x="514.1" y="36.24" width="12.6" height="4.8" fill="url(#l6)"/>
<text x="528.2" y="39.64">Motif 6</text>
<rect x="514.1" y="42.92" width="12.6" height="4.8" fill="url(#l1)"/>
<text x="528.2" y="46.32">Motif 1</text>
<rect x="514.1" y="49.60" width="12.6" height="4.8" fill="url(#l10)"/>
<text x="528.2" y="53.00">Motif 10</text>
<rect x="514.1" y="56.28" width="12.6" height="4.8" fill="url(#l3)"/>
<text x="528.2" y="59.68">Motif 3</text>
<rect x="514.1" y="62.96" width="12.6" height="4.8" fill="url(#l2)"/>
<text x="528.2" y="66.36">Motif 2</text>
<rect x="514.1" y="69.64" width="12.6" height="4.8" fill="url(#l8)"/>
<text x="528.2" y="73.04">Motif 8</text>
<rect x="514.1" y="76.32" width="12.6" height="4.8" fill="url(#l4)"/>
<text x="528.2" y="79.72">Motif 4</text>
</g>
<line x1="375.7" y1="347.1" x2="531.2" y2="347.1" stroke="#8a8a8a" stroke-width="0.75"/>
<g font-family="Liberation Serif" font-size="5.9" fill="#333" text-anchor="middle">
<line x1="375.90" y1="347.1" x2="375.90" y2="346.0" stroke="#8a8a8a" stroke-width="0.5"/>
<text x="376.20" y="353.9">0</text>
<line x1="406.92" y1="347.1" x2="406.92" y2="346.0" stroke="#8a8a8a" stroke-width="0.5"/>
<text x="407.22" y="353.9">300</text>
<line x1="437.94" y1="347.1" x2="437.94" y2="346.0" stroke="#8a8a8a" stroke-width="0.5"/>
<text x="438.24" y="353.9">600</text>
<line x1="468.96" y1="347.1" x2="468.96" y2="346.0" stroke="#8a8a8a" stroke-width="0.5"/>
<text x="469.26" y="353.9">900</text>
<line x1="499.98" y1="347.1" x2="499.98" y2="346.0" stroke="#8a8a8a" stroke-width="0.5"/>
<text x="500.28" y="353.9">1200</text>
<line x1="531.00" y1="347.1" x2="531.00" y2="346.0" stroke="#8a8a8a" stroke-width="0.5"/>
<text x="531.30" y="353.9">1500</text>
<text x="373.6" y="348.4" font-size="6.4">5'</text><text x="535.3" y="347.6" font-size="6.4">3'</text>
</g>
</svg>
</body></html>
